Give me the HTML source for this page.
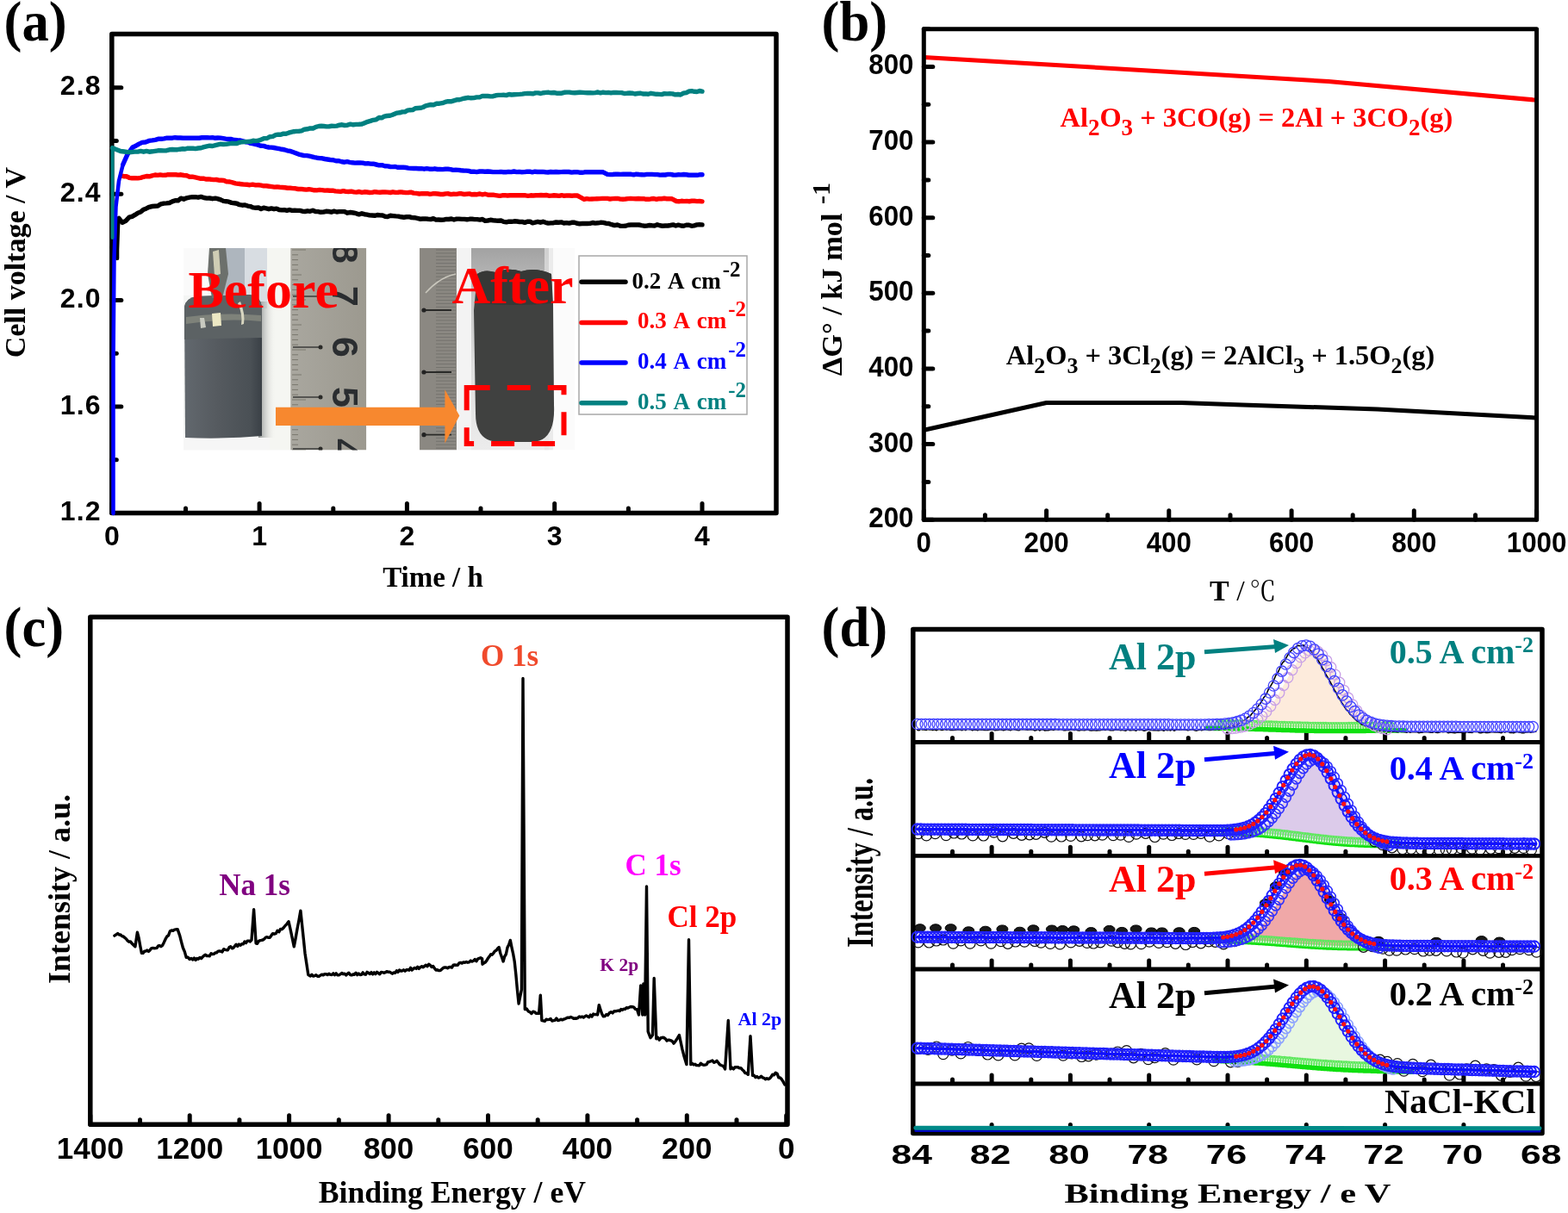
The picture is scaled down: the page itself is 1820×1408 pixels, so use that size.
<!DOCTYPE html><html><head><meta charset="utf-8"><style>html,body{margin:0;padding:0;background:#fff;overflow:hidden;}svg{display:block;}</style></head><body>
<svg width="1820" height="1408" viewBox="0 0 1820 1408">
<rect width="1820" height="1408" fill="#fff"/>
<text x="0" y="0" font-family="'Liberation Serif','Times New Roman',serif" font-size="66" font-weight="bold" text-anchor="start" fill="#000" transform="translate(4.5,47) scale(0.95,1)">(a)</text>
<text x="0" y="0" font-family="'Liberation Serif','Times New Roman',serif" font-size="66" font-weight="bold" text-anchor="start" fill="#000" transform="translate(953.5,47) scale(0.95,1)">(b)</text>
<text x="0" y="0" font-family="'Liberation Serif','Times New Roman',serif" font-size="66" font-weight="bold" text-anchor="start" fill="#000" transform="translate(4.5,749.5) scale(0.95,1)">(c)</text>
<text x="0" y="0" font-family="'Liberation Serif','Times New Roman',serif" font-size="66" font-weight="bold" text-anchor="start" fill="#000" transform="translate(953.5,749.5) scale(0.95,1)">(d)</text>
<defs>
<linearGradient id="bgL" x1="0" y1="0" x2="1" y2="0">
 <stop offset="0" stop-color="#cfd3d8"/><stop offset="0.45" stop-color="#e4e6e8"/><stop offset="0.75" stop-color="#f6f6f4"/><stop offset="1" stop-color="#f2f2ee"/></linearGradient>
<linearGradient id="rulerL" x1="0" y1="0" x2="1" y2="0">
 <stop offset="0" stop-color="#a9a79f"/><stop offset="1" stop-color="#9c998f"/></linearGradient>
<linearGradient id="cylL" x1="0" y1="0" x2="1" y2="0">
 <stop offset="0" stop-color="#62686e"/><stop offset="0.4" stop-color="#565b60"/><stop offset="0.85" stop-color="#4a5055"/><stop offset="1" stop-color="#3a4046"/></linearGradient>
<linearGradient id="shadowL" x1="0" y1="0" x2="1" y2="0">
 <stop offset="0" stop-color="#8e9290"/><stop offset="1" stop-color="#f3f4f0" stop-opacity="0"/></linearGradient>
<linearGradient id="bgR" x1="0" y1="0" x2="0" y2="1">
 <stop offset="0" stop-color="#a2a2a2"/><stop offset="0.25" stop-color="#c4c4c4"/><stop offset="0.6" stop-color="#dedede"/><stop offset="1" stop-color="#ececec"/></linearGradient>
<linearGradient id="rulerR" x1="0" y1="0" x2="1" y2="0">
 <stop offset="0" stop-color="#8f8d88"/><stop offset="1" stop-color="#7f7e7a"/></linearGradient>
</defs>
<clipPath id="clipL"><rect x="213" y="288" width="212.3" height="234.5"/></clipPath>
<clipPath id="clipR"><rect x="487" y="288" width="180" height="234.5"/></clipPath>
<g clip-path="url(#clipL)">
<rect x="213" y="288" width="124.5" height="234.5" fill="#f4f5f4"/>
<rect x="213" y="288" width="28" height="55" fill="#fafafa"/>
<rect x="258" y="288" width="26" height="60" fill="#aeb6be"/>
<rect x="284" y="288" width="26" height="70" fill="#d8dde2"/>
<rect x="310" y="288" width="27.5" height="234.5" fill="#f5f6f2"/>
<rect x="213" y="508" width="100" height="14.5" fill="#f6f6f6"/>
<rect x="337.3" y="288" width="88" height="234.5" fill="url(#rulerL)"/>
<line x1="339" y1="290" x2="355" y2="290" stroke="#7a786e" stroke-width="1.0" stroke-linecap="butt"/>
<line x1="339" y1="295.8" x2="346" y2="295.8" stroke="#7a786e" stroke-width="1.0" stroke-linecap="butt"/>
<line x1="339" y1="301.6" x2="346" y2="301.6" stroke="#7a786e" stroke-width="1.0" stroke-linecap="butt"/>
<line x1="339" y1="307.4" x2="346" y2="307.4" stroke="#7a786e" stroke-width="1.0" stroke-linecap="butt"/>
<line x1="339" y1="313.2" x2="346" y2="313.2" stroke="#7a786e" stroke-width="1.0" stroke-linecap="butt"/>
<line x1="339" y1="319" x2="350" y2="319" stroke="#7a786e" stroke-width="1.0" stroke-linecap="butt"/>
<line x1="339" y1="324.8" x2="346" y2="324.8" stroke="#7a786e" stroke-width="1.0" stroke-linecap="butt"/>
<line x1="339" y1="330.6" x2="346" y2="330.6" stroke="#7a786e" stroke-width="1.0" stroke-linecap="butt"/>
<line x1="339" y1="336.4" x2="346" y2="336.4" stroke="#7a786e" stroke-width="1.0" stroke-linecap="butt"/>
<line x1="339" y1="342.2" x2="346" y2="342.2" stroke="#7a786e" stroke-width="1.0" stroke-linecap="butt"/>
<line x1="339" y1="348" x2="355" y2="348" stroke="#7a786e" stroke-width="1.0" stroke-linecap="butt"/>
<line x1="339" y1="353.8" x2="346" y2="353.8" stroke="#7a786e" stroke-width="1.0" stroke-linecap="butt"/>
<line x1="339" y1="359.6" x2="346" y2="359.6" stroke="#7a786e" stroke-width="1.0" stroke-linecap="butt"/>
<line x1="339" y1="365.4" x2="346" y2="365.4" stroke="#7a786e" stroke-width="1.0" stroke-linecap="butt"/>
<line x1="339" y1="371.2" x2="346" y2="371.2" stroke="#7a786e" stroke-width="1.0" stroke-linecap="butt"/>
<line x1="339" y1="377" x2="350" y2="377" stroke="#7a786e" stroke-width="1.0" stroke-linecap="butt"/>
<line x1="339" y1="382.8" x2="346" y2="382.8" stroke="#7a786e" stroke-width="1.0" stroke-linecap="butt"/>
<line x1="339" y1="388.6" x2="346" y2="388.6" stroke="#7a786e" stroke-width="1.0" stroke-linecap="butt"/>
<line x1="339" y1="394.4" x2="346" y2="394.4" stroke="#7a786e" stroke-width="1.0" stroke-linecap="butt"/>
<line x1="339" y1="400.2" x2="346" y2="400.2" stroke="#7a786e" stroke-width="1.0" stroke-linecap="butt"/>
<line x1="339" y1="406" x2="355" y2="406" stroke="#7a786e" stroke-width="1.0" stroke-linecap="butt"/>
<line x1="339" y1="411.8" x2="346" y2="411.8" stroke="#7a786e" stroke-width="1.0" stroke-linecap="butt"/>
<line x1="339" y1="417.6" x2="346" y2="417.6" stroke="#7a786e" stroke-width="1.0" stroke-linecap="butt"/>
<line x1="339" y1="423.4" x2="346" y2="423.4" stroke="#7a786e" stroke-width="1.0" stroke-linecap="butt"/>
<line x1="339" y1="429.2" x2="346" y2="429.2" stroke="#7a786e" stroke-width="1.0" stroke-linecap="butt"/>
<line x1="339" y1="435" x2="350" y2="435" stroke="#7a786e" stroke-width="1.0" stroke-linecap="butt"/>
<line x1="339" y1="440.8" x2="346" y2="440.8" stroke="#7a786e" stroke-width="1.0" stroke-linecap="butt"/>
<line x1="339" y1="446.6" x2="346" y2="446.6" stroke="#7a786e" stroke-width="1.0" stroke-linecap="butt"/>
<line x1="339" y1="452.4" x2="346" y2="452.4" stroke="#7a786e" stroke-width="1.0" stroke-linecap="butt"/>
<line x1="339" y1="458.2" x2="346" y2="458.2" stroke="#7a786e" stroke-width="1.0" stroke-linecap="butt"/>
<line x1="339" y1="464" x2="355" y2="464" stroke="#7a786e" stroke-width="1.0" stroke-linecap="butt"/>
<line x1="339" y1="469.8" x2="346" y2="469.8" stroke="#7a786e" stroke-width="1.0" stroke-linecap="butt"/>
<line x1="339" y1="475.6" x2="346" y2="475.6" stroke="#7a786e" stroke-width="1.0" stroke-linecap="butt"/>
<line x1="339" y1="481.4" x2="346" y2="481.4" stroke="#7a786e" stroke-width="1.0" stroke-linecap="butt"/>
<line x1="339" y1="487.2" x2="346" y2="487.2" stroke="#7a786e" stroke-width="1.0" stroke-linecap="butt"/>
<line x1="339" y1="493" x2="350" y2="493" stroke="#7a786e" stroke-width="1.0" stroke-linecap="butt"/>
<line x1="339" y1="498.8" x2="346" y2="498.8" stroke="#7a786e" stroke-width="1.0" stroke-linecap="butt"/>
<line x1="339" y1="504.6" x2="346" y2="504.6" stroke="#7a786e" stroke-width="1.0" stroke-linecap="butt"/>
<line x1="339" y1="510.4" x2="346" y2="510.4" stroke="#7a786e" stroke-width="1.0" stroke-linecap="butt"/>
<line x1="339" y1="516.2" x2="346" y2="516.2" stroke="#7a786e" stroke-width="1.0" stroke-linecap="butt"/>
<line x1="339" y1="522" x2="355" y2="522" stroke="#7a786e" stroke-width="1.0" stroke-linecap="butt"/>
<line x1="339" y1="527.8" x2="346" y2="527.8" stroke="#7a786e" stroke-width="1.0" stroke-linecap="butt"/>
<line x1="339" y1="533.6" x2="346" y2="533.6" stroke="#7a786e" stroke-width="1.0" stroke-linecap="butt"/>
<line x1="339" y1="539.4" x2="346" y2="539.4" stroke="#7a786e" stroke-width="1.0" stroke-linecap="butt"/>
<line x1="339" y1="545.2" x2="346" y2="545.2" stroke="#7a786e" stroke-width="1.0" stroke-linecap="butt"/>
<line x1="339" y1="551" x2="350" y2="551" stroke="#7a786e" stroke-width="1.0" stroke-linecap="butt"/>
<line x1="339" y1="556.8" x2="346" y2="556.8" stroke="#7a786e" stroke-width="1.0" stroke-linecap="butt"/>
<text x="0" y="0" transform="translate(386,294) rotate(90)" font-family="'Liberation Sans',Arial,sans-serif" font-size="43" font-weight="bold" fill="#2a2d30" text-anchor="middle">8</text>
<text x="0" y="0" transform="translate(386,344) rotate(90)" font-family="'Liberation Sans',Arial,sans-serif" font-size="43" font-weight="bold" fill="#2a2d30" text-anchor="middle">7</text>
<text x="0" y="0" transform="translate(386,403) rotate(90)" font-family="'Liberation Sans',Arial,sans-serif" font-size="43" font-weight="bold" fill="#2a2d30" text-anchor="middle">6</text>
<text x="0" y="0" transform="translate(386,461) rotate(90)" font-family="'Liberation Sans',Arial,sans-serif" font-size="43" font-weight="bold" fill="#2a2d30" text-anchor="middle">5</text>
<text x="0" y="0" transform="translate(386,521) rotate(90)" font-family="'Liberation Sans',Arial,sans-serif" font-size="43" font-weight="bold" fill="#2a2d30" text-anchor="middle">4</text>
<line x1="340" y1="344" x2="372" y2="344" stroke="#3a3a38" stroke-width="1.6" stroke-linecap="butt"/>
<circle cx="372" cy="344" r="2.5" fill="#2a2a28"/>
<line x1="340" y1="403" x2="372" y2="403" stroke="#3a3a38" stroke-width="1.6" stroke-linecap="butt"/>
<circle cx="372" cy="403" r="2.5" fill="#2a2a28"/>
<line x1="340" y1="461" x2="372" y2="461" stroke="#3a3a38" stroke-width="1.6" stroke-linecap="butt"/>
<circle cx="372" cy="461" r="2.5" fill="#2a2a28"/>
<line x1="340" y1="521" x2="372" y2="521" stroke="#3a3a38" stroke-width="1.6" stroke-linecap="butt"/>
<circle cx="372" cy="521" r="2.5" fill="#2a2a28"/>
<rect x="300" y="350" width="20" height="158" fill="url(#shadowL)"/>
<path d="M214,356 Q216,346 228,344 L290,342 Q302,344 304,356 L304,506 Q260,510 215,508 Z" fill="url(#cylL)"/>
<path d="M214,356 Q216,346 228,344 L290,342 Q302,344 304,356 L304,392 L214,394 Z" fill="#5c6264"/>
<path d="M216,368 Q260,362 303,366 L303,373 Q260,369 216,376 Z" fill="#7e827a"/>
<path d="M246,364 L256,363 L257,378 L247,379 Z" fill="#ece8c4"/>
<path d="M232,369 L237,369 L239,380 L233,381 Z" fill="#c8cac0"/>
<path d="M279,350 Q285,365 283,376 L280,377 Q282,366 276,352 Z" fill="#d8d6c0"/>
<path d="M243,288 L262,288 L265,318 L258,346 L246,346 L241,318 Z" fill="#6c706c"/>
<path d="M247,292 L254,290 L256,318 L249,320 Z" fill="#cfcdb4"/>
</g>
<g clip-path="url(#clipR)">
<rect x="487" y="288" width="43" height="234.5" fill="#8b8882"/>
<line x1="506" y1="290" x2="529" y2="290" stroke="#6f6d68" stroke-width="0.8" stroke-linecap="butt"/>
<line x1="506" y1="293.9" x2="529" y2="293.9" stroke="#6f6d68" stroke-width="0.8" stroke-linecap="butt"/>
<line x1="506" y1="297.8" x2="529" y2="297.8" stroke="#6f6d68" stroke-width="0.8" stroke-linecap="butt"/>
<line x1="506" y1="301.7" x2="529" y2="301.7" stroke="#6f6d68" stroke-width="0.8" stroke-linecap="butt"/>
<line x1="506" y1="305.6" x2="529" y2="305.6" stroke="#6f6d68" stroke-width="0.8" stroke-linecap="butt"/>
<line x1="506" y1="309.5" x2="529" y2="309.5" stroke="#6f6d68" stroke-width="0.8" stroke-linecap="butt"/>
<line x1="506" y1="313.4" x2="529" y2="313.4" stroke="#6f6d68" stroke-width="0.8" stroke-linecap="butt"/>
<line x1="506" y1="317.3" x2="529" y2="317.3" stroke="#6f6d68" stroke-width="0.8" stroke-linecap="butt"/>
<line x1="506" y1="321.2" x2="529" y2="321.2" stroke="#6f6d68" stroke-width="0.8" stroke-linecap="butt"/>
<line x1="506" y1="325.1" x2="529" y2="325.1" stroke="#6f6d68" stroke-width="0.8" stroke-linecap="butt"/>
<line x1="506" y1="329" x2="529" y2="329" stroke="#6f6d68" stroke-width="0.8" stroke-linecap="butt"/>
<line x1="506" y1="332.9" x2="529" y2="332.9" stroke="#6f6d68" stroke-width="0.8" stroke-linecap="butt"/>
<line x1="506" y1="336.8" x2="529" y2="336.8" stroke="#6f6d68" stroke-width="0.8" stroke-linecap="butt"/>
<line x1="506" y1="340.7" x2="529" y2="340.7" stroke="#6f6d68" stroke-width="0.8" stroke-linecap="butt"/>
<line x1="506" y1="344.6" x2="529" y2="344.6" stroke="#6f6d68" stroke-width="0.8" stroke-linecap="butt"/>
<line x1="506" y1="348.5" x2="529" y2="348.5" stroke="#6f6d68" stroke-width="0.8" stroke-linecap="butt"/>
<line x1="506" y1="352.4" x2="529" y2="352.4" stroke="#6f6d68" stroke-width="0.8" stroke-linecap="butt"/>
<line x1="506" y1="356.3" x2="529" y2="356.3" stroke="#6f6d68" stroke-width="0.8" stroke-linecap="butt"/>
<line x1="506" y1="360.2" x2="529" y2="360.2" stroke="#6f6d68" stroke-width="0.8" stroke-linecap="butt"/>
<line x1="506" y1="364.1" x2="529" y2="364.1" stroke="#6f6d68" stroke-width="0.8" stroke-linecap="butt"/>
<line x1="506" y1="368" x2="529" y2="368" stroke="#6f6d68" stroke-width="0.8" stroke-linecap="butt"/>
<line x1="506" y1="371.9" x2="529" y2="371.9" stroke="#6f6d68" stroke-width="0.8" stroke-linecap="butt"/>
<line x1="506" y1="375.8" x2="529" y2="375.8" stroke="#6f6d68" stroke-width="0.8" stroke-linecap="butt"/>
<line x1="506" y1="379.7" x2="529" y2="379.7" stroke="#6f6d68" stroke-width="0.8" stroke-linecap="butt"/>
<line x1="506" y1="383.6" x2="529" y2="383.6" stroke="#6f6d68" stroke-width="0.8" stroke-linecap="butt"/>
<line x1="506" y1="387.5" x2="529" y2="387.5" stroke="#6f6d68" stroke-width="0.8" stroke-linecap="butt"/>
<line x1="506" y1="391.4" x2="529" y2="391.4" stroke="#6f6d68" stroke-width="0.8" stroke-linecap="butt"/>
<line x1="506" y1="395.3" x2="529" y2="395.3" stroke="#6f6d68" stroke-width="0.8" stroke-linecap="butt"/>
<line x1="506" y1="399.2" x2="529" y2="399.2" stroke="#6f6d68" stroke-width="0.8" stroke-linecap="butt"/>
<line x1="506" y1="403.1" x2="529" y2="403.1" stroke="#6f6d68" stroke-width="0.8" stroke-linecap="butt"/>
<line x1="506" y1="407" x2="529" y2="407" stroke="#6f6d68" stroke-width="0.8" stroke-linecap="butt"/>
<line x1="506" y1="410.9" x2="529" y2="410.9" stroke="#6f6d68" stroke-width="0.8" stroke-linecap="butt"/>
<line x1="506" y1="414.8" x2="529" y2="414.8" stroke="#6f6d68" stroke-width="0.8" stroke-linecap="butt"/>
<line x1="506" y1="418.7" x2="529" y2="418.7" stroke="#6f6d68" stroke-width="0.8" stroke-linecap="butt"/>
<line x1="506" y1="422.6" x2="529" y2="422.6" stroke="#6f6d68" stroke-width="0.8" stroke-linecap="butt"/>
<line x1="506" y1="426.5" x2="529" y2="426.5" stroke="#6f6d68" stroke-width="0.8" stroke-linecap="butt"/>
<line x1="506" y1="430.4" x2="529" y2="430.4" stroke="#6f6d68" stroke-width="0.8" stroke-linecap="butt"/>
<line x1="506" y1="434.3" x2="529" y2="434.3" stroke="#6f6d68" stroke-width="0.8" stroke-linecap="butt"/>
<line x1="506" y1="438.2" x2="529" y2="438.2" stroke="#6f6d68" stroke-width="0.8" stroke-linecap="butt"/>
<line x1="506" y1="442.1" x2="529" y2="442.1" stroke="#6f6d68" stroke-width="0.8" stroke-linecap="butt"/>
<line x1="506" y1="446" x2="529" y2="446" stroke="#6f6d68" stroke-width="0.8" stroke-linecap="butt"/>
<line x1="506" y1="449.9" x2="529" y2="449.9" stroke="#6f6d68" stroke-width="0.8" stroke-linecap="butt"/>
<line x1="506" y1="453.8" x2="529" y2="453.8" stroke="#6f6d68" stroke-width="0.8" stroke-linecap="butt"/>
<line x1="506" y1="457.7" x2="529" y2="457.7" stroke="#6f6d68" stroke-width="0.8" stroke-linecap="butt"/>
<line x1="506" y1="461.6" x2="529" y2="461.6" stroke="#6f6d68" stroke-width="0.8" stroke-linecap="butt"/>
<line x1="506" y1="465.5" x2="529" y2="465.5" stroke="#6f6d68" stroke-width="0.8" stroke-linecap="butt"/>
<line x1="506" y1="469.4" x2="529" y2="469.4" stroke="#6f6d68" stroke-width="0.8" stroke-linecap="butt"/>
<line x1="506" y1="473.3" x2="529" y2="473.3" stroke="#6f6d68" stroke-width="0.8" stroke-linecap="butt"/>
<line x1="506" y1="477.2" x2="529" y2="477.2" stroke="#6f6d68" stroke-width="0.8" stroke-linecap="butt"/>
<line x1="506" y1="481.1" x2="529" y2="481.1" stroke="#6f6d68" stroke-width="0.8" stroke-linecap="butt"/>
<line x1="506" y1="485" x2="529" y2="485" stroke="#6f6d68" stroke-width="0.8" stroke-linecap="butt"/>
<line x1="506" y1="488.9" x2="529" y2="488.9" stroke="#6f6d68" stroke-width="0.8" stroke-linecap="butt"/>
<line x1="506" y1="492.8" x2="529" y2="492.8" stroke="#6f6d68" stroke-width="0.8" stroke-linecap="butt"/>
<line x1="506" y1="496.7" x2="529" y2="496.7" stroke="#6f6d68" stroke-width="0.8" stroke-linecap="butt"/>
<line x1="506" y1="500.6" x2="529" y2="500.6" stroke="#6f6d68" stroke-width="0.8" stroke-linecap="butt"/>
<line x1="506" y1="504.5" x2="529" y2="504.5" stroke="#6f6d68" stroke-width="0.8" stroke-linecap="butt"/>
<line x1="506" y1="508.4" x2="529" y2="508.4" stroke="#6f6d68" stroke-width="0.8" stroke-linecap="butt"/>
<line x1="506" y1="512.3" x2="529" y2="512.3" stroke="#6f6d68" stroke-width="0.8" stroke-linecap="butt"/>
<line x1="506" y1="516.2" x2="529" y2="516.2" stroke="#6f6d68" stroke-width="0.8" stroke-linecap="butt"/>
<line x1="506" y1="520.1" x2="529" y2="520.1" stroke="#6f6d68" stroke-width="0.8" stroke-linecap="butt"/>
<line x1="491" y1="360" x2="524" y2="360" stroke="#2a2a28" stroke-width="1.8" stroke-linecap="butt"/>
<circle cx="492" cy="360" r="2.6" fill="#222"/>
<line x1="491" y1="432" x2="524" y2="432" stroke="#2a2a28" stroke-width="1.8" stroke-linecap="butt"/>
<circle cx="492" cy="432" r="2.6" fill="#222"/>
<line x1="491" y1="504.7" x2="524" y2="504.7" stroke="#2a2a28" stroke-width="1.8" stroke-linecap="butt"/>
<circle cx="492" cy="504.7" r="2.6" fill="#222"/>
<path d="M494,340 Q510,322 529,318" stroke="#c8c6bc" stroke-width="1.5" fill="none"/>
<rect x="530" y="288" width="17" height="234.5" fill="#f3f3f3"/>
<rect x="547" y="288" width="90" height="234.5" fill="url(#bgR)"/>
<rect x="637" y="288" width="30" height="234.5" fill="#fbfbfb"/>
<rect x="632" y="288" width="10" height="234.5" fill="#e4e4e4" opacity="0.7"/>
<path d="M554,318 Q562,312 575,316 Q590,310 605,315 Q622,310 640,318 L642,352 L643,470 Q645,512 618,513 L578,513 Q552,512 552,480 L550,360 Z" fill="#404140"/>
<path d="M554,318 Q562,312 575,316 Q590,310 605,315 Q622,310 640,318 L641,352 Q600,356 553,352 Z" fill="#363836"/>
</g>
<path d="M320,472.7 L516.4,472.7 L516.4,452.3 L533.3,482.5 L516.4,514.5 L516.4,494 L320,494 Z" fill="#f7882f"/>
<rect x="541.7" y="450.1" width="112.8" height="64.8" fill="none" stroke="#ff0000" stroke-width="6" stroke-dasharray="27 20"/>
<text x="218.5" y="356.5" font-family="'Liberation Serif','Times New Roman',serif" font-size="62" font-weight="bold" text-anchor="start" fill="#ff0000" >Before</text>
<text x="524.5" y="351.8" font-family="'Liberation Serif','Times New Roman',serif" font-size="62" font-weight="bold" text-anchor="start" fill="#ff0000" >After</text>
<rect x="672" y="297" width="195" height="184" fill="#fff" stroke="#a8a8a8" stroke-width="1.5"/>
<line x1="675" y1="327.2" x2="726" y2="327.2" stroke="#000000" stroke-width="5.5" stroke-linecap="round"/>
<text x="733.5" y="335.2" font-family="'Liberation Serif','Times New Roman',serif" font-size="27" font-weight="bold" fill="#000000" word-spacing="2.5">0.2 A cm<tspan dx="2" dy="-14" font-size="25">-2</tspan></text>
<line x1="675" y1="374.5" x2="726" y2="374.5" stroke="#ff0000" stroke-width="5.5" stroke-linecap="round"/>
<text x="740" y="381.4" font-family="'Liberation Serif','Times New Roman',serif" font-size="27" font-weight="bold" fill="#ff0000" word-spacing="2.5">0.3 A cm<tspan dx="2" dy="-14" font-size="25">-2</tspan></text>
<line x1="675" y1="421.1" x2="726" y2="421.1" stroke="#0000ff" stroke-width="5.5" stroke-linecap="round"/>
<text x="740" y="428.4" font-family="'Liberation Serif','Times New Roman',serif" font-size="27" font-weight="bold" fill="#0000ff" word-spacing="2.5">0.4 A cm<tspan dx="2" dy="-14" font-size="25">-2</tspan></text>
<line x1="675" y1="467.7" x2="726" y2="467.7" stroke="#008080" stroke-width="5.5" stroke-linecap="round"/>
<text x="740" y="475" font-family="'Liberation Serif','Times New Roman',serif" font-size="27" font-weight="bold" fill="#008080" word-spacing="2.5">0.5 A cm<tspan dx="2" dy="-14" font-size="25">-2</tspan></text>
<rect x="129.8" y="39.4" width="771.2" height="556.1" fill="none" stroke="#000" stroke-width="5.5" stroke-linejoin="round"/>
<line x1="129.8" y1="595.5" x2="140.8" y2="595.5" stroke="#000" stroke-width="5" stroke-linecap="round"/>
<text x="117.8" y="604.2" font-family="'Liberation Sans',Arial,sans-serif" font-size="32" font-weight="bold" text-anchor="end" fill="#000" letter-spacing="1.2">1.2</text>
<line x1="129.8" y1="472.1" x2="140.8" y2="472.1" stroke="#000" stroke-width="5" stroke-linecap="round"/>
<text x="117.8" y="480.8" font-family="'Liberation Sans',Arial,sans-serif" font-size="32" font-weight="bold" text-anchor="end" fill="#000" letter-spacing="1.2">1.6</text>
<line x1="129.8" y1="348.6" x2="140.8" y2="348.6" stroke="#000" stroke-width="5" stroke-linecap="round"/>
<text x="117.8" y="357.3" font-family="'Liberation Sans',Arial,sans-serif" font-size="32" font-weight="bold" text-anchor="end" fill="#000" letter-spacing="1.2">2.0</text>
<line x1="129.8" y1="225.2" x2="140.8" y2="225.2" stroke="#000" stroke-width="5" stroke-linecap="round"/>
<text x="117.8" y="233.9" font-family="'Liberation Sans',Arial,sans-serif" font-size="32" font-weight="bold" text-anchor="end" fill="#000" letter-spacing="1.2">2.4</text>
<line x1="129.8" y1="101.7" x2="140.8" y2="101.7" stroke="#000" stroke-width="5" stroke-linecap="round"/>
<text x="117.8" y="110.4" font-family="'Liberation Sans',Arial,sans-serif" font-size="32" font-weight="bold" text-anchor="end" fill="#000" letter-spacing="1.2">2.8</text>
<line x1="129.8" y1="533.8" x2="135.3" y2="533.8" stroke="#000" stroke-width="5" stroke-linecap="round"/>
<line x1="129.8" y1="410.3" x2="135.3" y2="410.3" stroke="#000" stroke-width="5" stroke-linecap="round"/>
<line x1="129.8" y1="286.9" x2="135.3" y2="286.9" stroke="#000" stroke-width="5" stroke-linecap="round"/>
<line x1="129.8" y1="163.5" x2="135.3" y2="163.5" stroke="#000" stroke-width="5" stroke-linecap="round"/>
<line x1="129.8" y1="595.5" x2="129.8" y2="584.5" stroke="#000" stroke-width="5" stroke-linecap="round"/>
<text x="129.8" y="632.5" font-family="'Liberation Sans',Arial,sans-serif" font-size="32" font-weight="bold" text-anchor="middle" fill="#000" >0</text>
<line x1="301.1" y1="595.5" x2="301.1" y2="584.5" stroke="#000" stroke-width="5" stroke-linecap="round"/>
<text x="301.1" y="632.5" font-family="'Liberation Sans',Arial,sans-serif" font-size="32" font-weight="bold" text-anchor="middle" fill="#000" >1</text>
<line x1="472.4" y1="595.5" x2="472.4" y2="584.5" stroke="#000" stroke-width="5" stroke-linecap="round"/>
<text x="472.4" y="632.5" font-family="'Liberation Sans',Arial,sans-serif" font-size="32" font-weight="bold" text-anchor="middle" fill="#000" >2</text>
<line x1="643.7" y1="595.5" x2="643.7" y2="584.5" stroke="#000" stroke-width="5" stroke-linecap="round"/>
<text x="643.7" y="632.5" font-family="'Liberation Sans',Arial,sans-serif" font-size="32" font-weight="bold" text-anchor="middle" fill="#000" >3</text>
<line x1="815" y1="595.5" x2="815" y2="584.5" stroke="#000" stroke-width="5" stroke-linecap="round"/>
<text x="815" y="632.5" font-family="'Liberation Sans',Arial,sans-serif" font-size="32" font-weight="bold" text-anchor="middle" fill="#000" >4</text>
<line x1="215.5" y1="595.5" x2="215.5" y2="590" stroke="#000" stroke-width="5" stroke-linecap="round"/>
<line x1="386.8" y1="595.5" x2="386.8" y2="590" stroke="#000" stroke-width="5" stroke-linecap="round"/>
<line x1="558" y1="595.5" x2="558" y2="590" stroke="#000" stroke-width="5" stroke-linecap="round"/>
<line x1="729.4" y1="595.5" x2="729.4" y2="590" stroke="#000" stroke-width="5" stroke-linecap="round"/>
<text x="0" y="0" font-family="'Liberation Serif','Times New Roman',serif" font-size="34" font-weight="bold" text-anchor="middle" fill="#000" transform="translate(29.3,304.7) rotate(-90)">Cell voltage / V</text>
<polyline points="136,300 136,300 136,290 137,262 138,253.6" fill="none" stroke="#000" stroke-width="4.5" stroke-linejoin="round" stroke-linecap="round" />
<polyline points="138,253.3 142,258.4 146,256.3 150,252.2 153.3,251.4 156.7,249.4 160,247.2 163.3,246 166.7,243.2 170,241.9 173.3,240.3 176.7,239.5 180,239.2 183.3,239 186.7,236.8 190,236.1 193.3,235.9 196.7,235.5 200,233.9 203.3,232.7 206.7,232.8 210,230.2 213.3,231.2 216.7,229.8 220,229.2 223.3,228.7 226.7,228.7 230,229.2 233.3,228.4 236.7,229.5 240,230.1 243.3,230 246.7,230.7 250,230.2 253.1,230.9 256.2,231.9 259.4,233.4 262.5,233.7 265.6,234.2 268.8,235.4 271.9,235.8 275,236.2 278.1,237.7 281.2,238.2 284.4,237.9 287.5,239.1 290.6,239.6 293.8,240.9 296.9,241.2 300,241 303,242.5 306,241.2 309,241.9 312,242.7 315,241.9 318,242.7 321,242.1 324,243.5 327,243.9 330,243.7 333,244.4 336,243.5 339,244.4 342,244.3 345,244.4 348,244.4 351,245.2 354,245.5 357,244.8 360,245.3 363.1,244.3 366.2,245.6 369.2,245.6 372.3,246.3 375.4,246.1 378.5,245.3 381.5,245.5 384.6,246.2 387.7,245.1 390.8,246 393.8,245.6 396.9,245.6 400,245.6 403.3,247.2 406.7,246.5 410,247 413.3,247.7 416.7,248.9 420,247.8 423,248.7 426,249.1 429,249.9 432,250 435,250.3 438,249.5 441,249.9 444,250 447,251.2 450,251.5 453.1,250.3 456.2,250.6 459.4,250.9 462.5,251.1 465.6,251.8 468.8,252.2 471.9,251.8 475,251.6 478.1,252.6 481.2,252.7 484.4,253.3 487.5,254.2 490.6,254 493.8,253.9 496.9,254.3 500,254.6 503,253.6 506,255.1 509,255 512,255.2 515,255.1 518,254.4 521,254.5 524,254 527,255 530,254.1 533,254.1 536,254.4 539,254.4 542,254.8 545,254.3 548,254.3 551,254.6 554,254.6 557,255.1 560,254.5 563.1,256.3 566.2,256 569.2,255.3 572.3,255.7 575.4,256 578.5,256.2 581.5,256 584.6,257.4 587.7,257.9 590.8,257.1 593.8,257.3 596.9,256.8 600,257 603,257.5 606.1,257.4 609.1,258.4 612.1,257.3 615.2,257.1 618.2,258.8 621.2,258.1 624.2,257.4 627.3,258.2 630.3,257.3 633.3,258.3 636.4,259.1 639.4,258.9 642.4,258.7 645.5,258 648.5,258.2 651.5,257.9 654.5,259 657.6,258.6 660.6,259.1 663.6,258.3 666.7,258.2 669.7,259.3 672.7,259.7 675.8,259.5 678.8,259.4 681.8,259.5 684.8,259.4 687.9,258.5 690.9,259.1 693.9,258.8 697,258.3 700,258.4 703.3,259.2 706.7,259.5 710,260.7 713.3,261.6 716.7,261 720,262.3 723.1,262.4 726.1,262.3 729.2,261.3 732.3,261 735.3,261 738.4,261 741.5,261 744.5,261.7 747.6,262.2 750.6,262.1 753.7,261.5 756.8,261.8 759.8,262 762.9,260.8 766,261.8 769,262.2 772.1,262 775.2,262 778.2,261.5 781.3,260.9 784.4,262 787.4,261.2 790.5,262 793.5,262.3 796.6,261.3 799.7,261.3 802.7,262.3 805.8,261.9 808.9,260.9 811.9,260.8 815,260.9" fill="none" stroke="#000" stroke-width="5.4" stroke-linejoin="round" stroke-linecap="round" />
<polyline points="140.5,204 143.7,204.7 146.8,204.8 150,206.3 153.3,206.8 156.7,206.8 160,206.9 163.3,206.4 166.7,205.3 170,204.5 173.3,204.8 176.7,203.8 180,203 183,203.4 186,202.9 189,203.4 192,203.3 195,202.7 198,202.8 201,202.8 204,202.7 207,203.1 210,202.8 213.3,203.5 216.7,203.8 220,205.2 223.3,205.2 226.7,205.9 230,206.6 233,207.3 236,207.1 239,208 242,207.9 245,208.3 248,208.6 251,208.5 254,209.2 257,209.3 260,209.5 263.3,210.9 266.7,211 270,211.9 273.3,212.8 276.7,213.3 280,213.7 283.3,214.1 286.7,214.3 290,214.7 293.3,214.2 296.7,214.9 300,214.7 303.1,215.1 306.2,215.8 309.2,215.8 312.3,216.2 315.4,216.6 318.5,217.1 321.5,216.9 324.6,217.3 327.7,217.5 330.8,217.8 333.8,218.2 336.9,218.3 340,218.6 343.1,218.8 346.2,219.5 349.2,219.4 352.3,219.8 355.4,220.1 358.5,219.7 361.5,220.2 364.6,220.8 367.7,220.9 370.8,220.4 373.8,220.6 376.9,221.1 380,221 383.1,221.3 386.2,221.2 389.2,221.9 392.3,222.1 395.4,222.4 398.5,221.7 401.5,222.4 404.6,222.5 407.7,222.1 410.8,222.9 413.8,223.1 416.9,222.5 420,223.4 423,222.8 426,223 429,223.5 432,223.4 435,222.7 438,223 441,223.2 444,223 447,222.9 450,223.1 453,223.5 456,222.8 459,223.4 462,223.3 465,222.9 468,223.3 471,223.6 474,223.5 477,223.1 480,224.1 483.3,224.4 486.7,225 490,224.6 493,224.8 496.1,224.6 499.1,225.3 502.2,224.8 505.2,224.7 508.3,225 511.3,225.5 514.3,225.5 517.4,224.9 520.4,224.8 523.5,225.6 526.5,225.3 529.6,225.4 532.6,224.8 535.7,224.8 538.7,225.5 541.7,225.2 544.8,224.9 547.8,225.8 550.9,225.5 553.9,225.7 557,225 560,225.8 563.3,225.2 566.7,226.3 570,226.2 573.3,226.3 576.7,226.8 580,227.4 583,226.8 586,226.6 589,227 592,226.7 595,226.6 598,226.7 601,226.6 604,226.7 607,226.8 610,226.8 613,227.3 616,226.8 619,227 622,226.7 625,226.8 628,226.5 631,226.8 634,226.5 637,227.2 640,227.1 643,226.7 646,227 649,227.4 652,226.6 655,227.3 658,226.9 661,227 664,227.3 667,226.9 670,227 674,229.1 678,231.3 681,230.6 684,231.1 687,231 690,230.9 693,230.7 696,230.6 699,230.4 702,230.4 705,230.4 708,231 711,230.6 714,230.5 717,230.4 720,231.1 723,231.2 726,231 729,230.6 732,230.5 735,230.6 738,230.8 741,230.5 744,230.7 747,230.6 750,231.3 753,231.3 756,230.8 759,230.5 762,231.3 765,230.6 768,230.7 771,230.3 774,230.7 777,230.8 780,230.8 785,233.5 788,233.8 791,233.3 794,233.6 797,233.4 800,233.7 803,233.3 806,233.3 809,233.6 812,233.5 815,233.9" fill="none" stroke="#ff0000" stroke-width="5.4" stroke-linejoin="round" stroke-linecap="round" />
<polyline points="131.5,596 131.5,420 132.5,300 134.5,240 138,210 142.7,191" fill="none" stroke="#0000ff" stroke-width="4.5" stroke-linejoin="round" stroke-linecap="round" />
<polyline points="142.7,191 148,179.2 151,175 154,170.9 157.7,169.3 161.3,167.1 165,165.4 168.9,165 172.9,163.4 176.8,162.9 180.2,162.3 183.6,161.3 187.1,161.3 190.5,160.9 193.9,160.1 197,160.2 200.1,160.2 203.2,159.7 206.3,160 209.4,160 212.5,160.3 215.6,160.2 218.7,160.3 221.8,160.1 224.9,160.3 228.1,160.1 231.2,160.2 234.3,159.8 237.4,159.6 240.5,159.7 243.6,159.9 246.7,159.7 249.8,160.3 252.9,160 256,160.1 259,160.6 262,161.1 265,161.5 268.5,161.5 272,162.5 275.5,162.8 279,163 282,163.8 285,164.7 288,165.1 291,166.4 294,166.8 297,167.5 300,168.4 303,169.3 306,169.4 309,170.3 312,171 315,171.1 318,171.5 321,172.1 324,172.7 327,173.3 330,173.7 333.3,174.8 336.7,175.4 340,176.5 343.3,177.7 346.7,179.1 350,179.8 353,180.6 356,180.6 359,181.1 362,181.8 365,182.6 368,183.2 371,183.6 374,183.8 377,184.5 380,185 383.3,185.5 386.7,185.7 390,186.8 393.3,186.7 396.7,187.8 400,188.2 403,187.7 406,188.3 409,188.8 412,189.1 415,188.9 418,189 421,189.1 424,189.9 427,189.6 430,190.1 433.3,190.2 436.7,191 440,191.8 443.3,191.6 446.7,192.7 450,192.9 453,193.5 456,193.6 459,193.5 462,194.3 465,194.3 468,194.2 471,194.5 474,195.1 477,195.4 480,195.5 483.1,195.5 486.2,195.7 489.2,195.7 492.3,196.2 495.4,195.6 498.5,196.2 501.5,196.3 504.6,195.8 507.7,196.5 510.8,196.4 513.8,196.6 516.9,196.2 520,196.3 523,196.6 526,197.4 529,197.3 532,197.4 535,197.8 538,198 541,198.1 544,198.4 547,199.3 550,199.1 553.3,199.6 556.7,199 560,199 563,199.2 566.1,199 569.1,199.2 572.2,199.6 575.2,199.6 578.3,199.6 581.3,199.4 584.3,199.7 587.4,199.7 590.4,199.4 593.5,199.6 596.5,199 599.6,199.6 602.6,199.4 605.7,199.7 608.7,199.6 611.7,199.3 614.8,199.2 617.8,199.9 620.9,199.2 623.9,199.5 627,199.5 630,199.4 633,199.8 636.1,200 639.1,199.5 642.2,199.8 645.2,199.5 648.3,199.8 651.3,199.6 654.3,199.5 657.4,199.5 660.4,199.5 663.5,200.1 666.5,199.8 669.6,199.6 672.6,200.2 675.7,200.3 678.7,199.8 681.7,199.6 684.8,199.7 687.8,199.6 690.9,199.8 693.9,199.6 697,199.8 700,199.8 705,202.4 708.1,202.6 711.1,202.5 714.2,202.3 717.2,202.3 720.3,202.4 723.3,202.3 726.4,202.3 729.4,202.1 732.5,202.3 735.6,202.9 738.6,202.2 741.7,202.5 744.7,202.7 747.8,202.9 750.8,202.4 753.9,202.4 756.9,202.4 760,202.6 763.1,202.6 766.1,203.1 769.2,203 772.2,203 775.3,202.4 778.3,202.4 781.4,203 784.4,203.1 787.5,202.8 790.6,202.9 793.6,202.5 796.7,202.8 799.7,203.2 802.8,203.2 805.8,203.2 808.9,203.3 811.9,202.8 815,202.7" fill="none" stroke="#0000ff" stroke-width="5.4" stroke-linejoin="round" stroke-linecap="round" />
<polyline points="130.5,276 130.5,172" fill="none" stroke="#008080" stroke-width="4" stroke-linejoin="round" stroke-linecap="round" />
<polyline points="130.5,171.6 133.7,173 136.8,174.2 140,175.5 144.2,176 148.4,176.6 152.3,176.6 156.1,176.1 160,176.1 163.3,175.4 166.7,176.2 170,175.4 173.3,176.2 176.7,175.8 180,175.3 183.3,174.8 186.7,174.7 190,174.9 193.3,174.7 196.7,173.8 200,173.5 203,173.8 206,173.7 209,173.2 212,172.8 215,173 218,172.1 221,172.2 224,172.2 227,172.6 230,172 233.3,171.7 236.7,170.6 240,169.8 243.3,169.2 246.7,169.5 250,168.6 253.1,167.9 256.2,167.2 259.4,167.5 262.5,167.4 265.6,166.8 268.8,166.3 271.9,166.5 275,166.5 278.1,165.3 281.2,164.7 284.4,164.6 287.5,164.4 290.6,164.3 293.8,163.3 296.9,163.6 300,163.2 303.3,161.9 306.7,160.6 310,160.5 313.3,158.7 316.7,158.4 320,156.7 323,156.1 326,156.2 329,155.1 332,155.3 335,154.2 338,153.3 341,152.7 344,152.4 347,152.2 350,151.9 353.3,150.2 356.7,149.8 360,148.9 363.3,149 366.7,147.3 370,146.5 373,146.3 376,146.5 379,146.9 382,146.7 385,146.3 388,146.4 391,146.1 394,145.2 397,144.8 400,145.5 403.3,145.2 406.7,144.2 410,144.8 413.3,144.4 416.7,144.3 420,144.1 423.3,142.7 426.7,141.3 430,140.4 433.3,139.3 436.7,138.8 440,136.5 443,136.8 446,135.1 449,134.5 452,134.3 455,133.5 458,132.3 461,131.1 464,130.8 467,129.9 470,129.8 473,128.2 476,127.7 479,127.6 482,125.8 485,125.5 488,125.3 491,124.5 494,122.9 497,122.2 500,121.5 503.3,121.8 506.7,120.3 510,120.2 513.3,119.7 516.7,118.4 520,117.6 523.3,117.8 526.7,116.8 530,115.8 533.3,115.8 536.7,114.7 540,114 543.3,113.3 546.7,113.8 550,113.6 553.3,112.9 556.7,112.9 560,111.4 563.1,111.5 566.2,111.5 569.2,111.9 572.3,111.7 575.4,110.8 578.5,110.4 581.5,110.4 584.6,110.3 587.7,110.6 590.8,109.5 593.8,110 596.9,109.7 600,109.6 603.1,109.4 606.2,109.1 609.2,108.6 612.3,108.5 615.4,108.5 618.5,108.8 621.5,107.9 624.6,107.9 627.7,108.5 630.8,107.7 633.8,107.4 636.9,107.3 640,107.8 643,107.5 646,108.2 649,108.1 652,108.2 655,107.3 658,107.1 661,107.1 664,107.6 667,107.8 670,107.5 673,107.2 676,107.4 679,107.6 682,107.7 685,107.8 688,107.9 691,107.6 694,107 697,107.8 700,107.2 703.1,107.6 706.2,107.4 709.2,107.9 712.3,107.4 715.4,107.5 718.5,107.6 721.5,107.6 724.6,108.5 727.7,108.3 730.8,108 733.8,108.2 736.9,109 740,108.5 743.1,108.2 746.2,109 749.4,108.9 752.5,109.3 755.6,108.3 758.8,108.8 761.9,109.3 765,109.4 768.1,109.6 771.2,108.6 774.4,108.9 777.5,108.8 780.6,108.9 783.8,109.9 786.9,109.5 790,110 793.3,108.2 796.7,107.6 800,105.9 803,105.7 806,106.3 809,106.5 812,105.5 815,106.1" fill="none" stroke="#008080" stroke-width="5.4" stroke-linejoin="round" stroke-linecap="round" />
<text x="502.5" y="681.4" font-family="'Liberation Serif','Times New Roman',serif" font-size="33" font-weight="bold" text-anchor="middle" fill="#000" >Time / h</text>
<polyline points="1072.3,66.4 1541.8,94.5 1783.6,116.2" fill="none" stroke="#ff0000" stroke-width="5" stroke-linejoin="round"/>
<polyline points="1072.3,499.3 1214.6,467.5 1371.1,467.6 1442.2,470 1598.7,475 1783.6,485" fill="none" stroke="#000" stroke-width="5" stroke-linejoin="round"/>
<rect x="1072.3" y="33.7" width="711.3" height="569.5" fill="none" stroke="#000" stroke-width="5" stroke-linejoin="round"/>
<line x1="1072.3" y1="603.2" x2="1082.8" y2="603.2" stroke="#000" stroke-width="5" stroke-linecap="round"/>
<text x="0" y="0" font-family="'Liberation Sans',Arial,sans-serif" font-size="33" font-weight="bold" text-anchor="end" fill="#000" transform="translate(1060.5,612.2) scale(0.95,1)">200</text>
<line x1="1072.3" y1="515.6" x2="1082.8" y2="515.6" stroke="#000" stroke-width="5" stroke-linecap="round"/>
<text x="0" y="0" font-family="'Liberation Sans',Arial,sans-serif" font-size="33" font-weight="bold" text-anchor="end" fill="#000" transform="translate(1060.5,524.6) scale(0.95,1)">300</text>
<line x1="1072.3" y1="427.9" x2="1082.8" y2="427.9" stroke="#000" stroke-width="5" stroke-linecap="round"/>
<text x="0" y="0" font-family="'Liberation Sans',Arial,sans-serif" font-size="33" font-weight="bold" text-anchor="end" fill="#000" transform="translate(1060.5,436.9) scale(0.95,1)">400</text>
<line x1="1072.3" y1="340.3" x2="1082.8" y2="340.3" stroke="#000" stroke-width="5" stroke-linecap="round"/>
<text x="0" y="0" font-family="'Liberation Sans',Arial,sans-serif" font-size="33" font-weight="bold" text-anchor="end" fill="#000" transform="translate(1060.5,349.3) scale(0.95,1)">500</text>
<line x1="1072.3" y1="252.7" x2="1082.8" y2="252.7" stroke="#000" stroke-width="5" stroke-linecap="round"/>
<text x="0" y="0" font-family="'Liberation Sans',Arial,sans-serif" font-size="33" font-weight="bold" text-anchor="end" fill="#000" transform="translate(1060.5,261.7) scale(0.95,1)">600</text>
<line x1="1072.3" y1="165.1" x2="1082.8" y2="165.1" stroke="#000" stroke-width="5" stroke-linecap="round"/>
<text x="0" y="0" font-family="'Liberation Sans',Arial,sans-serif" font-size="33" font-weight="bold" text-anchor="end" fill="#000" transform="translate(1060.5,174.1) scale(0.95,1)">700</text>
<line x1="1072.3" y1="77.4" x2="1082.8" y2="77.4" stroke="#000" stroke-width="5" stroke-linecap="round"/>
<text x="0" y="0" font-family="'Liberation Sans',Arial,sans-serif" font-size="33" font-weight="bold" text-anchor="end" fill="#000" transform="translate(1060.5,86.4) scale(0.95,1)">800</text>
<line x1="1072.3" y1="559.4" x2="1077.8" y2="559.4" stroke="#000" stroke-width="5" stroke-linecap="round"/>
<line x1="1072.3" y1="471.8" x2="1077.8" y2="471.8" stroke="#000" stroke-width="5" stroke-linecap="round"/>
<line x1="1072.3" y1="384.1" x2="1077.8" y2="384.1" stroke="#000" stroke-width="5" stroke-linecap="round"/>
<line x1="1072.3" y1="296.5" x2="1077.8" y2="296.5" stroke="#000" stroke-width="5" stroke-linecap="round"/>
<line x1="1072.3" y1="208.9" x2="1077.8" y2="208.9" stroke="#000" stroke-width="5" stroke-linecap="round"/>
<line x1="1072.3" y1="121.2" x2="1077.8" y2="121.2" stroke="#000" stroke-width="5" stroke-linecap="round"/>
<line x1="1072.3" y1="33.6" x2="1077.8" y2="33.6" stroke="#000" stroke-width="5" stroke-linecap="round"/>
<line x1="1072.3" y1="603.2" x2="1072.3" y2="592.7" stroke="#000" stroke-width="5" stroke-linecap="round"/>
<text x="0" y="0" font-family="'Liberation Sans',Arial,sans-serif" font-size="33" font-weight="bold" text-anchor="middle" fill="#000" transform="translate(1072.3,641.3) scale(0.95,1)">0</text>
<line x1="1214.6" y1="603.2" x2="1214.6" y2="592.7" stroke="#000" stroke-width="5" stroke-linecap="round"/>
<text x="0" y="0" font-family="'Liberation Sans',Arial,sans-serif" font-size="33" font-weight="bold" text-anchor="middle" fill="#000" transform="translate(1214.6,641.3) scale(0.95,1)">200</text>
<line x1="1356.8" y1="603.2" x2="1356.8" y2="592.7" stroke="#000" stroke-width="5" stroke-linecap="round"/>
<text x="0" y="0" font-family="'Liberation Sans',Arial,sans-serif" font-size="33" font-weight="bold" text-anchor="middle" fill="#000" transform="translate(1356.8,641.3) scale(0.95,1)">400</text>
<line x1="1499.1" y1="603.2" x2="1499.1" y2="592.7" stroke="#000" stroke-width="5" stroke-linecap="round"/>
<text x="0" y="0" font-family="'Liberation Sans',Arial,sans-serif" font-size="33" font-weight="bold" text-anchor="middle" fill="#000" transform="translate(1499.1,641.3) scale(0.95,1)">600</text>
<line x1="1641.3" y1="603.2" x2="1641.3" y2="592.7" stroke="#000" stroke-width="5" stroke-linecap="round"/>
<text x="0" y="0" font-family="'Liberation Sans',Arial,sans-serif" font-size="33" font-weight="bold" text-anchor="middle" fill="#000" transform="translate(1641.3,641.3) scale(0.95,1)">800</text>
<line x1="1783.6" y1="603.2" x2="1783.6" y2="592.7" stroke="#000" stroke-width="5" stroke-linecap="round"/>
<text x="0" y="0" font-family="'Liberation Sans',Arial,sans-serif" font-size="33" font-weight="bold" text-anchor="middle" fill="#000" transform="translate(1783.6,641.3) scale(0.95,1)">1000</text>
<line x1="1143.4" y1="603.2" x2="1143.4" y2="597.7" stroke="#000" stroke-width="5" stroke-linecap="round"/>
<line x1="1285.7" y1="603.2" x2="1285.7" y2="597.7" stroke="#000" stroke-width="5" stroke-linecap="round"/>
<line x1="1428" y1="603.2" x2="1428" y2="597.7" stroke="#000" stroke-width="5" stroke-linecap="round"/>
<line x1="1570.2" y1="603.2" x2="1570.2" y2="597.7" stroke="#000" stroke-width="5" stroke-linecap="round"/>
<line x1="1712.5" y1="603.2" x2="1712.5" y2="597.7" stroke="#000" stroke-width="5" stroke-linecap="round"/>
<text x="1230.5" y="146.5" font-family="'Liberation Serif','Times New Roman',serif" font-size="32.4" font-weight="bold" fill="#ff0000">Al<tspan font-size="27" dy="10.5">2</tspan><tspan dy="-10.5">O</tspan><tspan font-size="27" dy="10.5">3</tspan><tspan dy="-10.5"> + 3CO(g) = 2Al + 3CO</tspan><tspan font-size="27" dy="10.5">2</tspan><tspan dy="-10.5">(g)</tspan></text>
<text x="1167.8" y="423" font-family="'Liberation Serif','Times New Roman',serif" font-size="32.4" font-weight="bold" fill="#000">Al<tspan font-size="26" dy="10">2</tspan><tspan dy="-10">O</tspan><tspan font-size="26" dy="10">3</tspan><tspan dy="-10"> + 3Cl</tspan><tspan font-size="26" dy="10">2</tspan><tspan dy="-10">(g) = 2AlCl</tspan><tspan font-size="26" dy="10">3</tspan><tspan dy="-10"> + 1.5O</tspan><tspan font-size="26" dy="10">2</tspan><tspan dy="-10">(g)</tspan></text>
<text transform="translate(977.3,436.2) rotate(-90)" font-family="'Liberation Serif','Times New Roman',serif" font-size="34.3" font-weight="bold" fill="#000">&#916;G&#176; / kJ mol <tspan dx="2" dy="-14" font-size="30">-1</tspan></text>
<text x="1404" y="696.5" font-family="'Liberation Serif','Noto Serif CJK SC',serif" font-size="34" fill="#000"><tspan font-weight="bold">T</tspan> /<tspan font-size="31" dx="5.5">&#8451;</tspan></text>
<polyline points="132.9,1086.1 136.6,1083.6 138.2,1085.1 139.9,1085 141.5,1086.6 143.2,1087 144.8,1088.4 146.4,1089.7 148.1,1091.9 149.7,1093.2 151.4,1092.9 153,1095 156.9,1098.8 159.4,1082.3 161.1,1088.8 162.7,1097.8 164.4,1106.4 166,1106.4 167.6,1104.2 169.2,1104 170.8,1103.1 172.4,1104.4 174,1103 175.6,1100.8 177.3,1100.4 178.9,1100.7 180.5,1100.6 182.1,1100.3 183.7,1098 185.3,1097.6 186.9,1098.7 188.5,1097.5 190.3,1093.9 192,1090.2 193.8,1087 195.5,1085.8 197.3,1081 199.1,1079.9 200.8,1080.3 202.6,1079.1 204.3,1078.8 206.1,1078.6 208.7,1086.1 210.6,1093.6 212.4,1100.3 214.3,1104.6 216.2,1111.4 218.1,1111.1 220,1113.4 221.9,1112.4 223.8,1114 225.4,1112 227.1,1114.4 228.7,1112.4 230.3,1113.2 231.9,1111.4 233.6,1112.5 235.2,1110.7 236.8,1109.3 238.5,1108.3 240.1,1109.6 241.7,1109.4 243.3,1109.8 245,1106.7 246.6,1107.6 248.2,1107.4 249.8,1106 251.5,1105.9 253.1,1104.1 254.7,1104 256.3,1104.2 257.9,1104.9 259.6,1101.7 261.2,1102.3 262.8,1102.7 264.4,1102.7 266.1,1099.6 267.7,1098.8 269.3,1100.8 270.9,1100.3 272.5,1098.2 274.2,1096.2 275.8,1098.4 277.4,1096.1 279,1097.2 280.6,1095.7 282.3,1095.8 283.9,1093 285.5,1094.5 287.1,1092.1 288.8,1092.1 290.4,1092.9 292,1091.2 294.6,1055.8 297.1,1095 298.7,1095.2 300.3,1092.4 301.9,1091.7 303.5,1091.4 305.1,1091 306.8,1089.8 308.4,1088.1 310,1087.7 311.6,1088.4 313.2,1088.2 314.8,1086.1 316.6,1083.6 318.4,1084.2 320.2,1083.7 322,1080.3 323.8,1081.8 325.6,1078.4 327.4,1078.6 329.3,1076.7 331.2,1074.3 333.1,1072.3 335,1069.7 337.1,1078.8 339.2,1088.8 341.3,1098.8 343.2,1088.6 345.1,1077.7 347,1068 348.9,1057.1 350.6,1073.4 352.3,1089.8 354,1106.4 357.8,1131.6 360.3,1132.9 362,1131.3 363.6,1133.1 365.3,1132.6 366.9,1131.7 368.6,1133.3 370.2,1133.2 371.9,1132.1 373.5,1131.1 375.2,1131.9 376.8,1130.7 378.5,1130.7 380.1,1131.5 381.8,1130.3 383.5,1131.4 385.1,1131.5 386.8,1129.9 388.4,1131.7 390.1,1129.8 391.7,1131.8 393.4,1131.9 395,1130.9 396.7,1129.4 398.3,1130.7 400,1130.2 401.6,1131.9 403.3,1130.4 404.9,1129.2 406.6,1131.5 408.2,1131.9 409.8,1131 411.4,1131.2 413.1,1129.2 414.7,1131.6 416.3,1130 418,1131.5 419.6,1131.3 421.2,1128.9 422.8,1130.8 424.5,1131.2 426.1,1128.4 427.7,1129.3 429.4,1130.5 431,1128.6 432.6,1130.9 434.3,1128.9 435.9,1130.6 437.5,1128.4 439.1,1129.5 440.8,1130.8 442.4,1128.5 444,1128.6 445.7,1129.3 447.3,1128.7 448.9,1127.7 450.5,1128.2 452.2,1128.1 453.8,1129.1 455.4,1130.2 457.1,1129 458.7,1129.4 460.3,1126.8 461.9,1128.4 463.6,1126 465.2,1127 466.8,1127 468.4,1125.8 470.1,1127.2 471.7,1125.8 473.3,1125.6 474.9,1126.2 476.6,1123.4 478.2,1126 479.8,1124.5 481.4,1123.4 483.1,1124.4 484.7,1122.4 486.3,1124.4 487.9,1122.7 489.6,1121.7 491.2,1122.7 492.8,1121.4 494.4,1120.2 496.1,1121.7 497.7,1119.2 499.3,1120.3 501,1122.4 502.7,1121.6 504.4,1123.9 506,1126 507.7,1125.8 509.4,1126.6 511.1,1126.6 512.8,1125 514.5,1123.4 516.1,1123 517.8,1122.9 519.5,1123.8 521.2,1122.7 522.9,1122.4 524.5,1123.1 526.2,1120.2 527.9,1120 529.6,1120.3 531.3,1120.4 532.9,1117.9 534.6,1117.4 536.3,1118.1 537.9,1116.9 539.6,1117.3 541.3,1116.5 542.9,1117.2 544.6,1116.8 546.3,1115.1 547.9,1116.1 549.6,1115.2 551.3,1113.6 552.9,1115.8 554.6,1113.1 556.3,1112.4 557.9,1111.8 559.6,1112.7 560,1119.2 561.6,1118 563.2,1117.1 564.8,1115.2 566.4,1112.4 568,1110.3 569.6,1107.8 571.2,1108.2 572.8,1106.3 574.4,1104 576,1103.3 577.6,1101.1 579.2,1099.6 580.8,1106.5 582.5,1111.3 584.1,1116 585.7,1110.3 587.4,1107.5 589,1099.8 590.7,1096.4 592.3,1091.4 593.9,1099.3 595.6,1107 597.2,1116 598.8,1130.9 600.5,1149.6 602.1,1165 605.4,1148.6 607,787.4 609.3,1171.5 611.3,1171 613.2,1173.9 615.2,1174.8 616.9,1176.5 618.7,1174.2 620.4,1174.6 622.1,1176.2 623.9,1176.2 625.6,1176.4 627.3,1155.2 628.9,1184.6 630.6,1184.9 632.3,1185.4 634,1183.2 635.7,1183.6 637.4,1183.4 639.1,1182.5 640.8,1185.1 642.5,1184.7 644.2,1184.3 645.9,1182 647.6,1184.5 649.3,1184.1 651,1183.1 652.7,1183.9 654.4,1183 656,1182.6 657.7,1181.7 659.3,1181.1 660.9,1181.3 662.6,1180.5 664.2,1181.2 665.8,1182.3 667.5,1182 669.1,1182.2 670.7,1181.6 672.4,1180 674,1180.7 675.6,1180.1 677.3,1181 678.9,1179.9 680.5,1178.9 682.2,1179.9 683.8,1180.7 685.4,1178.1 687.1,1180 688.7,1177.1 690.3,1177.6 692,1177.4 693.6,1178 695.3,1166.6 696.9,1171.7 698.6,1176.8 700.2,1179.7 702,1179.6 703.8,1177.5 705.6,1178.4 707.4,1175.8 709.2,1174.7 711,1175.9 712.8,1173.8 714.4,1173.8 716,1173.5 717.6,1173 719.2,1173.6 720.8,1171.5 722.4,1172.2 724,1171.3 725.6,1171.4 727.2,1169.6 728.8,1170.1 730.4,1169.2 732,1168.5 733.9,1168.7 735.7,1169.2 737.5,1171.3 739.4,1171.7 741.5,1178 743.7,1144 745.8,1178 746.9,1141.9 748.6,1178 750.5,1029 752.2,1197.3 755,1204.7 757.5,1201.5 759.2,1135.5 761.8,1205.8 763.6,1204.4 765.3,1207.1 767.1,1204.7 768.9,1204.3 770.6,1204.5 772.4,1205.8 774,1208.1 775.6,1207.1 777.2,1207.3 778.8,1207.8 780.4,1208.7 782,1211.1 784.1,1208.5 786.3,1205.1 788.4,1201.5 790.2,1209.9 791.9,1217.9 793.7,1224.9 796.9,1235.6 799.5,1090.8 801.8,1235.6 803.4,1234.2 805.1,1235.9 806.8,1235.2 808.4,1236.6 810,1236.6 811.7,1236.9 813.4,1234.2 815,1235.6 816.7,1236.3 818.4,1236.1 820.1,1235.7 821.8,1232.6 823.5,1232.5 825.2,1231.8 826.9,1231.1 828.6,1233.3 830.3,1232.7 832,1231.3 833.6,1233.3 835.2,1235.5 836.8,1236.5 838.4,1237 840,1238 841.6,1240.9 845.3,1184.5 848,1240.9 849.7,1239.2 851.4,1240.9 853.1,1238.7 854.8,1238.6 856.5,1238.8 858.2,1239.8 859.9,1239.7 861.6,1241.7 863.2,1243 864.9,1245.6 866.6,1245.7 868.3,1247.3 871,1202.6 873.6,1248.4 875.2,1248.2 876.9,1250.6 878.5,1249.6 880.2,1251.1 881.8,1250.7 883.5,1249.2 885.1,1250.8 886.8,1251.3 888.4,1252.7 890.1,1251.7 891.7,1252.6 893.4,1251.8 895.1,1249.8 896.8,1247.3 898.5,1247.8 900.2,1245.2 902,1246.2 903.8,1250.8 905.5,1251 907.3,1252.8 909.1,1255.7 910.9,1259" fill="none" stroke="#000" stroke-width="3.4" stroke-linejoin="round" stroke-linecap="round" />
<rect x="104.8" y="716.3" width="809.2" height="589" fill="none" stroke="#000" stroke-width="5.5" stroke-linejoin="round"/>
<line x1="912.7" y1="1305.3" x2="912.7" y2="1294.8" stroke="#000" stroke-width="5" stroke-linecap="round"/>
<text x="912.7" y="1344.6" font-family="'Liberation Sans',Arial,sans-serif" font-size="35" font-weight="bold" text-anchor="middle" fill="#000" >0</text>
<line x1="797.3" y1="1305.3" x2="797.3" y2="1294.8" stroke="#000" stroke-width="5" stroke-linecap="round"/>
<text x="797.3" y="1344.6" font-family="'Liberation Sans',Arial,sans-serif" font-size="35" font-weight="bold" text-anchor="middle" fill="#000" >200</text>
<line x1="681.9" y1="1305.3" x2="681.9" y2="1294.8" stroke="#000" stroke-width="5" stroke-linecap="round"/>
<text x="681.9" y="1344.6" font-family="'Liberation Sans',Arial,sans-serif" font-size="35" font-weight="bold" text-anchor="middle" fill="#000" >400</text>
<line x1="566.5" y1="1305.3" x2="566.5" y2="1294.8" stroke="#000" stroke-width="5" stroke-linecap="round"/>
<text x="566.5" y="1344.6" font-family="'Liberation Sans',Arial,sans-serif" font-size="35" font-weight="bold" text-anchor="middle" fill="#000" >600</text>
<line x1="451.1" y1="1305.3" x2="451.1" y2="1294.8" stroke="#000" stroke-width="5" stroke-linecap="round"/>
<text x="451.1" y="1344.6" font-family="'Liberation Sans',Arial,sans-serif" font-size="35" font-weight="bold" text-anchor="middle" fill="#000" >800</text>
<line x1="335.6" y1="1305.3" x2="335.6" y2="1294.8" stroke="#000" stroke-width="5" stroke-linecap="round"/>
<text x="335.6" y="1344.6" font-family="'Liberation Sans',Arial,sans-serif" font-size="35" font-weight="bold" text-anchor="middle" fill="#000" >1000</text>
<line x1="220.2" y1="1305.3" x2="220.2" y2="1294.8" stroke="#000" stroke-width="5" stroke-linecap="round"/>
<text x="220.2" y="1344.6" font-family="'Liberation Sans',Arial,sans-serif" font-size="35" font-weight="bold" text-anchor="middle" fill="#000" >1200</text>
<line x1="104.8" y1="1305.3" x2="104.8" y2="1294.8" stroke="#000" stroke-width="5" stroke-linecap="round"/>
<text x="104.8" y="1344.6" font-family="'Liberation Sans',Arial,sans-serif" font-size="35" font-weight="bold" text-anchor="middle" fill="#000" >1400</text>
<line x1="855" y1="1305.3" x2="855" y2="1299.8" stroke="#000" stroke-width="5" stroke-linecap="round"/>
<line x1="739.6" y1="1305.3" x2="739.6" y2="1299.8" stroke="#000" stroke-width="5" stroke-linecap="round"/>
<line x1="624.2" y1="1305.3" x2="624.2" y2="1299.8" stroke="#000" stroke-width="5" stroke-linecap="round"/>
<line x1="508.8" y1="1305.3" x2="508.8" y2="1299.8" stroke="#000" stroke-width="5" stroke-linecap="round"/>
<line x1="393.3" y1="1305.3" x2="393.3" y2="1299.8" stroke="#000" stroke-width="5" stroke-linecap="round"/>
<line x1="277.9" y1="1305.3" x2="277.9" y2="1299.8" stroke="#000" stroke-width="5" stroke-linecap="round"/>
<line x1="162.5" y1="1305.3" x2="162.5" y2="1299.8" stroke="#000" stroke-width="5" stroke-linecap="round"/>
<text x="254.2" y="1038.6" font-family="'Liberation Serif','Times New Roman',serif" font-size="35" font-weight="bold" text-anchor="start" fill="#800080" >Na 1s</text>
<text x="558" y="772.7" font-family="'Liberation Serif','Times New Roman',serif" font-size="35" font-weight="bold" text-anchor="start" fill="#f04a2c" >O 1s</text>
<text x="725.6" y="1016.2" font-family="'Liberation Serif','Times New Roman',serif" font-size="35" font-weight="bold" text-anchor="start" fill="#ff00ff" >C 1s</text>
<text x="774.5" y="1075.8" font-family="'Liberation Serif','Times New Roman',serif" font-size="35" font-weight="bold" text-anchor="start" fill="#ff0000" >Cl 2p</text>
<text x="696.3" y="1127.4" font-family="'Liberation Serif','Times New Roman',serif" font-size="21.5" font-weight="bold" text-anchor="start" fill="#800080" >K 2p</text>
<text x="856.5" y="1189.8" font-family="'Liberation Serif','Times New Roman',serif" font-size="22" font-weight="bold" text-anchor="start" fill="#0000ff" >Al 2p</text>
<text x="0" y="0" font-family="'Liberation Serif','Times New Roman',serif" font-size="36" font-weight="bold" text-anchor="middle" fill="#000" transform="translate(80.6,1032) rotate(-90)">Intensity / a.u.</text>
<text x="524.9" y="1395.8" font-family="'Liberation Serif','Times New Roman',serif" font-size="35.7" font-weight="bold" text-anchor="middle" fill="#000" >Binding Energy / eV</text>
<rect x="1059.8" y="730.5" width="730.2" height="585" fill="none" stroke="#000" stroke-width="5.5" stroke-linejoin="round"/>
<line x1="1059.8" y1="861.5" x2="1790" y2="861.5" stroke="#000" stroke-width="4.8" stroke-linecap="butt"/>
<line x1="1059.8" y1="993.3" x2="1790" y2="993.3" stroke="#000" stroke-width="4.8" stroke-linecap="butt"/>
<line x1="1059.8" y1="1125" x2="1790" y2="1125" stroke="#000" stroke-width="4.8" stroke-linecap="butt"/>
<line x1="1059.8" y1="1258" x2="1790" y2="1258" stroke="#000" stroke-width="4.8" stroke-linecap="butt"/>
<line x1="1105.5" y1="859.5" x2="1105.5" y2="856.5" stroke="#000" stroke-width="5" stroke-linecap="round"/>
<line x1="1151.1" y1="859.5" x2="1151.1" y2="851.5" stroke="#000" stroke-width="5" stroke-linecap="round"/>
<line x1="1196.8" y1="859.5" x2="1196.8" y2="856.5" stroke="#000" stroke-width="5" stroke-linecap="round"/>
<line x1="1242.4" y1="859.5" x2="1242.4" y2="851.5" stroke="#000" stroke-width="5" stroke-linecap="round"/>
<line x1="1288" y1="859.5" x2="1288" y2="856.5" stroke="#000" stroke-width="5" stroke-linecap="round"/>
<line x1="1333.7" y1="859.5" x2="1333.7" y2="851.5" stroke="#000" stroke-width="5" stroke-linecap="round"/>
<line x1="1379.3" y1="859.5" x2="1379.3" y2="856.5" stroke="#000" stroke-width="5" stroke-linecap="round"/>
<line x1="1425" y1="859.5" x2="1425" y2="851.5" stroke="#000" stroke-width="5" stroke-linecap="round"/>
<line x1="1470.6" y1="859.5" x2="1470.6" y2="856.5" stroke="#000" stroke-width="5" stroke-linecap="round"/>
<line x1="1516.3" y1="859.5" x2="1516.3" y2="851.5" stroke="#000" stroke-width="5" stroke-linecap="round"/>
<line x1="1561.9" y1="859.5" x2="1561.9" y2="856.5" stroke="#000" stroke-width="5" stroke-linecap="round"/>
<line x1="1607.6" y1="859.5" x2="1607.6" y2="851.5" stroke="#000" stroke-width="5" stroke-linecap="round"/>
<line x1="1653.2" y1="859.5" x2="1653.2" y2="856.5" stroke="#000" stroke-width="5" stroke-linecap="round"/>
<line x1="1698.9" y1="859.5" x2="1698.9" y2="851.5" stroke="#000" stroke-width="5" stroke-linecap="round"/>
<line x1="1744.5" y1="859.5" x2="1744.5" y2="856.5" stroke="#000" stroke-width="5" stroke-linecap="round"/>
<line x1="1105.5" y1="991.3" x2="1105.5" y2="988.3" stroke="#000" stroke-width="5" stroke-linecap="round"/>
<line x1="1151.1" y1="991.3" x2="1151.1" y2="983.3" stroke="#000" stroke-width="5" stroke-linecap="round"/>
<line x1="1196.8" y1="991.3" x2="1196.8" y2="988.3" stroke="#000" stroke-width="5" stroke-linecap="round"/>
<line x1="1242.4" y1="991.3" x2="1242.4" y2="983.3" stroke="#000" stroke-width="5" stroke-linecap="round"/>
<line x1="1288" y1="991.3" x2="1288" y2="988.3" stroke="#000" stroke-width="5" stroke-linecap="round"/>
<line x1="1333.7" y1="991.3" x2="1333.7" y2="983.3" stroke="#000" stroke-width="5" stroke-linecap="round"/>
<line x1="1379.3" y1="991.3" x2="1379.3" y2="988.3" stroke="#000" stroke-width="5" stroke-linecap="round"/>
<line x1="1425" y1="991.3" x2="1425" y2="983.3" stroke="#000" stroke-width="5" stroke-linecap="round"/>
<line x1="1470.6" y1="991.3" x2="1470.6" y2="988.3" stroke="#000" stroke-width="5" stroke-linecap="round"/>
<line x1="1516.3" y1="991.3" x2="1516.3" y2="983.3" stroke="#000" stroke-width="5" stroke-linecap="round"/>
<line x1="1561.9" y1="991.3" x2="1561.9" y2="988.3" stroke="#000" stroke-width="5" stroke-linecap="round"/>
<line x1="1607.6" y1="991.3" x2="1607.6" y2="983.3" stroke="#000" stroke-width="5" stroke-linecap="round"/>
<line x1="1653.2" y1="991.3" x2="1653.2" y2="988.3" stroke="#000" stroke-width="5" stroke-linecap="round"/>
<line x1="1698.9" y1="991.3" x2="1698.9" y2="983.3" stroke="#000" stroke-width="5" stroke-linecap="round"/>
<line x1="1744.5" y1="991.3" x2="1744.5" y2="988.3" stroke="#000" stroke-width="5" stroke-linecap="round"/>
<line x1="1105.5" y1="1123" x2="1105.5" y2="1120" stroke="#000" stroke-width="5" stroke-linecap="round"/>
<line x1="1151.1" y1="1123" x2="1151.1" y2="1115" stroke="#000" stroke-width="5" stroke-linecap="round"/>
<line x1="1196.8" y1="1123" x2="1196.8" y2="1120" stroke="#000" stroke-width="5" stroke-linecap="round"/>
<line x1="1242.4" y1="1123" x2="1242.4" y2="1115" stroke="#000" stroke-width="5" stroke-linecap="round"/>
<line x1="1288" y1="1123" x2="1288" y2="1120" stroke="#000" stroke-width="5" stroke-linecap="round"/>
<line x1="1333.7" y1="1123" x2="1333.7" y2="1115" stroke="#000" stroke-width="5" stroke-linecap="round"/>
<line x1="1379.3" y1="1123" x2="1379.3" y2="1120" stroke="#000" stroke-width="5" stroke-linecap="round"/>
<line x1="1425" y1="1123" x2="1425" y2="1115" stroke="#000" stroke-width="5" stroke-linecap="round"/>
<line x1="1470.6" y1="1123" x2="1470.6" y2="1120" stroke="#000" stroke-width="5" stroke-linecap="round"/>
<line x1="1516.3" y1="1123" x2="1516.3" y2="1115" stroke="#000" stroke-width="5" stroke-linecap="round"/>
<line x1="1561.9" y1="1123" x2="1561.9" y2="1120" stroke="#000" stroke-width="5" stroke-linecap="round"/>
<line x1="1607.6" y1="1123" x2="1607.6" y2="1115" stroke="#000" stroke-width="5" stroke-linecap="round"/>
<line x1="1653.2" y1="1123" x2="1653.2" y2="1120" stroke="#000" stroke-width="5" stroke-linecap="round"/>
<line x1="1698.9" y1="1123" x2="1698.9" y2="1115" stroke="#000" stroke-width="5" stroke-linecap="round"/>
<line x1="1744.5" y1="1123" x2="1744.5" y2="1120" stroke="#000" stroke-width="5" stroke-linecap="round"/>
<line x1="1105.5" y1="1256" x2="1105.5" y2="1253" stroke="#000" stroke-width="5" stroke-linecap="round"/>
<line x1="1151.1" y1="1256" x2="1151.1" y2="1248" stroke="#000" stroke-width="5" stroke-linecap="round"/>
<line x1="1196.8" y1="1256" x2="1196.8" y2="1253" stroke="#000" stroke-width="5" stroke-linecap="round"/>
<line x1="1242.4" y1="1256" x2="1242.4" y2="1248" stroke="#000" stroke-width="5" stroke-linecap="round"/>
<line x1="1288" y1="1256" x2="1288" y2="1253" stroke="#000" stroke-width="5" stroke-linecap="round"/>
<line x1="1333.7" y1="1256" x2="1333.7" y2="1248" stroke="#000" stroke-width="5" stroke-linecap="round"/>
<line x1="1379.3" y1="1256" x2="1379.3" y2="1253" stroke="#000" stroke-width="5" stroke-linecap="round"/>
<line x1="1425" y1="1256" x2="1425" y2="1248" stroke="#000" stroke-width="5" stroke-linecap="round"/>
<line x1="1470.6" y1="1256" x2="1470.6" y2="1253" stroke="#000" stroke-width="5" stroke-linecap="round"/>
<line x1="1516.3" y1="1256" x2="1516.3" y2="1248" stroke="#000" stroke-width="5" stroke-linecap="round"/>
<line x1="1561.9" y1="1256" x2="1561.9" y2="1253" stroke="#000" stroke-width="5" stroke-linecap="round"/>
<line x1="1607.6" y1="1256" x2="1607.6" y2="1248" stroke="#000" stroke-width="5" stroke-linecap="round"/>
<line x1="1653.2" y1="1256" x2="1653.2" y2="1253" stroke="#000" stroke-width="5" stroke-linecap="round"/>
<line x1="1698.9" y1="1256" x2="1698.9" y2="1248" stroke="#000" stroke-width="5" stroke-linecap="round"/>
<line x1="1744.5" y1="1256" x2="1744.5" y2="1253" stroke="#000" stroke-width="5" stroke-linecap="round"/>
<line x1="1105.5" y1="1313.5" x2="1105.5" y2="1310.5" stroke="#000" stroke-width="5" stroke-linecap="round"/>
<line x1="1151.1" y1="1313.5" x2="1151.1" y2="1305.5" stroke="#000" stroke-width="5" stroke-linecap="round"/>
<line x1="1196.8" y1="1313.5" x2="1196.8" y2="1310.5" stroke="#000" stroke-width="5" stroke-linecap="round"/>
<line x1="1242.4" y1="1313.5" x2="1242.4" y2="1305.5" stroke="#000" stroke-width="5" stroke-linecap="round"/>
<line x1="1288" y1="1313.5" x2="1288" y2="1310.5" stroke="#000" stroke-width="5" stroke-linecap="round"/>
<line x1="1333.7" y1="1313.5" x2="1333.7" y2="1305.5" stroke="#000" stroke-width="5" stroke-linecap="round"/>
<line x1="1379.3" y1="1313.5" x2="1379.3" y2="1310.5" stroke="#000" stroke-width="5" stroke-linecap="round"/>
<line x1="1425" y1="1313.5" x2="1425" y2="1305.5" stroke="#000" stroke-width="5" stroke-linecap="round"/>
<line x1="1470.6" y1="1313.5" x2="1470.6" y2="1310.5" stroke="#000" stroke-width="5" stroke-linecap="round"/>
<line x1="1516.3" y1="1313.5" x2="1516.3" y2="1305.5" stroke="#000" stroke-width="5" stroke-linecap="round"/>
<line x1="1561.9" y1="1313.5" x2="1561.9" y2="1310.5" stroke="#000" stroke-width="5" stroke-linecap="round"/>
<line x1="1607.6" y1="1313.5" x2="1607.6" y2="1305.5" stroke="#000" stroke-width="5" stroke-linecap="round"/>
<line x1="1653.2" y1="1313.5" x2="1653.2" y2="1310.5" stroke="#000" stroke-width="5" stroke-linecap="round"/>
<line x1="1698.9" y1="1313.5" x2="1698.9" y2="1305.5" stroke="#000" stroke-width="5" stroke-linecap="round"/>
<line x1="1744.5" y1="1313.5" x2="1744.5" y2="1310.5" stroke="#000" stroke-width="5" stroke-linecap="round"/>
<path d="M1415.8,841.5 L1416.8,841.5 L1417.8,841.5 L1418.8,841.5 L1419.8,841.5 L1420.8,841.5 L1421.8,841.6 L1422.8,841.6 L1423.8,841.6 L1424.8,841.6 L1425.8,841.6 L1426.8,841.6 L1427.8,841.7 L1428.8,841.7 L1429.8,841.7 L1430.8,841.7 L1431.8,841.7 L1432.8,841.8 L1433.8,841.8 L1434.8,841.8 L1435.8,841.8 L1436.8,841.8 L1437.8,841.9 L1438.8,841.9 L1439.8,841.9 L1440.8,841.9 L1441.8,842 L1442.8,842 L1443.8,842 L1444.8,842 L1445.8,842.1 L1446.8,842.1 L1447.8,842 L1448.8,841.6 L1449.8,841.2 L1450.8,840.8 L1451.8,840.3 L1452.8,839.8 L1453.8,839.3 L1454.8,838.8 L1455.8,838.2 L1456.8,837.6 L1457.8,836.9 L1458.8,836.2 L1459.8,835.5 L1460.8,834.7 L1461.8,833.9 L1462.8,833.1 L1463.8,832.2 L1464.8,831.3 L1465.8,830.4 L1466.8,829.4 L1467.8,828.3 L1468.8,827.2 L1469.8,826.1 L1470.8,824.9 L1471.8,823.7 L1472.8,822.5 L1473.8,821.2 L1474.8,819.8 L1475.8,818.4 L1476.8,817 L1477.8,815.5 L1478.8,814 L1479.8,812.5 L1480.8,810.9 L1481.8,809.3 L1482.8,807.7 L1483.8,806 L1484.8,804.3 L1485.8,802.6 L1486.8,800.9 L1487.8,799.1 L1488.8,797.3 L1489.8,795.5 L1490.8,793.7 L1491.8,791.9 L1492.8,790.1 L1493.8,788.3 L1494.8,786.5 L1495.8,784.7 L1496.8,782.9 L1497.8,781.2 L1498.8,779.4 L1499.8,777.7 L1500.8,776 L1501.8,774.4 L1502.8,772.8 L1503.8,771.2 L1504.8,769.7 L1505.8,768.2 L1506.8,766.8 L1507.8,765.4 L1508.8,764.2 L1509.8,762.9 L1510.8,761.8 L1511.8,760.7 L1512.8,759.7 L1513.8,758.8 L1514.8,757.9 L1515.8,757.2 L1516.8,756.5 L1517.8,756 L1518.8,755.5 L1519.8,755.1 L1520.8,754.8 L1521.8,754.6 L1522.8,754.5 L1523.8,754.5 L1524.8,754.6 L1525.8,754.8 L1526.8,755.1 L1527.8,755.5 L1528.8,755.9 L1529.8,756.5 L1530.8,757.2 L1531.8,757.9 L1532.8,758.8 L1533.8,759.7 L1534.8,760.7 L1535.8,761.8 L1536.8,762.9 L1537.8,764.2 L1538.8,765.5 L1539.8,766.8 L1540.8,768.2 L1541.8,769.7 L1542.8,771.2 L1543.8,772.8 L1544.8,774.5 L1545.8,776.1 L1546.8,777.8 L1547.8,779.6 L1548.8,781.3 L1549.8,783.1 L1550.8,784.9 L1551.8,786.7 L1552.8,788.6 L1553.8,790.4 L1554.8,792.2 L1555.8,794.1 L1556.8,795.9 L1557.8,797.7 L1558.8,799.5 L1559.8,801.3 L1560.8,803.1 L1561.8,804.9 L1562.8,806.6 L1563.8,808.3 L1564.8,810 L1565.8,811.6 L1566.8,813.2 L1567.8,814.8 L1568.8,816.4 L1569.8,817.9 L1570.8,819.3 L1571.8,820.7 L1572.8,822.1 L1573.8,823.5 L1574.8,824.8 L1575.8,826 L1576.8,827.2 L1577.8,828.4 L1578.8,829.5 L1579.8,830.6 L1580.8,831.6 L1581.8,832.6 L1582.8,833.6 L1583.8,834.5 L1584.8,835.4 L1585.8,836.2 L1586.8,837 L1587.8,837.7 L1588.8,838.5 L1589.8,839.1 L1590.8,839.8 L1591.8,840.4 L1592.8,841 L1593.8,841.5 L1594.8,842 L1595.8,842.5 L1596.8,843 L1597.8,843.4 L1598.8,843.8 L1599.8,844.1 L1600.8,844.1 L1601.8,844.1 L1602.8,844.1 L1603.8,844.1 L1604.8,844.1 L1605.8,844.1 L1606.8,844.1 L1607.8,844 L1608.8,844 L1609.8,844 L1610.8,844 L1611.8,844 L1612.8,844 L1613.8,844 L1614.8,843.9 L1614.8,843.9 L1613.8,844 L1612.8,844 L1611.8,844 L1610.8,844 L1609.8,844 L1608.8,844 L1607.8,844 L1606.8,844.1 L1605.8,844.1 L1604.8,844.1 L1603.8,844.1 L1602.8,844.1 L1601.8,844.1 L1600.8,844.1 L1599.8,844.1 L1598.8,844.2 L1597.8,844.2 L1596.8,844.2 L1595.8,844.2 L1594.8,844.2 L1593.8,844.2 L1592.8,844.2 L1591.8,844.3 L1590.8,844.3 L1589.8,844.3 L1588.8,844.3 L1587.8,844.3 L1586.8,844.3 L1585.8,844.3 L1584.8,844.4 L1583.8,844.4 L1582.8,844.4 L1581.8,844.4 L1580.8,844.4 L1579.8,844.4 L1578.8,844.4 L1577.8,844.4 L1576.8,844.4 L1575.8,844.5 L1574.8,844.5 L1573.8,844.5 L1572.8,844.5 L1571.8,844.5 L1570.8,844.5 L1569.8,844.5 L1568.8,844.5 L1567.8,844.5 L1566.8,844.5 L1565.8,844.5 L1564.8,844.6 L1563.8,844.6 L1562.8,844.6 L1561.8,844.6 L1560.8,844.6 L1559.8,844.6 L1558.8,844.6 L1557.8,844.6 L1556.8,844.6 L1555.8,844.6 L1554.8,844.6 L1553.8,844.6 L1552.8,844.6 L1551.8,844.6 L1550.8,844.6 L1549.8,844.6 L1548.8,844.6 L1547.8,844.6 L1546.8,844.6 L1545.8,844.6 L1544.8,844.6 L1543.8,844.6 L1542.8,844.6 L1541.8,844.6 L1540.8,844.5 L1539.8,844.5 L1538.8,844.5 L1537.8,844.5 L1536.8,844.5 L1535.8,844.5 L1534.8,844.5 L1533.8,844.5 L1532.8,844.5 L1531.8,844.5 L1530.8,844.4 L1529.8,844.4 L1528.8,844.4 L1527.8,844.4 L1526.8,844.4 L1525.8,844.4 L1524.8,844.3 L1523.8,844.3 L1522.8,844.3 L1521.8,844.3 L1520.8,844.3 L1519.8,844.3 L1518.8,844.2 L1517.8,844.2 L1516.8,844.2 L1515.8,844.2 L1514.8,844.1 L1513.8,844.1 L1512.8,844.1 L1511.8,844.1 L1510.8,844 L1509.8,844 L1508.8,844 L1507.8,844 L1506.8,843.9 L1505.8,843.9 L1504.8,843.9 L1503.8,843.9 L1502.8,843.8 L1501.8,843.8 L1500.8,843.8 L1499.8,843.7 L1498.8,843.7 L1497.8,843.7 L1496.8,843.6 L1495.8,843.6 L1494.8,843.6 L1493.8,843.6 L1492.8,843.5 L1491.8,843.5 L1490.8,843.5 L1489.8,843.4 L1488.8,843.4 L1487.8,843.4 L1486.8,843.3 L1485.8,843.3 L1484.8,843.3 L1483.8,843.2 L1482.8,843.2 L1481.8,843.2 L1480.8,843.1 L1479.8,843.1 L1478.8,843.1 L1477.8,843 L1476.8,843 L1475.8,843 L1474.8,842.9 L1473.8,842.9 L1472.8,842.9 L1471.8,842.8 L1470.8,842.8 L1469.8,842.8 L1468.8,842.7 L1467.8,842.7 L1466.8,842.7 L1465.8,842.6 L1464.8,842.6 L1463.8,842.6 L1462.8,842.6 L1461.8,842.5 L1460.8,842.5 L1459.8,842.5 L1458.8,842.4 L1457.8,842.4 L1456.8,842.4 L1455.8,842.3 L1454.8,842.3 L1453.8,842.3 L1452.8,842.3 L1451.8,842.2 L1450.8,842.2 L1449.8,842.2 L1448.8,842.1 L1447.8,842.1 L1446.8,842.1 L1445.8,842.1 L1444.8,842 L1443.8,842 L1442.8,842 L1441.8,842 L1440.8,841.9 L1439.8,841.9 L1438.8,841.9 L1437.8,841.9 L1436.8,841.8 L1435.8,841.8 L1434.8,841.8 L1433.8,841.8 L1432.8,841.8 L1431.8,841.7 L1430.8,841.7 L1429.8,841.7 L1428.8,841.7 L1427.8,841.7 L1426.8,841.6 L1425.8,841.6 L1424.8,841.6 L1423.8,841.6 L1422.8,841.6 L1421.8,841.6 L1420.8,841.5 L1419.8,841.5 L1418.8,841.5 L1417.8,841.5 L1416.8,841.5 L1415.8,841.5Z" fill="#fdebdc"/>
<path d="M1410.8,840.5a5,5 0 1,0 10,0a5,5 0 1,0 -10,0M1413.8,840.5a5,5 0 1,0 10,0a5,5 0 1,0 -10,0M1416.8,840.6a5,5 0 1,0 10,0a5,5 0 1,0 -10,0M1419.8,840.6a5,5 0 1,0 10,0a5,5 0 1,0 -10,0M1422.8,840.7a5,5 0 1,0 10,0a5,5 0 1,0 -10,0M1425.8,840.7a5,5 0 1,0 10,0a5,5 0 1,0 -10,0M1428.8,840.8a5,5 0 1,0 10,0a5,5 0 1,0 -10,0M1431.8,840.8a5,5 0 1,0 10,0a5,5 0 1,0 -10,0M1434.8,840.9a5,5 0 1,0 10,0a5,5 0 1,0 -10,0M1437.8,841a5,5 0 1,0 10,0a5,5 0 1,0 -10,0M1440.8,841.1a5,5 0 1,0 10,0a5,5 0 1,0 -10,0M1443.8,841.1a5,5 0 1,0 10,0a5,5 0 1,0 -10,0M1446.8,841.2a5,5 0 1,0 10,0a5,5 0 1,0 -10,0M1449.8,841.3a5,5 0 1,0 10,0a5,5 0 1,0 -10,0M1452.8,841.4a5,5 0 1,0 10,0a5,5 0 1,0 -10,0M1455.8,841.5a5,5 0 1,0 10,0a5,5 0 1,0 -10,0M1458.8,841.6a5,5 0 1,0 10,0a5,5 0 1,0 -10,0M1461.8,841.7a5,5 0 1,0 10,0a5,5 0 1,0 -10,0M1464.8,841.8a5,5 0 1,0 10,0a5,5 0 1,0 -10,0M1467.8,841.9a5,5 0 1,0 10,0a5,5 0 1,0 -10,0M1470.8,842a5,5 0 1,0 10,0a5,5 0 1,0 -10,0M1473.8,842.1a5,5 0 1,0 10,0a5,5 0 1,0 -10,0M1476.8,842.2a5,5 0 1,0 10,0a5,5 0 1,0 -10,0M1479.8,842.3a5,5 0 1,0 10,0a5,5 0 1,0 -10,0M1482.8,842.4a5,5 0 1,0 10,0a5,5 0 1,0 -10,0M1485.8,842.5a5,5 0 1,0 10,0a5,5 0 1,0 -10,0M1488.8,842.6a5,5 0 1,0 10,0a5,5 0 1,0 -10,0M1491.8,842.6a5,5 0 1,0 10,0a5,5 0 1,0 -10,0M1494.8,842.7a5,5 0 1,0 10,0a5,5 0 1,0 -10,0M1497.8,842.8a5,5 0 1,0 10,0a5,5 0 1,0 -10,0M1500.8,842.9a5,5 0 1,0 10,0a5,5 0 1,0 -10,0M1503.8,843a5,5 0 1,0 10,0a5,5 0 1,0 -10,0M1506.8,843.1a5,5 0 1,0 10,0a5,5 0 1,0 -10,0M1509.8,843.1a5,5 0 1,0 10,0a5,5 0 1,0 -10,0M1512.8,843.2a5,5 0 1,0 10,0a5,5 0 1,0 -10,0M1515.8,843.3a5,5 0 1,0 10,0a5,5 0 1,0 -10,0M1518.8,843.3a5,5 0 1,0 10,0a5,5 0 1,0 -10,0M1521.8,843.4a5,5 0 1,0 10,0a5,5 0 1,0 -10,0M1524.8,843.4a5,5 0 1,0 10,0a5,5 0 1,0 -10,0M1527.8,843.5a5,5 0 1,0 10,0a5,5 0 1,0 -10,0M1530.8,843.5a5,5 0 1,0 10,0a5,5 0 1,0 -10,0M1533.8,843.5a5,5 0 1,0 10,0a5,5 0 1,0 -10,0M1536.8,843.6a5,5 0 1,0 10,0a5,5 0 1,0 -10,0M1539.8,843.6a5,5 0 1,0 10,0a5,5 0 1,0 -10,0M1542.8,843.6a5,5 0 1,0 10,0a5,5 0 1,0 -10,0M1545.8,843.6a5,5 0 1,0 10,0a5,5 0 1,0 -10,0M1548.8,843.6a5,5 0 1,0 10,0a5,5 0 1,0 -10,0M1551.8,843.6a5,5 0 1,0 10,0a5,5 0 1,0 -10,0M1554.8,843.6a5,5 0 1,0 10,0a5,5 0 1,0 -10,0M1557.8,843.6a5,5 0 1,0 10,0a5,5 0 1,0 -10,0M1560.8,843.5a5,5 0 1,0 10,0a5,5 0 1,0 -10,0M1563.8,843.5a5,5 0 1,0 10,0a5,5 0 1,0 -10,0M1566.8,843.5a5,5 0 1,0 10,0a5,5 0 1,0 -10,0M1569.8,843.5a5,5 0 1,0 10,0a5,5 0 1,0 -10,0M1572.8,843.4a5,5 0 1,0 10,0a5,5 0 1,0 -10,0M1575.8,843.4a5,5 0 1,0 10,0a5,5 0 1,0 -10,0M1578.8,843.4a5,5 0 1,0 10,0a5,5 0 1,0 -10,0M1581.8,843.3a5,5 0 1,0 10,0a5,5 0 1,0 -10,0M1584.8,843.3a5,5 0 1,0 10,0a5,5 0 1,0 -10,0M1587.8,843.2a5,5 0 1,0 10,0a5,5 0 1,0 -10,0M1590.8,843.2a5,5 0 1,0 10,0a5,5 0 1,0 -10,0M1593.8,843.2a5,5 0 1,0 10,0a5,5 0 1,0 -10,0M1596.8,843.1a5,5 0 1,0 10,0a5,5 0 1,0 -10,0M1599.8,843.1a5,5 0 1,0 10,0a5,5 0 1,0 -10,0M1602.8,843a5,5 0 1,0 10,0a5,5 0 1,0 -10,0M1605.8,843a5,5 0 1,0 10,0a5,5 0 1,0 -10,0M1608.8,843a5,5 0 1,0 10,0a5,5 0 1,0 -10,0" fill="none" stroke="#5ee85e" stroke-width="1.3"/>
<polyline points="1400.8,845.3 1401.8,845.3 1402.8,845.3 1403.8,845.3 1404.8,845.3 1405.8,845.3 1406.8,845.3 1407.8,845.3 1408.8,845.4 1409.8,845.4 1410.8,845.4 1411.8,845.4 1412.8,845.4 1413.8,845.4 1414.8,845.4 1415.8,845.5 1416.8,845.5 1417.8,845.5 1418.8,845.5 1419.8,845.5 1420.8,845.5 1421.8,845.6 1422.8,845.6 1423.8,845.6 1424.8,845.6 1425.8,845.6 1426.8,845.6 1427.8,845.7 1428.8,845.7 1429.8,845.7 1430.8,845.7 1431.8,845.7 1432.8,845.8 1433.8,845.8 1434.8,845.8 1435.8,845.8 1436.8,845.8 1437.8,845.9 1438.8,845.9 1439.8,845.9 1440.8,845.9 1441.8,846 1442.8,846 1443.8,846 1444.8,846 1445.8,846.1 1446.8,846.1 1447.8,846.1 1448.8,846.1 1449.8,846.2 1450.8,846.2 1451.8,846.2 1452.8,846.3 1453.8,846.3 1454.8,846.3 1455.8,846.3 1456.8,846.4 1457.8,846.4 1458.8,846.4 1459.8,846.5 1460.8,846.5 1461.8,846.5 1462.8,846.6 1463.8,846.6 1464.8,846.6 1465.8,846.6 1466.8,846.7 1467.8,846.7 1468.8,846.7 1469.8,846.8 1470.8,846.8 1471.8,846.8 1472.8,846.9 1473.8,846.9 1474.8,846.9 1475.8,847 1476.8,847 1477.8,847 1478.8,847.1 1479.8,847.1 1480.8,847.1 1481.8,847.2 1482.8,847.2 1483.8,847.2 1484.8,847.3 1485.8,847.3 1486.8,847.3 1487.8,847.4 1488.8,847.4 1489.8,847.4 1490.8,847.5 1491.8,847.5 1492.8,847.5 1493.8,847.6 1494.8,847.6 1495.8,847.6 1496.8,847.6 1497.8,847.7 1498.8,847.7 1499.8,847.7 1500.8,847.8 1501.8,847.8 1502.8,847.8 1503.8,847.9 1504.8,847.9 1505.8,847.9 1506.8,847.9 1507.8,848 1508.8,848 1509.8,848 1510.8,848 1511.8,848.1 1512.8,848.1 1513.8,848.1 1514.8,848.1 1515.8,848.2 1516.8,848.2 1517.8,848.2 1518.8,848.2 1519.8,848.3 1520.8,848.3 1521.8,848.3 1522.8,848.3 1523.8,848.3 1524.8,848.3 1525.8,848.4 1526.8,848.4 1527.8,848.4 1528.8,848.4 1529.8,848.4 1530.8,848.4 1531.8,848.5 1532.8,848.5 1533.8,848.5 1534.8,848.5 1535.8,848.5 1536.8,848.5 1537.8,848.5 1538.8,848.5 1539.8,848.5 1540.8,848.5 1541.8,848.6 1542.8,848.6 1543.8,848.6 1544.8,848.6 1545.8,848.6 1546.8,848.6 1547.8,848.6 1548.8,848.6 1549.8,848.6 1550.8,848.6 1551.8,848.6 1552.8,848.6 1553.8,848.6 1554.8,848.6 1555.8,848.6 1556.8,848.6 1557.8,848.6 1558.8,848.6 1559.8,848.6 1560.8,848.6 1561.8,848.6 1562.8,848.6 1563.8,848.6 1564.8,848.6 1565.8,848.5 1566.8,848.5 1567.8,848.5 1568.8,848.5 1569.8,848.5 1570.8,848.5 1571.8,848.5 1572.8,848.5 1573.8,848.5 1574.8,848.5 1575.8,848.5 1576.8,848.4 1577.8,848.4 1578.8,848.4 1579.8,848.4 1580.8,848.4 1581.8,848.4 1582.8,848.4 1583.8,848.4 1584.8,848.4 1585.8,848.3 1586.8,848.3 1587.8,848.3 1588.8,848.3 1589.8,848.3 1590.8,848.3 1591.8,848.3 1592.8,848.2 1593.8,848.2 1594.8,848.2 1595.8,848.2 1596.8,848.2 1597.8,848.2 1598.8,848.2 1599.8,848.1 1600.8,848.1 1601.8,848.1 1602.8,848.1 1603.8,848.1 1604.8,848.1 1605.8,848.1 1606.8,848.1 1607.8,848 1608.8,848 1609.8,848 1610.8,848 1611.8,848 1612.8,848 1613.8,848 1614.8,847.9 1615.8,847.9 1616.8,847.9 1617.8,847.9 1618.8,847.9 1619.8,847.9 1620.8,847.9 1621.8,847.9 1622.8,847.9 1623.8,847.8 1624.8,847.8 1625.8,847.8 1626.8,847.8 1627.8,847.8 1628.8,847.8 1629.8,847.8" fill="none" stroke="#10e010" stroke-width="5.5" stroke-linejoin="round" stroke-linecap="round" />
<polyline points="1064.8,847.4 1066.8,847.8 1068.8,846.2 1070.8,847 1072.8,847 1074.8,847.5 1076.8,846.5 1078.8,847 1080.8,846.8 1082.8,847.6 1084.8,846.7 1086.8,847.8 1088.8,846.7 1090.8,846.6 1092.8,847.4 1094.8,847.1 1096.8,846.4 1098.8,847.3 1100.8,846.4 1102.8,847.5 1104.8,847.4 1106.8,847.5 1108.8,847.3 1110.8,846.9 1112.8,846.9 1114.8,846.9 1116.8,847.7 1118.8,846.4 1120.8,847.7 1122.8,846.3 1124.8,846.6 1126.8,846.7 1128.8,847.8 1130.8,847.1 1132.8,846.9 1134.8,847.7 1136.8,846.7 1138.8,847.1 1140.8,847.2 1142.8,847.5 1144.8,847.5 1146.8,847.4 1148.8,846.9 1150.8,846.9 1152.8,846.6 1154.8,847.7 1156.8,847.4 1158.8,847.5 1160.8,846.6 1162.8,847.1 1164.8,847.6 1166.8,847.3 1168.8,846.6 1170.8,847.1 1172.8,847.8 1174.8,846.8 1176.8,846.7 1178.8,846.9 1180.8,847.5 1182.8,847.7 1184.8,846.6 1186.8,846.6 1188.8,846.8 1190.8,846.9 1192.8,847.2 1194.8,846.7 1196.8,846.9 1198.8,846.7 1200.8,848 1202.8,847.6 1204.8,846.6 1206.8,848 1208.8,846.6 1210.8,847 1212.8,848 1214.8,847.7 1216.8,847.6 1218.8,847.1 1220.8,846.8 1222.8,847.5 1224.8,846.6 1226.8,846.8 1228.8,847.1 1230.8,846.5 1232.8,847.1 1234.8,847.7 1236.8,847.6 1238.8,847.3 1240.8,847.5 1242.8,847.2 1244.8,846.7 1246.8,847.5 1248.8,847.1 1250.8,847.7 1252.8,847.9 1254.8,847.2 1256.8,847.4 1258.8,847.7 1260.8,847.2 1262.8,846.9 1264.8,847.7 1266.8,847.9 1268.8,847.8 1270.8,847.6 1272.8,847.9 1274.8,847.6 1276.8,847.6 1278.8,847.3 1280.8,847 1282.8,847.5 1284.8,846.7 1286.8,847.2 1288.8,847.8 1290.8,847.7 1292.8,847.6 1294.8,847 1296.8,847.2 1298.8,847.3 1300.8,847.6 1302.8,847.2 1304.8,847.7 1306.8,848.1 1308.8,846.9 1310.8,847.6 1312.8,847.8 1314.8,847.2 1316.8,847.4 1318.8,848.2 1320.8,846.7 1322.8,847.5 1324.8,846.9 1326.8,847.9 1328.8,848.1 1330.8,847.4 1332.8,846.8 1334.8,847.5 1336.8,847.5 1338.8,847.8 1340.8,847.4 1342.8,847.7 1344.8,848 1346.8,847.5 1348.8,847.3 1350.8,848.2 1352.8,847 1354.8,847.7 1356.8,847.3 1358.8,847.9 1360.8,846.8 1362.8,848.2 1364.8,847.2 1366.8,846.7 1368.8,847.1 1370.8,847.3 1372.8,846.7 1374.8,847.3 1376.8,847.3 1378.8,847.8 1380.8,847.2 1382.8,847 1384.8,847 1386.8,847.8 1388.8,848.1 1390.8,847.4 1392.8,846.9 1394.8,847.8 1396.8,847.1 1398.8,846.8 1400.8,846.6 1402.8,847.5 1404.8,847.5 1406.8,847.2 1408.8,846.8 1410.8,846.8 1412.8,846.1 1414.8,847.1 1416.8,845.9 1418.8,846.1 1420.8,846.1 1422.8,845.8 1424.8,844.8 1426.8,844.1 1428.8,844 1430.8,842.7 1432.8,843.1 1434.8,841.6 1436.8,841.5 1438.8,839.6 1440.8,838.6 1442.8,837.2 1444.8,836.1 1446.8,834.1 1448.8,832.2 1450.8,831.4 1452.8,828.7 1454.8,826.5 1456.8,824.2 1458.8,821.9 1460.8,819.1 1462.8,816.5 1464.8,813.5 1466.8,809.8 1468.8,807.4 1470.8,803.8 1472.8,798.9 1474.8,796.4 1476.8,792.8 1478.8,788.8 1480.8,784 1482.8,781.3 1484.8,777.3 1486.8,772.7 1488.8,769.2 1490.8,767.4 1492.8,763.8 1494.8,760.2 1496.8,757.4 1498.8,755.1 1500.8,753.2 1502.8,752.4 1504.8,750.4 1506.8,749.2 1508.8,749.8 1510.8,749.5 1512.8,748.8 1514.8,750.6 1516.8,751.2 1518.8,752.9 1520.8,754.5 1522.8,757 1524.8,759.3 1526.8,762.1 1528.8,764 1530.8,768 1532.8,771.2 1534.8,775.1 1536.8,778.2 1538.8,782.7 1540.8,786 1542.8,789.4 1544.8,793.1 1546.8,796.7 1548.8,801 1550.8,803.9 1552.8,808.1 1554.8,810.9 1556.8,814.7 1558.8,817.8 1560.8,820.8 1562.8,824 1564.8,825.2 1566.8,828.9 1568.8,830.5 1570.8,832.7 1572.8,834.7 1574.8,836.7 1576.8,837.5 1578.8,839 1580.8,841.2 1582.8,840.9 1584.8,842.8 1586.8,843.7 1588.8,843.5 1590.8,845.2 1592.8,845.9 1594.8,846.9 1596.8,846.4 1598.8,847.9 1600.8,847.5 1602.8,847.8 1604.8,848.7 1606.8,847.6 1608.8,848.9 1610.8,848.9 1612.8,848.6 1614.8,849.6 1616.8,848.9 1618.8,849.2 1620.8,849.4 1622.8,849.8 1624.8,849 1626.8,849.4 1628.8,849.4 1630.8,849.7 1632.8,850.2 1634.8,849.3 1636.8,850.2 1638.8,849.6 1640.8,849.8 1642.8,849.4 1644.8,849.8 1646.8,850.6 1648.8,850.1 1650.8,850.3 1652.8,849.6 1654.8,849.6 1656.8,849.5 1658.8,850 1660.8,850.1 1662.8,850.3 1664.8,849.2 1666.8,850.3 1668.8,850.5 1670.8,850 1672.8,849.2 1674.8,849.6 1676.8,849.1 1678.8,849.4 1680.8,850.6 1682.8,850.1 1684.8,850.2 1686.8,850.4 1688.8,850.6 1690.8,850.1 1692.8,850.1 1694.8,850.2 1696.8,850.3 1698.8,850.1 1700.8,850.3 1702.8,849.5 1704.8,850.2 1706.8,849.9 1708.8,850.4 1710.8,849.3 1712.8,849.5 1714.8,849.2 1716.8,850.4 1718.8,850.7 1720.8,850.2 1722.8,849.8 1724.8,850.5 1726.8,850.5 1728.8,850.1 1730.8,849.6 1732.8,849.7 1734.8,849.9 1736.8,849.7 1738.8,849.9 1740.8,850.3 1742.8,850.7 1744.8,849.3 1746.8,850.1 1748.8,849.3 1750.8,849.4 1752.8,850.5 1754.8,850.2 1756.8,850.7 1758.8,850 1760.8,849.3 1762.8,849.9 1764.8,850.2 1766.8,850.8 1768.8,850.8 1770.8,850 1772.8,849.9 1774.8,849.4 1776.8,850.3 1778.8,849.6 1780.8,849.5 1782.8,849.3" fill="none" stroke="#000" stroke-width="1.6" stroke-linejoin="round" stroke-linecap="round" />
<path d="M1418.8,846a6,6 0 1,0 12,0a6,6 0 1,0 -12,0M1423.8,845.6a6,6 0 1,0 12,0a6,6 0 1,0 -12,0M1428.8,845.1a6,6 0 1,0 12,0a6,6 0 1,0 -12,0M1433.8,844.2a6,6 0 1,0 12,0a6,6 0 1,0 -12,0M1438.8,843a6,6 0 1,0 12,0a6,6 0 1,0 -12,0M1443.8,841.2a6,6 0 1,0 12,0a6,6 0 1,0 -12,0M1448.8,838.8a6,6 0 1,0 12,0a6,6 0 1,0 -12,0M1453.8,835.5a6,6 0 1,0 12,0a6,6 0 1,0 -12,0M1458.8,831.3a6,6 0 1,0 12,0a6,6 0 1,0 -12,0M1463.8,826.1a6,6 0 1,0 12,0a6,6 0 1,0 -12,0M1468.8,819.8a6,6 0 1,0 12,0a6,6 0 1,0 -12,0M1473.8,812.5a6,6 0 1,0 12,0a6,6 0 1,0 -12,0M1478.8,804.3a6,6 0 1,0 12,0a6,6 0 1,0 -12,0M1483.8,795.5a6,6 0 1,0 12,0a6,6 0 1,0 -12,0M1488.8,786.5a6,6 0 1,0 12,0a6,6 0 1,0 -12,0M1493.8,777.7a6,6 0 1,0 12,0a6,6 0 1,0 -12,0M1498.8,769.7a6,6 0 1,0 12,0a6,6 0 1,0 -12,0M1503.8,762.9a6,6 0 1,0 12,0a6,6 0 1,0 -12,0M1508.8,757.9a6,6 0 1,0 12,0a6,6 0 1,0 -12,0M1513.8,755.1a6,6 0 1,0 12,0a6,6 0 1,0 -12,0M1518.8,754.6a6,6 0 1,0 12,0a6,6 0 1,0 -12,0M1523.8,756.5a6,6 0 1,0 12,0a6,6 0 1,0 -12,0M1528.8,760.7a6,6 0 1,0 12,0a6,6 0 1,0 -12,0M1533.8,766.8a6,6 0 1,0 12,0a6,6 0 1,0 -12,0M1538.8,774.5a6,6 0 1,0 12,0a6,6 0 1,0 -12,0M1543.8,783.1a6,6 0 1,0 12,0a6,6 0 1,0 -12,0M1548.8,792.2a6,6 0 1,0 12,0a6,6 0 1,0 -12,0M1553.8,801.3a6,6 0 1,0 12,0a6,6 0 1,0 -12,0M1558.8,810a6,6 0 1,0 12,0a6,6 0 1,0 -12,0M1563.8,817.9a6,6 0 1,0 12,0a6,6 0 1,0 -12,0M1568.8,824.8a6,6 0 1,0 12,0a6,6 0 1,0 -12,0M1573.8,830.6a6,6 0 1,0 12,0a6,6 0 1,0 -12,0M1578.8,835.4a6,6 0 1,0 12,0a6,6 0 1,0 -12,0M1583.8,839.1a6,6 0 1,0 12,0a6,6 0 1,0 -12,0M1588.8,842a6,6 0 1,0 12,0a6,6 0 1,0 -12,0M1593.8,844.2a6,6 0 1,0 12,0a6,6 0 1,0 -12,0M1598.8,845.7a6,6 0 1,0 12,0a6,6 0 1,0 -12,0M1603.8,846.8a6,6 0 1,0 12,0a6,6 0 1,0 -12,0" fill="none" stroke="#c8a0e6" stroke-width="1.3"/>
<path d="M1058.6,840.5a6.2,6.2 0 1,0 12.4,0a6.2,6.2 0 1,0 -12.4,0M1063.3,840.5a6.2,6.2 0 1,0 12.4,0a6.2,6.2 0 1,0 -12.4,0M1068,840.5a6.2,6.2 0 1,0 12.4,0a6.2,6.2 0 1,0 -12.4,0M1072.7,840.5a6.2,6.2 0 1,0 12.4,0a6.2,6.2 0 1,0 -12.4,0M1077.4,840.5a6.2,6.2 0 1,0 12.4,0a6.2,6.2 0 1,0 -12.4,0M1082.1,840.5a6.2,6.2 0 1,0 12.4,0a6.2,6.2 0 1,0 -12.4,0M1086.8,840.5a6.2,6.2 0 1,0 12.4,0a6.2,6.2 0 1,0 -12.4,0M1091.5,840.6a6.2,6.2 0 1,0 12.4,0a6.2,6.2 0 1,0 -12.4,0M1096.2,840.6a6.2,6.2 0 1,0 12.4,0a6.2,6.2 0 1,0 -12.4,0M1100.9,840.6a6.2,6.2 0 1,0 12.4,0a6.2,6.2 0 1,0 -12.4,0M1105.6,840.6a6.2,6.2 0 1,0 12.4,0a6.2,6.2 0 1,0 -12.4,0M1110.3,840.6a6.2,6.2 0 1,0 12.4,0a6.2,6.2 0 1,0 -12.4,0M1115,840.6a6.2,6.2 0 1,0 12.4,0a6.2,6.2 0 1,0 -12.4,0M1119.7,840.6a6.2,6.2 0 1,0 12.4,0a6.2,6.2 0 1,0 -12.4,0M1124.4,840.6a6.2,6.2 0 1,0 12.4,0a6.2,6.2 0 1,0 -12.4,0M1129.1,840.6a6.2,6.2 0 1,0 12.4,0a6.2,6.2 0 1,0 -12.4,0M1133.8,840.6a6.2,6.2 0 1,0 12.4,0a6.2,6.2 0 1,0 -12.4,0M1138.5,840.6a6.2,6.2 0 1,0 12.4,0a6.2,6.2 0 1,0 -12.4,0M1143.2,840.6a6.2,6.2 0 1,0 12.4,0a6.2,6.2 0 1,0 -12.4,0M1147.9,840.6a6.2,6.2 0 1,0 12.4,0a6.2,6.2 0 1,0 -12.4,0M1152.6,840.6a6.2,6.2 0 1,0 12.4,0a6.2,6.2 0 1,0 -12.4,0M1157.3,840.7a6.2,6.2 0 1,0 12.4,0a6.2,6.2 0 1,0 -12.4,0M1162,840.7a6.2,6.2 0 1,0 12.4,0a6.2,6.2 0 1,0 -12.4,0M1166.7,840.7a6.2,6.2 0 1,0 12.4,0a6.2,6.2 0 1,0 -12.4,0M1171.4,840.7a6.2,6.2 0 1,0 12.4,0a6.2,6.2 0 1,0 -12.4,0M1176.1,840.7a6.2,6.2 0 1,0 12.4,0a6.2,6.2 0 1,0 -12.4,0M1180.8,840.7a6.2,6.2 0 1,0 12.4,0a6.2,6.2 0 1,0 -12.4,0M1185.5,840.7a6.2,6.2 0 1,0 12.4,0a6.2,6.2 0 1,0 -12.4,0M1190.2,840.7a6.2,6.2 0 1,0 12.4,0a6.2,6.2 0 1,0 -12.4,0M1194.9,840.7a6.2,6.2 0 1,0 12.4,0a6.2,6.2 0 1,0 -12.4,0M1199.6,840.7a6.2,6.2 0 1,0 12.4,0a6.2,6.2 0 1,0 -12.4,0M1204.3,840.7a6.2,6.2 0 1,0 12.4,0a6.2,6.2 0 1,0 -12.4,0M1209,840.7a6.2,6.2 0 1,0 12.4,0a6.2,6.2 0 1,0 -12.4,0M1213.7,840.7a6.2,6.2 0 1,0 12.4,0a6.2,6.2 0 1,0 -12.4,0M1218.4,840.7a6.2,6.2 0 1,0 12.4,0a6.2,6.2 0 1,0 -12.4,0M1223.1,840.8a6.2,6.2 0 1,0 12.4,0a6.2,6.2 0 1,0 -12.4,0M1227.8,840.8a6.2,6.2 0 1,0 12.4,0a6.2,6.2 0 1,0 -12.4,0M1232.5,840.8a6.2,6.2 0 1,0 12.4,0a6.2,6.2 0 1,0 -12.4,0M1237.2,840.8a6.2,6.2 0 1,0 12.4,0a6.2,6.2 0 1,0 -12.4,0M1241.9,840.8a6.2,6.2 0 1,0 12.4,0a6.2,6.2 0 1,0 -12.4,0M1246.6,840.8a6.2,6.2 0 1,0 12.4,0a6.2,6.2 0 1,0 -12.4,0M1251.3,840.8a6.2,6.2 0 1,0 12.4,0a6.2,6.2 0 1,0 -12.4,0M1256,840.8a6.2,6.2 0 1,0 12.4,0a6.2,6.2 0 1,0 -12.4,0M1260.7,840.8a6.2,6.2 0 1,0 12.4,0a6.2,6.2 0 1,0 -12.4,0M1265.4,840.8a6.2,6.2 0 1,0 12.4,0a6.2,6.2 0 1,0 -12.4,0M1270.1,840.8a6.2,6.2 0 1,0 12.4,0a6.2,6.2 0 1,0 -12.4,0M1274.8,840.8a6.2,6.2 0 1,0 12.4,0a6.2,6.2 0 1,0 -12.4,0M1279.5,840.8a6.2,6.2 0 1,0 12.4,0a6.2,6.2 0 1,0 -12.4,0M1284.2,840.8a6.2,6.2 0 1,0 12.4,0a6.2,6.2 0 1,0 -12.4,0M1288.9,840.9a6.2,6.2 0 1,0 12.4,0a6.2,6.2 0 1,0 -12.4,0M1293.6,840.9a6.2,6.2 0 1,0 12.4,0a6.2,6.2 0 1,0 -12.4,0M1298.3,840.9a6.2,6.2 0 1,0 12.4,0a6.2,6.2 0 1,0 -12.4,0M1303,840.9a6.2,6.2 0 1,0 12.4,0a6.2,6.2 0 1,0 -12.4,0M1307.7,840.9a6.2,6.2 0 1,0 12.4,0a6.2,6.2 0 1,0 -12.4,0M1312.4,840.9a6.2,6.2 0 1,0 12.4,0a6.2,6.2 0 1,0 -12.4,0M1317.1,840.9a6.2,6.2 0 1,0 12.4,0a6.2,6.2 0 1,0 -12.4,0M1321.8,840.9a6.2,6.2 0 1,0 12.4,0a6.2,6.2 0 1,0 -12.4,0M1326.5,840.9a6.2,6.2 0 1,0 12.4,0a6.2,6.2 0 1,0 -12.4,0M1331.2,840.9a6.2,6.2 0 1,0 12.4,0a6.2,6.2 0 1,0 -12.4,0M1335.9,840.9a6.2,6.2 0 1,0 12.4,0a6.2,6.2 0 1,0 -12.4,0M1340.6,840.9a6.2,6.2 0 1,0 12.4,0a6.2,6.2 0 1,0 -12.4,0M1345.3,840.9a6.2,6.2 0 1,0 12.4,0a6.2,6.2 0 1,0 -12.4,0M1350,840.9a6.2,6.2 0 1,0 12.4,0a6.2,6.2 0 1,0 -12.4,0M1354.7,841a6.2,6.2 0 1,0 12.4,0a6.2,6.2 0 1,0 -12.4,0M1359.4,841a6.2,6.2 0 1,0 12.4,0a6.2,6.2 0 1,0 -12.4,0M1364.1,841a6.2,6.2 0 1,0 12.4,0a6.2,6.2 0 1,0 -12.4,0M1368.8,841a6.2,6.2 0 1,0 12.4,0a6.2,6.2 0 1,0 -12.4,0M1373.5,841a6.2,6.2 0 1,0 12.4,0a6.2,6.2 0 1,0 -12.4,0M1378.2,841a6.2,6.2 0 1,0 12.4,0a6.2,6.2 0 1,0 -12.4,0M1382.9,841a6.2,6.2 0 1,0 12.4,0a6.2,6.2 0 1,0 -12.4,0M1387.6,841a6.2,6.2 0 1,0 12.4,0a6.2,6.2 0 1,0 -12.4,0M1392.3,841a6.2,6.2 0 1,0 12.4,0a6.2,6.2 0 1,0 -12.4,0M1397,840.9a6.2,6.2 0 1,0 12.4,0a6.2,6.2 0 1,0 -12.4,0M1401.7,840.8a6.2,6.2 0 1,0 12.4,0a6.2,6.2 0 1,0 -12.4,0M1406.4,840.7a6.2,6.2 0 1,0 12.4,0a6.2,6.2 0 1,0 -12.4,0M1411.1,840.5a6.2,6.2 0 1,0 12.4,0a6.2,6.2 0 1,0 -12.4,0M1415.8,840.1a6.2,6.2 0 1,0 12.4,0a6.2,6.2 0 1,0 -12.4,0M1420.5,839.6a6.2,6.2 0 1,0 12.4,0a6.2,6.2 0 1,0 -12.4,0M1425.2,838.8a6.2,6.2 0 1,0 12.4,0a6.2,6.2 0 1,0 -12.4,0M1429.9,837.7a6.2,6.2 0 1,0 12.4,0a6.2,6.2 0 1,0 -12.4,0M1434.6,836.1a6.2,6.2 0 1,0 12.4,0a6.2,6.2 0 1,0 -12.4,0M1439.3,834a6.2,6.2 0 1,0 12.4,0a6.2,6.2 0 1,0 -12.4,0M1444,831.1a6.2,6.2 0 1,0 12.4,0a6.2,6.2 0 1,0 -12.4,0M1448.7,827.5a6.2,6.2 0 1,0 12.4,0a6.2,6.2 0 1,0 -12.4,0M1453.4,823a6.2,6.2 0 1,0 12.4,0a6.2,6.2 0 1,0 -12.4,0M1458.1,817.6a6.2,6.2 0 1,0 12.4,0a6.2,6.2 0 1,0 -12.4,0M1462.8,811.2a6.2,6.2 0 1,0 12.4,0a6.2,6.2 0 1,0 -12.4,0M1467.5,804a6.2,6.2 0 1,0 12.4,0a6.2,6.2 0 1,0 -12.4,0M1472.2,796a6.2,6.2 0 1,0 12.4,0a6.2,6.2 0 1,0 -12.4,0M1476.9,787.7a6.2,6.2 0 1,0 12.4,0a6.2,6.2 0 1,0 -12.4,0M1481.6,779.2a6.2,6.2 0 1,0 12.4,0a6.2,6.2 0 1,0 -12.4,0M1486.3,771a6.2,6.2 0 1,0 12.4,0a6.2,6.2 0 1,0 -12.4,0M1491,763.6a6.2,6.2 0 1,0 12.4,0a6.2,6.2 0 1,0 -12.4,0M1495.7,757.3a6.2,6.2 0 1,0 12.4,0a6.2,6.2 0 1,0 -12.4,0M1500.4,752.6a6.2,6.2 0 1,0 12.4,0a6.2,6.2 0 1,0 -12.4,0M1505.1,749.8a6.2,6.2 0 1,0 12.4,0a6.2,6.2 0 1,0 -12.4,0M1509.8,749a6.2,6.2 0 1,0 12.4,0a6.2,6.2 0 1,0 -12.4,0M1514.5,750.4a6.2,6.2 0 1,0 12.4,0a6.2,6.2 0 1,0 -12.4,0M1519.2,753.8a6.2,6.2 0 1,0 12.4,0a6.2,6.2 0 1,0 -12.4,0M1523.9,759a6.2,6.2 0 1,0 12.4,0a6.2,6.2 0 1,0 -12.4,0M1528.6,765.7a6.2,6.2 0 1,0 12.4,0a6.2,6.2 0 1,0 -12.4,0M1533.3,773.5a6.2,6.2 0 1,0 12.4,0a6.2,6.2 0 1,0 -12.4,0M1538,782a6.2,6.2 0 1,0 12.4,0a6.2,6.2 0 1,0 -12.4,0M1542.7,790.6a6.2,6.2 0 1,0 12.4,0a6.2,6.2 0 1,0 -12.4,0M1547.4,799a6.2,6.2 0 1,0 12.4,0a6.2,6.2 0 1,0 -12.4,0M1552.1,806.9a6.2,6.2 0 1,0 12.4,0a6.2,6.2 0 1,0 -12.4,0M1556.8,814.1a6.2,6.2 0 1,0 12.4,0a6.2,6.2 0 1,0 -12.4,0M1561.5,820.4a6.2,6.2 0 1,0 12.4,0a6.2,6.2 0 1,0 -12.4,0M1566.2,825.7a6.2,6.2 0 1,0 12.4,0a6.2,6.2 0 1,0 -12.4,0M1570.9,830.1a6.2,6.2 0 1,0 12.4,0a6.2,6.2 0 1,0 -12.4,0M1575.6,833.6a6.2,6.2 0 1,0 12.4,0a6.2,6.2 0 1,0 -12.4,0M1580.3,836.4a6.2,6.2 0 1,0 12.4,0a6.2,6.2 0 1,0 -12.4,0M1585,838.4a6.2,6.2 0 1,0 12.4,0a6.2,6.2 0 1,0 -12.4,0M1589.7,840a6.2,6.2 0 1,0 12.4,0a6.2,6.2 0 1,0 -12.4,0M1594.4,841.1a6.2,6.2 0 1,0 12.4,0a6.2,6.2 0 1,0 -12.4,0M1599.1,841.8a6.2,6.2 0 1,0 12.4,0a6.2,6.2 0 1,0 -12.4,0M1603.8,842.4a6.2,6.2 0 1,0 12.4,0a6.2,6.2 0 1,0 -12.4,0M1608.5,842.7a6.2,6.2 0 1,0 12.4,0a6.2,6.2 0 1,0 -12.4,0M1613.2,843a6.2,6.2 0 1,0 12.4,0a6.2,6.2 0 1,0 -12.4,0M1617.9,843.1a6.2,6.2 0 1,0 12.4,0a6.2,6.2 0 1,0 -12.4,0M1622.6,843.2a6.2,6.2 0 1,0 12.4,0a6.2,6.2 0 1,0 -12.4,0M1627.3,843.3a6.2,6.2 0 1,0 12.4,0a6.2,6.2 0 1,0 -12.4,0M1632,843.3a6.2,6.2 0 1,0 12.4,0a6.2,6.2 0 1,0 -12.4,0M1636.7,843.3a6.2,6.2 0 1,0 12.4,0a6.2,6.2 0 1,0 -12.4,0M1641.4,843.4a6.2,6.2 0 1,0 12.4,0a6.2,6.2 0 1,0 -12.4,0M1646.1,843.4a6.2,6.2 0 1,0 12.4,0a6.2,6.2 0 1,0 -12.4,0M1650.8,843.4a6.2,6.2 0 1,0 12.4,0a6.2,6.2 0 1,0 -12.4,0M1655.5,843.4a6.2,6.2 0 1,0 12.4,0a6.2,6.2 0 1,0 -12.4,0M1660.2,843.4a6.2,6.2 0 1,0 12.4,0a6.2,6.2 0 1,0 -12.4,0M1664.9,843.4a6.2,6.2 0 1,0 12.4,0a6.2,6.2 0 1,0 -12.4,0M1669.6,843.4a6.2,6.2 0 1,0 12.4,0a6.2,6.2 0 1,0 -12.4,0M1674.3,843.4a6.2,6.2 0 1,0 12.4,0a6.2,6.2 0 1,0 -12.4,0M1679,843.4a6.2,6.2 0 1,0 12.4,0a6.2,6.2 0 1,0 -12.4,0M1683.7,843.4a6.2,6.2 0 1,0 12.4,0a6.2,6.2 0 1,0 -12.4,0M1688.4,843.5a6.2,6.2 0 1,0 12.4,0a6.2,6.2 0 1,0 -12.4,0M1693.1,843.5a6.2,6.2 0 1,0 12.4,0a6.2,6.2 0 1,0 -12.4,0M1697.8,843.5a6.2,6.2 0 1,0 12.4,0a6.2,6.2 0 1,0 -12.4,0M1702.5,843.5a6.2,6.2 0 1,0 12.4,0a6.2,6.2 0 1,0 -12.4,0M1707.2,843.5a6.2,6.2 0 1,0 12.4,0a6.2,6.2 0 1,0 -12.4,0M1711.9,843.5a6.2,6.2 0 1,0 12.4,0a6.2,6.2 0 1,0 -12.4,0M1716.6,843.5a6.2,6.2 0 1,0 12.4,0a6.2,6.2 0 1,0 -12.4,0M1721.3,843.5a6.2,6.2 0 1,0 12.4,0a6.2,6.2 0 1,0 -12.4,0M1726,843.5a6.2,6.2 0 1,0 12.4,0a6.2,6.2 0 1,0 -12.4,0M1730.7,843.5a6.2,6.2 0 1,0 12.4,0a6.2,6.2 0 1,0 -12.4,0M1735.4,843.5a6.2,6.2 0 1,0 12.4,0a6.2,6.2 0 1,0 -12.4,0M1740.1,843.5a6.2,6.2 0 1,0 12.4,0a6.2,6.2 0 1,0 -12.4,0M1744.8,843.5a6.2,6.2 0 1,0 12.4,0a6.2,6.2 0 1,0 -12.4,0M1749.5,843.5a6.2,6.2 0 1,0 12.4,0a6.2,6.2 0 1,0 -12.4,0M1754.2,843.6a6.2,6.2 0 1,0 12.4,0a6.2,6.2 0 1,0 -12.4,0M1758.9,843.6a6.2,6.2 0 1,0 12.4,0a6.2,6.2 0 1,0 -12.4,0M1763.6,843.6a6.2,6.2 0 1,0 12.4,0a6.2,6.2 0 1,0 -12.4,0M1768.3,843.6a6.2,6.2 0 1,0 12.4,0a6.2,6.2 0 1,0 -12.4,0M1773,843.6a6.2,6.2 0 1,0 12.4,0a6.2,6.2 0 1,0 -12.4,0" fill="none" stroke="#4444ff" stroke-width="1.3"/>
<text x="1287" y="777.4" font-family="'Liberation Serif','Times New Roman',serif" font-size="44" font-weight="bold" text-anchor="start" fill="#008080" >Al 2p</text>
<line x1="1398" y1="756.8" x2="1482" y2="750.4" stroke="#008080" stroke-width="5" stroke-linecap="butt"/>
<path d="M1478,741.9 L1496,748.9 L1480,757.9 Z" fill="#008080"/>
<text x="1780" y="769.6" font-family="'Liberation Serif','Times New Roman',serif" font-size="40" font-weight="bold" fill="#008080" text-anchor="end">0.5 A cm<tspan dy="-13" font-size="26">-2</tspan></text>
<path d="M1421.8,964.7 L1422.8,964.8 L1423.8,964.8 L1424.8,964.8 L1425.8,964.9 L1426.8,964.9 L1427.8,964.9 L1428.8,965 L1429.8,965 L1430.8,965 L1431.8,965.1 L1432.8,965.1 L1433.8,965.2 L1434.8,965.2 L1435.8,965.2 L1436.8,965.3 L1437.8,965.3 L1438.8,965.4 L1439.8,965.4 L1440.8,965.5 L1441.8,965.5 L1442.8,965.6 L1443.8,965.6 L1444.8,965.7 L1445.8,965.7 L1446.8,965.8 L1447.8,965.9 L1448.8,965.9 L1449.8,966 L1450.8,966 L1451.8,966.1 L1452.8,966.2 L1453.8,965.9 L1454.8,965.6 L1455.8,965.2 L1456.8,964.8 L1457.8,964.4 L1458.8,964 L1459.8,963.5 L1460.8,963 L1461.8,962.4 L1462.8,961.9 L1463.8,961.2 L1464.8,960.6 L1465.8,959.9 L1466.8,959.2 L1467.8,958.4 L1468.8,957.6 L1469.8,956.8 L1470.8,955.9 L1471.8,955 L1472.8,954 L1473.8,953 L1474.8,951.9 L1475.8,950.8 L1476.8,949.7 L1477.8,948.5 L1478.8,947.2 L1479.8,946 L1480.8,944.6 L1481.8,943.3 L1482.8,941.9 L1483.8,940.4 L1484.8,938.9 L1485.8,937.4 L1486.8,935.8 L1487.8,934.2 L1488.8,932.6 L1489.8,931 L1490.8,929.3 L1491.8,927.6 L1492.8,925.8 L1493.8,924.1 L1494.8,922.3 L1495.8,920.5 L1496.8,918.7 L1497.8,916.9 L1498.8,915.1 L1499.8,913.3 L1500.8,911.5 L1501.8,909.7 L1502.8,908 L1503.8,906.2 L1504.8,904.5 L1505.8,902.8 L1506.8,901.2 L1507.8,899.5 L1508.8,898 L1509.8,896.4 L1510.8,895 L1511.8,893.5 L1512.8,892.2 L1513.8,890.9 L1514.8,889.6 L1515.8,888.5 L1516.8,887.4 L1517.8,886.4 L1518.8,885.5 L1519.8,884.7 L1520.8,883.9 L1521.8,883.3 L1522.8,882.7 L1523.8,882.3 L1524.8,881.9 L1525.8,881.6 L1526.8,881.5 L1527.8,881.4 L1528.8,881.5 L1529.8,881.6 L1530.8,881.9 L1531.8,882.2 L1532.8,882.7 L1533.8,883.2 L1534.8,883.9 L1535.8,884.6 L1536.8,885.5 L1537.8,886.4 L1538.8,887.5 L1539.8,888.6 L1540.8,889.8 L1541.8,891 L1542.8,892.4 L1543.8,893.8 L1544.8,895.3 L1545.8,896.9 L1546.8,898.5 L1547.8,900.2 L1548.8,901.9 L1549.8,903.7 L1550.8,905.5 L1551.8,907.4 L1552.8,909.3 L1553.8,911.2 L1554.8,913.1 L1555.8,915.1 L1556.8,917.1 L1557.8,919.1 L1558.8,921.1 L1559.8,923.1 L1560.8,925 L1561.8,927 L1562.8,929 L1563.8,931 L1564.8,932.9 L1565.8,934.8 L1566.8,936.7 L1567.8,938.6 L1568.8,940.5 L1569.8,942.3 L1570.8,944.1 L1571.8,945.8 L1572.8,947.5 L1573.8,949.2 L1574.8,950.8 L1575.8,952.4 L1576.8,953.9 L1577.8,955.4 L1578.8,956.8 L1579.8,958.2 L1580.8,959.6 L1581.8,960.9 L1582.8,962.1 L1583.8,963.3 L1584.8,964.5 L1585.8,965.6 L1586.8,966.7 L1587.8,967.7 L1588.8,968.7 L1589.8,969.6 L1590.8,970.5 L1591.8,971.4 L1592.8,972.2 L1593.8,972.9 L1594.8,973.7 L1595.8,974.3 L1596.8,975 L1597.8,975.6 L1598.8,976.2 L1599.8,976.7 L1600.8,977.3 L1601.8,977.8 L1602.8,978.2 L1603.8,978.6 L1604.8,979.1 L1605.8,979.1 L1606.8,979.1 L1607.8,979.1 L1608.8,979.2 L1609.8,979.2 L1610.8,979.2 L1611.8,979.2 L1612.8,979.2 L1613.8,979.2 L1614.8,979.2 L1615.8,979.2 L1616.8,979.2 L1617.8,979.2 L1618.8,979.2 L1619.8,979.2 L1620.8,979.2 L1620.8,979.2 L1619.8,979.2 L1618.8,979.2 L1617.8,979.2 L1616.8,979.2 L1615.8,979.2 L1614.8,979.2 L1613.8,979.2 L1612.8,979.2 L1611.8,979.2 L1610.8,979.2 L1609.8,979.2 L1608.8,979.2 L1607.8,979.1 L1606.8,979.1 L1605.8,979.1 L1604.8,979.1 L1603.8,979.1 L1602.8,979.1 L1601.8,979.1 L1600.8,979.1 L1599.8,979.1 L1598.8,979 L1597.8,979 L1596.8,979 L1595.8,979 L1594.8,979 L1593.8,978.9 L1592.8,978.9 L1591.8,978.9 L1590.8,978.9 L1589.8,978.8 L1588.8,978.8 L1587.8,978.8 L1586.8,978.8 L1585.8,978.7 L1584.8,978.7 L1583.8,978.7 L1582.8,978.6 L1581.8,978.6 L1580.8,978.6 L1579.8,978.5 L1578.8,978.5 L1577.8,978.4 L1576.8,978.4 L1575.8,978.3 L1574.8,978.3 L1573.8,978.3 L1572.8,978.2 L1571.8,978.1 L1570.8,978.1 L1569.8,978 L1568.8,978 L1567.8,977.9 L1566.8,977.9 L1565.8,977.8 L1564.8,977.7 L1563.8,977.7 L1562.8,977.6 L1561.8,977.5 L1560.8,977.5 L1559.8,977.4 L1558.8,977.3 L1557.8,977.2 L1556.8,977.2 L1555.8,977.1 L1554.8,977 L1553.8,976.9 L1552.8,976.8 L1551.8,976.8 L1550.8,976.7 L1549.8,976.6 L1548.8,976.5 L1547.8,976.4 L1546.8,976.3 L1545.8,976.2 L1544.8,976.1 L1543.8,976 L1542.8,975.9 L1541.8,975.8 L1540.8,975.7 L1539.8,975.6 L1538.8,975.5 L1537.8,975.4 L1536.8,975.3 L1535.8,975.2 L1534.8,975.1 L1533.8,974.9 L1532.8,974.8 L1531.8,974.7 L1530.8,974.6 L1529.8,974.5 L1528.8,974.4 L1527.8,974.2 L1526.8,974.1 L1525.8,974 L1524.8,973.9 L1523.8,973.8 L1522.8,973.6 L1521.8,973.5 L1520.8,973.4 L1519.8,973.3 L1518.8,973.1 L1517.8,973 L1516.8,972.9 L1515.8,972.8 L1514.8,972.6 L1513.8,972.5 L1512.8,972.4 L1511.8,972.3 L1510.8,972.1 L1509.8,972 L1508.8,971.9 L1507.8,971.8 L1506.8,971.6 L1505.8,971.5 L1504.8,971.4 L1503.8,971.3 L1502.8,971.1 L1501.8,971 L1500.8,970.9 L1499.8,970.8 L1498.8,970.6 L1497.8,970.5 L1496.8,970.4 L1495.8,970.3 L1494.8,970.1 L1493.8,970 L1492.8,969.9 L1491.8,969.8 L1490.8,969.7 L1489.8,969.6 L1488.8,969.4 L1487.8,969.3 L1486.8,969.2 L1485.8,969.1 L1484.8,969 L1483.8,968.9 L1482.8,968.8 L1481.8,968.7 L1480.8,968.6 L1479.8,968.5 L1478.8,968.4 L1477.8,968.3 L1476.8,968.2 L1475.8,968.1 L1474.8,968 L1473.8,967.9 L1472.8,967.8 L1471.8,967.7 L1470.8,967.6 L1469.8,967.5 L1468.8,967.4 L1467.8,967.3 L1466.8,967.2 L1465.8,967.1 L1464.8,967.1 L1463.8,967 L1462.8,966.9 L1461.8,966.8 L1460.8,966.7 L1459.8,966.7 L1458.8,966.6 L1457.8,966.5 L1456.8,966.4 L1455.8,966.4 L1454.8,966.3 L1453.8,966.2 L1452.8,966.2 L1451.8,966.1 L1450.8,966 L1449.8,966 L1448.8,965.9 L1447.8,965.9 L1446.8,965.8 L1445.8,965.7 L1444.8,965.7 L1443.8,965.6 L1442.8,965.6 L1441.8,965.5 L1440.8,965.5 L1439.8,965.4 L1438.8,965.4 L1437.8,965.3 L1436.8,965.3 L1435.8,965.2 L1434.8,965.2 L1433.8,965.2 L1432.8,965.1 L1431.8,965.1 L1430.8,965 L1429.8,965 L1428.8,965 L1427.8,964.9 L1426.8,964.9 L1425.8,964.9 L1424.8,964.8 L1423.8,964.8 L1422.8,964.8 L1421.8,964.7Z" fill="#dccbea"/>
<path d="M1416.8,963.7a5,5 0 1,0 10,0a5,5 0 1,0 -10,0M1419.8,963.8a5,5 0 1,0 10,0a5,5 0 1,0 -10,0M1422.8,963.9a5,5 0 1,0 10,0a5,5 0 1,0 -10,0M1425.8,964a5,5 0 1,0 10,0a5,5 0 1,0 -10,0M1428.8,964.2a5,5 0 1,0 10,0a5,5 0 1,0 -10,0M1431.8,964.3a5,5 0 1,0 10,0a5,5 0 1,0 -10,0M1434.8,964.4a5,5 0 1,0 10,0a5,5 0 1,0 -10,0M1437.8,964.6a5,5 0 1,0 10,0a5,5 0 1,0 -10,0M1440.8,964.7a5,5 0 1,0 10,0a5,5 0 1,0 -10,0M1443.8,964.9a5,5 0 1,0 10,0a5,5 0 1,0 -10,0M1446.8,965.1a5,5 0 1,0 10,0a5,5 0 1,0 -10,0M1449.8,965.3a5,5 0 1,0 10,0a5,5 0 1,0 -10,0M1452.8,965.5a5,5 0 1,0 10,0a5,5 0 1,0 -10,0M1455.8,965.7a5,5 0 1,0 10,0a5,5 0 1,0 -10,0M1458.8,966a5,5 0 1,0 10,0a5,5 0 1,0 -10,0M1461.8,966.2a5,5 0 1,0 10,0a5,5 0 1,0 -10,0M1464.8,966.5a5,5 0 1,0 10,0a5,5 0 1,0 -10,0M1467.8,966.8a5,5 0 1,0 10,0a5,5 0 1,0 -10,0M1470.8,967.1a5,5 0 1,0 10,0a5,5 0 1,0 -10,0M1473.8,967.4a5,5 0 1,0 10,0a5,5 0 1,0 -10,0M1476.8,967.7a5,5 0 1,0 10,0a5,5 0 1,0 -10,0M1479.8,968a5,5 0 1,0 10,0a5,5 0 1,0 -10,0M1482.8,968.3a5,5 0 1,0 10,0a5,5 0 1,0 -10,0M1485.8,968.7a5,5 0 1,0 10,0a5,5 0 1,0 -10,0M1488.8,969a5,5 0 1,0 10,0a5,5 0 1,0 -10,0M1491.8,969.4a5,5 0 1,0 10,0a5,5 0 1,0 -10,0M1494.8,969.8a5,5 0 1,0 10,0a5,5 0 1,0 -10,0M1497.8,970.1a5,5 0 1,0 10,0a5,5 0 1,0 -10,0M1500.8,970.5a5,5 0 1,0 10,0a5,5 0 1,0 -10,0M1503.8,970.9a5,5 0 1,0 10,0a5,5 0 1,0 -10,0M1506.8,971.3a5,5 0 1,0 10,0a5,5 0 1,0 -10,0M1509.8,971.6a5,5 0 1,0 10,0a5,5 0 1,0 -10,0M1512.8,972a5,5 0 1,0 10,0a5,5 0 1,0 -10,0M1515.8,972.4a5,5 0 1,0 10,0a5,5 0 1,0 -10,0M1518.8,972.8a5,5 0 1,0 10,0a5,5 0 1,0 -10,0M1521.8,973.1a5,5 0 1,0 10,0a5,5 0 1,0 -10,0M1524.8,973.5a5,5 0 1,0 10,0a5,5 0 1,0 -10,0M1527.8,973.8a5,5 0 1,0 10,0a5,5 0 1,0 -10,0M1530.8,974.2a5,5 0 1,0 10,0a5,5 0 1,0 -10,0M1533.8,974.5a5,5 0 1,0 10,0a5,5 0 1,0 -10,0M1536.8,974.8a5,5 0 1,0 10,0a5,5 0 1,0 -10,0M1539.8,975.1a5,5 0 1,0 10,0a5,5 0 1,0 -10,0M1542.8,975.4a5,5 0 1,0 10,0a5,5 0 1,0 -10,0M1545.8,975.7a5,5 0 1,0 10,0a5,5 0 1,0 -10,0M1548.8,975.9a5,5 0 1,0 10,0a5,5 0 1,0 -10,0M1551.8,976.2a5,5 0 1,0 10,0a5,5 0 1,0 -10,0M1554.8,976.4a5,5 0 1,0 10,0a5,5 0 1,0 -10,0M1557.8,976.6a5,5 0 1,0 10,0a5,5 0 1,0 -10,0M1560.8,976.8a5,5 0 1,0 10,0a5,5 0 1,0 -10,0M1563.8,977a5,5 0 1,0 10,0a5,5 0 1,0 -10,0M1566.8,977.1a5,5 0 1,0 10,0a5,5 0 1,0 -10,0M1569.8,977.3a5,5 0 1,0 10,0a5,5 0 1,0 -10,0M1572.8,977.4a5,5 0 1,0 10,0a5,5 0 1,0 -10,0M1575.8,977.6a5,5 0 1,0 10,0a5,5 0 1,0 -10,0M1578.8,977.7a5,5 0 1,0 10,0a5,5 0 1,0 -10,0M1581.8,977.8a5,5 0 1,0 10,0a5,5 0 1,0 -10,0M1584.8,977.8a5,5 0 1,0 10,0a5,5 0 1,0 -10,0M1587.8,977.9a5,5 0 1,0 10,0a5,5 0 1,0 -10,0M1590.8,978a5,5 0 1,0 10,0a5,5 0 1,0 -10,0M1593.8,978a5,5 0 1,0 10,0a5,5 0 1,0 -10,0M1596.8,978.1a5,5 0 1,0 10,0a5,5 0 1,0 -10,0M1599.8,978.1a5,5 0 1,0 10,0a5,5 0 1,0 -10,0M1602.8,978.1a5,5 0 1,0 10,0a5,5 0 1,0 -10,0M1605.8,978.2a5,5 0 1,0 10,0a5,5 0 1,0 -10,0M1608.8,978.2a5,5 0 1,0 10,0a5,5 0 1,0 -10,0M1611.8,978.2a5,5 0 1,0 10,0a5,5 0 1,0 -10,0M1614.8,978.2a5,5 0 1,0 10,0a5,5 0 1,0 -10,0" fill="none" stroke="#5ee85e" stroke-width="1.3"/>
<polyline points="1406.8,968.4 1407.8,968.4 1408.8,968.4 1409.8,968.4 1410.8,968.4 1411.8,968.5 1412.8,968.5 1413.8,968.5 1414.8,968.5 1415.8,968.6 1416.8,968.6 1417.8,968.6 1418.8,968.6 1419.8,968.7 1420.8,968.7 1421.8,968.7 1422.8,968.8 1423.8,968.8 1424.8,968.8 1425.8,968.9 1426.8,968.9 1427.8,968.9 1428.8,969 1429.8,969 1430.8,969 1431.8,969.1 1432.8,969.1 1433.8,969.2 1434.8,969.2 1435.8,969.2 1436.8,969.3 1437.8,969.3 1438.8,969.4 1439.8,969.4 1440.8,969.5 1441.8,969.5 1442.8,969.6 1443.8,969.6 1444.8,969.7 1445.8,969.7 1446.8,969.8 1447.8,969.9 1448.8,969.9 1449.8,970 1450.8,970 1451.8,970.1 1452.8,970.2 1453.8,970.2 1454.8,970.3 1455.8,970.4 1456.8,970.4 1457.8,970.5 1458.8,970.6 1459.8,970.7 1460.8,970.7 1461.8,970.8 1462.8,970.9 1463.8,971 1464.8,971.1 1465.8,971.1 1466.8,971.2 1467.8,971.3 1468.8,971.4 1469.8,971.5 1470.8,971.6 1471.8,971.7 1472.8,971.8 1473.8,971.9 1474.8,972 1475.8,972.1 1476.8,972.2 1477.8,972.3 1478.8,972.4 1479.8,972.5 1480.8,972.6 1481.8,972.7 1482.8,972.8 1483.8,972.9 1484.8,973 1485.8,973.1 1486.8,973.2 1487.8,973.3 1488.8,973.4 1489.8,973.6 1490.8,973.7 1491.8,973.8 1492.8,973.9 1493.8,974 1494.8,974.1 1495.8,974.3 1496.8,974.4 1497.8,974.5 1498.8,974.6 1499.8,974.8 1500.8,974.9 1501.8,975 1502.8,975.1 1503.8,975.3 1504.8,975.4 1505.8,975.5 1506.8,975.6 1507.8,975.8 1508.8,975.9 1509.8,976 1510.8,976.1 1511.8,976.3 1512.8,976.4 1513.8,976.5 1514.8,976.6 1515.8,976.8 1516.8,976.9 1517.8,977 1518.8,977.1 1519.8,977.3 1520.8,977.4 1521.8,977.5 1522.8,977.6 1523.8,977.8 1524.8,977.9 1525.8,978 1526.8,978.1 1527.8,978.2 1528.8,978.4 1529.8,978.5 1530.8,978.6 1531.8,978.7 1532.8,978.8 1533.8,978.9 1534.8,979.1 1535.8,979.2 1536.8,979.3 1537.8,979.4 1538.8,979.5 1539.8,979.6 1540.8,979.7 1541.8,979.8 1542.8,979.9 1543.8,980 1544.8,980.1 1545.8,980.2 1546.8,980.3 1547.8,980.4 1548.8,980.5 1549.8,980.6 1550.8,980.7 1551.8,980.8 1552.8,980.8 1553.8,980.9 1554.8,981 1555.8,981.1 1556.8,981.2 1557.8,981.2 1558.8,981.3 1559.8,981.4 1560.8,981.5 1561.8,981.5 1562.8,981.6 1563.8,981.7 1564.8,981.7 1565.8,981.8 1566.8,981.9 1567.8,981.9 1568.8,982 1569.8,982 1570.8,982.1 1571.8,982.1 1572.8,982.2 1573.8,982.3 1574.8,982.3 1575.8,982.3 1576.8,982.4 1577.8,982.4 1578.8,982.5 1579.8,982.5 1580.8,982.6 1581.8,982.6 1582.8,982.6 1583.8,982.7 1584.8,982.7 1585.8,982.7 1586.8,982.8 1587.8,982.8 1588.8,982.8 1589.8,982.8 1590.8,982.9 1591.8,982.9 1592.8,982.9 1593.8,982.9 1594.8,983 1595.8,983 1596.8,983 1597.8,983 1598.8,983 1599.8,983.1 1600.8,983.1 1601.8,983.1 1602.8,983.1 1603.8,983.1 1604.8,983.1 1605.8,983.1 1606.8,983.1 1607.8,983.1 1608.8,983.2 1609.8,983.2 1610.8,983.2 1611.8,983.2 1612.8,983.2 1613.8,983.2 1614.8,983.2 1615.8,983.2 1616.8,983.2 1617.8,983.2 1618.8,983.2 1619.8,983.2 1620.8,983.2 1621.8,983.2 1622.8,983.2 1623.8,983.2 1624.8,983.2 1625.8,983.2 1626.8,983.2 1627.8,983.2 1628.8,983.2 1629.8,983.2 1630.8,983.2 1631.8,983.2 1632.8,983.2 1633.8,983.2 1634.8,983.2 1635.8,983.2" fill="none" stroke="#10e010" stroke-width="2.5" stroke-linejoin="round" stroke-linecap="round" />
<polyline points="1064.8,961.1 1066.8,963.2 1068.8,961.5 1070.8,964 1072.8,961.4 1074.8,963.8 1076.8,961.6 1078.8,961.2 1080.8,963.3 1082.8,961.9 1084.8,963.4 1086.8,961.8 1088.8,961.4 1090.8,963.5 1092.8,963.4 1094.8,963.8 1096.8,963.4 1098.8,961.5 1100.8,963.1 1102.8,963.4 1104.8,962.7 1106.8,964.1 1108.8,962.1 1110.8,964.2 1112.8,963.5 1114.8,961.4 1116.8,961.4 1118.8,963.3 1120.8,963.8 1122.8,961.6 1124.8,962.3 1126.8,963.6 1128.8,961.9 1130.8,964 1132.8,962.9 1134.8,961.6 1136.8,962.5 1138.8,963.1 1140.8,962.7 1142.8,963.5 1144.8,961.9 1146.8,963.8 1148.8,962.5 1150.8,963.4 1152.8,963.4 1154.8,962.7 1156.8,962.6 1158.8,963.9 1160.8,964.3 1162.8,963.9 1164.8,963.2 1166.8,962.4 1168.8,961.7 1170.8,964.5 1172.8,963.7 1174.8,964 1176.8,962.6 1178.8,963.4 1180.8,964.5 1182.8,964.1 1184.8,963.4 1186.8,962.5 1188.8,962.9 1190.8,964.3 1192.8,962.8 1194.8,963.7 1196.8,963.5 1198.8,964.3 1200.8,964.1 1202.8,962.5 1204.8,961.7 1206.8,962.5 1208.8,963 1210.8,963.5 1212.8,964.2 1214.8,964.4 1216.8,961.9 1218.8,964.2 1220.8,964.2 1222.8,964.4 1224.8,963.5 1226.8,962.6 1228.8,964.3 1230.8,964.2 1232.8,963.8 1234.8,964.5 1236.8,962.8 1238.8,962.1 1240.8,963.5 1242.8,964.2 1244.8,962.4 1246.8,964.1 1248.8,964.7 1250.8,962.6 1252.8,963.7 1254.8,963.9 1256.8,963.3 1258.8,962.5 1260.8,962.7 1262.8,964.2 1264.8,964.3 1266.8,963.3 1268.8,962.2 1270.8,964.4 1272.8,964.3 1274.8,962.7 1276.8,963.7 1278.8,964.7 1280.8,964.6 1282.8,963.6 1284.8,963.4 1286.8,963.8 1288.8,962.6 1290.8,962.6 1292.8,962.6 1294.8,964.1 1296.8,963.1 1298.8,963.7 1300.8,963.3 1302.8,963.6 1304.8,962.5 1306.8,962.2 1308.8,965.1 1310.8,963.2 1312.8,962.4 1314.8,964 1316.8,964.5 1318.8,962.6 1320.8,963.9 1322.8,963.2 1324.8,963.7 1326.8,962.2 1328.8,962.3 1330.8,965.2 1332.8,964.8 1334.8,963.7 1336.8,963.9 1338.8,963 1340.8,964.6 1342.8,963.5 1344.8,965.1 1346.8,964.6 1348.8,964.7 1350.8,965.2 1352.8,963 1354.8,962.4 1356.8,962.9 1358.8,962.8 1360.8,962.6 1362.8,962.5 1364.8,964 1366.8,965 1368.8,963.7 1370.8,965.2 1372.8,965.1 1374.8,962.6 1376.8,964.2 1378.8,963.6 1380.8,962.8 1382.8,965.3 1384.8,963.2 1386.8,964.1 1388.8,964.4 1390.8,965.3 1392.8,964.5 1394.8,963.7 1396.8,963.8 1398.8,963 1400.8,965.4 1402.8,965.5 1404.8,963.2 1406.8,962.7 1408.8,963.3 1410.8,963.6 1412.8,965.2 1414.8,965.2 1416.8,965 1418.8,962.6 1420.8,964.8 1422.8,964.5 1424.8,964.2 1426.8,965.1 1428.8,962.2 1430.8,962.3 1432.8,963.9 1434.8,964.2 1436.8,963.1 1438.8,961.6 1440.8,962.1 1442.8,962.1 1444.8,959.6 1446.8,959.6 1448.8,958.6 1450.8,957.3 1452.8,957.4 1454.8,955.4 1456.8,954.3 1458.8,952.6 1460.8,952.7 1462.8,948.9 1464.8,949.1 1466.8,945.5 1468.8,942.8 1470.8,943 1472.8,938.3 1474.8,937.7 1476.8,934.5 1478.8,931.5 1480.8,926 1482.8,923.6 1484.8,919.1 1486.8,918.1 1488.8,914.2 1490.8,910 1492.8,905.9 1494.8,902 1496.8,900 1498.8,895.6 1500.8,892.9 1502.8,888.4 1504.8,885.8 1506.8,882.8 1508.8,882.5 1510.8,880.2 1512.8,877.4 1514.8,878.3 1516.8,875.7 1518.8,875.7 1520.8,874.9 1522.8,875.7 1524.8,878.2 1526.8,877.9 1528.8,879 1530.8,881.9 1532.8,883.7 1534.8,888.1 1536.8,888.7 1538.8,894.4 1540.8,895.1 1542.8,901.2 1544.8,904.3 1546.8,906.8 1548.8,911.5 1550.8,914.9 1552.8,918.8 1554.8,922.6 1556.8,927 1558.8,932.7 1560.8,936.5 1562.8,939.8 1564.8,940.8 1566.8,944.7 1568.8,949.6 1570.8,950 1572.8,954.7 1574.8,956 1576.8,960.4 1578.8,959.7 1580.8,964.1 1582.8,964.5 1584.8,965.6 1586.8,966.7 1588.8,970.5 1590.8,970.8 1592.8,970.8 1594.8,972.5 1596.8,974.8 1598.8,973.4 1600.8,975.2 1602.8,974.4 1604.8,975 1606.8,977.2 1608.8,977.4 1610.8,976.2 1612.8,976.1 1614.8,976.4 1616.8,978.1 1618.8,977.9 1620.8,977.4 1622.8,977.3 1624.8,978.7 1626.8,979 1628.8,979.4 1630.8,978.8 1632.8,977.7 1634.8,977.4 1636.8,979.4 1638.8,978.5 1640.8,979.4 1642.8,977.5 1644.8,979.8 1646.8,978.4 1648.8,979.9 1650.8,980 1652.8,978.9 1654.8,977.5 1656.8,980.2 1658.8,978.9 1660.8,980.1 1662.8,978.3 1664.8,978.1 1666.8,980 1668.8,978.6 1670.8,978 1672.8,978.7 1674.8,979.3 1676.8,977.6 1678.8,979.1 1680.8,978.9 1682.8,979.1 1684.8,978 1686.8,979.7 1688.8,980.1 1690.8,980.2 1692.8,978.6 1694.8,979.8 1696.8,978.8 1698.8,979.9 1700.8,977.8 1702.8,980.3 1704.8,980.5 1706.8,979.2 1708.8,979.2 1710.8,979.3 1712.8,979.3 1714.8,977.8 1716.8,980.6 1718.8,978.4 1720.8,978.3 1722.8,978.1 1724.8,978.5 1726.8,980.2 1728.8,977.9 1730.8,978.1 1732.8,979.9 1734.8,978.4 1736.8,977.9 1738.8,979.6 1740.8,979.6 1742.8,979.4 1744.8,979.9 1746.8,978.2 1748.8,980.5 1750.8,980 1752.8,978 1754.8,978.2 1756.8,979.4 1758.8,979.4 1760.8,978.7 1762.8,978.3 1764.8,979.1 1766.8,978.3 1768.8,979.7 1770.8,980.5 1772.8,978.4 1774.8,979.7 1776.8,980.2 1778.8,978.5 1780.8,980.5 1782.8,980.8" fill="none" stroke="#000" stroke-width="1.2" stroke-linejoin="round" stroke-linecap="round" />
<path d="M1059.8,967.6a6,6 0 1,0 12,0a6,6 0 1,0 -12,0M1069.3,969.9a6,6 0 1,0 12,0a6,6 0 1,0 -12,0M1079.5,967.7a6,6 0 1,0 12,0a6,6 0 1,0 -12,0M1092.1,969.6a6,6 0 1,0 12,0a6,6 0 1,0 -12,0M1101.2,967a6,6 0 1,0 12,0a6,6 0 1,0 -12,0M1110.2,968a6,6 0 1,0 12,0a6,6 0 1,0 -12,0M1123.1,969.9a6,6 0 1,0 12,0a6,6 0 1,0 -12,0M1135.5,970a6,6 0 1,0 12,0a6,6 0 1,0 -12,0M1147.6,966.2a6,6 0 1,0 12,0a6,6 0 1,0 -12,0M1157.7,970.8a6,6 0 1,0 12,0a6,6 0 1,0 -12,0M1170.3,967.3a6,6 0 1,0 12,0a6,6 0 1,0 -12,0M1179.9,969.3a6,6 0 1,0 12,0a6,6 0 1,0 -12,0M1189,968.8a6,6 0 1,0 12,0a6,6 0 1,0 -12,0M1196.5,968.3a6,6 0 1,0 12,0a6,6 0 1,0 -12,0M1206.5,966.3a6,6 0 1,0 12,0a6,6 0 1,0 -12,0M1214.3,971.1a6,6 0 1,0 12,0a6,6 0 1,0 -12,0M1226,971a6,6 0 1,0 12,0a6,6 0 1,0 -12,0M1236.8,970.4a6,6 0 1,0 12,0a6,6 0 1,0 -12,0M1249.1,970.8a6,6 0 1,0 12,0a6,6 0 1,0 -12,0M1256.3,969.6a6,6 0 1,0 12,0a6,6 0 1,0 -12,0M1264.9,969.8a6,6 0 1,0 12,0a6,6 0 1,0 -12,0M1273.5,969.2a6,6 0 1,0 12,0a6,6 0 1,0 -12,0M1286.1,969.6a6,6 0 1,0 12,0a6,6 0 1,0 -12,0M1294.6,969.2a6,6 0 1,0 12,0a6,6 0 1,0 -12,0M1304.2,971.4a6,6 0 1,0 12,0a6,6 0 1,0 -12,0M1312.9,968.2a6,6 0 1,0 12,0a6,6 0 1,0 -12,0M1323.8,967.3a6,6 0 1,0 12,0a6,6 0 1,0 -12,0M1334.4,971.5a6,6 0 1,0 12,0a6,6 0 1,0 -12,0M1344.4,968.1a6,6 0 1,0 12,0a6,6 0 1,0 -12,0M1354.2,969.5a6,6 0 1,0 12,0a6,6 0 1,0 -12,0M1362.1,967.5a6,6 0 1,0 12,0a6,6 0 1,0 -12,0M1369.9,968.4a6,6 0 1,0 12,0a6,6 0 1,0 -12,0M1379.4,968.4a6,6 0 1,0 12,0a6,6 0 1,0 -12,0M1387.8,967.4a6,6 0 1,0 12,0a6,6 0 1,0 -12,0M1398.1,971.2a6,6 0 1,0 12,0a6,6 0 1,0 -12,0M1408.8,969.9a6,6 0 1,0 12,0a6,6 0 1,0 -12,0M1419.7,967.7a6,6 0 1,0 12,0a6,6 0 1,0 -12,0M1430.9,967.9a6,6 0 1,0 12,0a6,6 0 1,0 -12,0M1441.2,966a6,6 0 1,0 12,0a6,6 0 1,0 -12,0M1589.7,976.9a6,6 0 1,0 12,0a6,6 0 1,0 -12,0M1598.7,980.7a6,6 0 1,0 12,0a6,6 0 1,0 -12,0M1609.8,983.8a6,6 0 1,0 12,0a6,6 0 1,0 -12,0M1621.9,985.6a6,6 0 1,0 12,0a6,6 0 1,0 -12,0M1632,985.4a6,6 0 1,0 12,0a6,6 0 1,0 -12,0M1643.4,985.7a6,6 0 1,0 12,0a6,6 0 1,0 -12,0M1653.3,985.9a6,6 0 1,0 12,0a6,6 0 1,0 -12,0M1664.5,986.6a6,6 0 1,0 12,0a6,6 0 1,0 -12,0M1672.3,986.4a6,6 0 1,0 12,0a6,6 0 1,0 -12,0M1679.3,985.9a6,6 0 1,0 12,0a6,6 0 1,0 -12,0M1689.8,984.6a6,6 0 1,0 12,0a6,6 0 1,0 -12,0M1702.6,985.1a6,6 0 1,0 12,0a6,6 0 1,0 -12,0M1712.1,986.2a6,6 0 1,0 12,0a6,6 0 1,0 -12,0M1724.4,985.3a6,6 0 1,0 12,0a6,6 0 1,0 -12,0M1733.6,984.6a6,6 0 1,0 12,0a6,6 0 1,0 -12,0M1743.4,986a6,6 0 1,0 12,0a6,6 0 1,0 -12,0M1752.1,984.3a6,6 0 1,0 12,0a6,6 0 1,0 -12,0M1762.5,984.4a6,6 0 1,0 12,0a6,6 0 1,0 -12,0M1771.4,986.4a6,6 0 1,0 12,0a6,6 0 1,0 -12,0" fill="none" stroke="#111" stroke-width="1.2"/>
<path d="M1423.3,969.4a5.5,5.5 0 1,0 11,0a5.5,5.5 0 1,0 -11,0M1427.3,969.2a5.5,5.5 0 1,0 11,0a5.5,5.5 0 1,0 -11,0M1431.3,969a5.5,5.5 0 1,0 11,0a5.5,5.5 0 1,0 -11,0M1435.3,968.6a5.5,5.5 0 1,0 11,0a5.5,5.5 0 1,0 -11,0M1439.3,968.1a5.5,5.5 0 1,0 11,0a5.5,5.5 0 1,0 -11,0M1443.3,967.3a5.5,5.5 0 1,0 11,0a5.5,5.5 0 1,0 -11,0M1447.3,966.3a5.5,5.5 0 1,0 11,0a5.5,5.5 0 1,0 -11,0M1451.3,964.8a5.5,5.5 0 1,0 11,0a5.5,5.5 0 1,0 -11,0M1455.3,963a5.5,5.5 0 1,0 11,0a5.5,5.5 0 1,0 -11,0M1459.3,960.6a5.5,5.5 0 1,0 11,0a5.5,5.5 0 1,0 -11,0M1463.3,957.6a5.5,5.5 0 1,0 11,0a5.5,5.5 0 1,0 -11,0M1467.3,954a5.5,5.5 0 1,0 11,0a5.5,5.5 0 1,0 -11,0M1471.3,949.7a5.5,5.5 0 1,0 11,0a5.5,5.5 0 1,0 -11,0M1475.3,944.6a5.5,5.5 0 1,0 11,0a5.5,5.5 0 1,0 -11,0M1479.3,938.9a5.5,5.5 0 1,0 11,0a5.5,5.5 0 1,0 -11,0M1483.3,932.6a5.5,5.5 0 1,0 11,0a5.5,5.5 0 1,0 -11,0M1487.3,925.8a5.5,5.5 0 1,0 11,0a5.5,5.5 0 1,0 -11,0M1491.3,918.7a5.5,5.5 0 1,0 11,0a5.5,5.5 0 1,0 -11,0M1495.3,911.5a5.5,5.5 0 1,0 11,0a5.5,5.5 0 1,0 -11,0M1499.3,904.5a5.5,5.5 0 1,0 11,0a5.5,5.5 0 1,0 -11,0M1503.3,898a5.5,5.5 0 1,0 11,0a5.5,5.5 0 1,0 -11,0M1507.3,892.2a5.5,5.5 0 1,0 11,0a5.5,5.5 0 1,0 -11,0M1511.3,887.4a5.5,5.5 0 1,0 11,0a5.5,5.5 0 1,0 -11,0M1515.3,883.9a5.5,5.5 0 1,0 11,0a5.5,5.5 0 1,0 -11,0M1519.3,881.9a5.5,5.5 0 1,0 11,0a5.5,5.5 0 1,0 -11,0M1523.3,881.5a5.5,5.5 0 1,0 11,0a5.5,5.5 0 1,0 -11,0M1527.3,882.7a5.5,5.5 0 1,0 11,0a5.5,5.5 0 1,0 -11,0M1531.3,885.5a5.5,5.5 0 1,0 11,0a5.5,5.5 0 1,0 -11,0M1535.3,889.8a5.5,5.5 0 1,0 11,0a5.5,5.5 0 1,0 -11,0M1539.3,895.3a5.5,5.5 0 1,0 11,0a5.5,5.5 0 1,0 -11,0M1543.3,901.9a5.5,5.5 0 1,0 11,0a5.5,5.5 0 1,0 -11,0M1547.3,909.3a5.5,5.5 0 1,0 11,0a5.5,5.5 0 1,0 -11,0M1551.3,917.1a5.5,5.5 0 1,0 11,0a5.5,5.5 0 1,0 -11,0M1555.3,925a5.5,5.5 0 1,0 11,0a5.5,5.5 0 1,0 -11,0M1559.3,932.9a5.5,5.5 0 1,0 11,0a5.5,5.5 0 1,0 -11,0M1563.3,940.5a5.5,5.5 0 1,0 11,0a5.5,5.5 0 1,0 -11,0M1567.3,947.5a5.5,5.5 0 1,0 11,0a5.5,5.5 0 1,0 -11,0M1571.3,953.9a5.5,5.5 0 1,0 11,0a5.5,5.5 0 1,0 -11,0M1575.3,959.6a5.5,5.5 0 1,0 11,0a5.5,5.5 0 1,0 -11,0M1579.3,964.5a5.5,5.5 0 1,0 11,0a5.5,5.5 0 1,0 -11,0M1583.3,968.7a5.5,5.5 0 1,0 11,0a5.5,5.5 0 1,0 -11,0M1587.3,972.2a5.5,5.5 0 1,0 11,0a5.5,5.5 0 1,0 -11,0M1591.3,975a5.5,5.5 0 1,0 11,0a5.5,5.5 0 1,0 -11,0M1595.3,977.3a5.5,5.5 0 1,0 11,0a5.5,5.5 0 1,0 -11,0M1599.3,979.1a5.5,5.5 0 1,0 11,0a5.5,5.5 0 1,0 -11,0M1603.3,980.4a5.5,5.5 0 1,0 11,0a5.5,5.5 0 1,0 -11,0M1607.3,981.5a5.5,5.5 0 1,0 11,0a5.5,5.5 0 1,0 -11,0" fill="none" stroke="#3030ff" stroke-width="1.6"/>
<path d="M1058.5,962.6a6.3,6.3 0 1,0 12.6,0a6.3,6.3 0 1,0 -12.6,0M1062.5,962.6a6.3,6.3 0 1,0 12.6,0a6.3,6.3 0 1,0 -12.6,0M1066.5,962.7a6.3,6.3 0 1,0 12.6,0a6.3,6.3 0 1,0 -12.6,0M1070.5,962.7a6.3,6.3 0 1,0 12.6,0a6.3,6.3 0 1,0 -12.6,0M1074.5,962.7a6.3,6.3 0 1,0 12.6,0a6.3,6.3 0 1,0 -12.6,0M1078.5,962.7a6.3,6.3 0 1,0 12.6,0a6.3,6.3 0 1,0 -12.6,0M1082.5,962.7a6.3,6.3 0 1,0 12.6,0a6.3,6.3 0 1,0 -12.6,0M1086.5,962.7a6.3,6.3 0 1,0 12.6,0a6.3,6.3 0 1,0 -12.6,0M1090.5,962.7a6.3,6.3 0 1,0 12.6,0a6.3,6.3 0 1,0 -12.6,0M1094.5,962.8a6.3,6.3 0 1,0 12.6,0a6.3,6.3 0 1,0 -12.6,0M1098.5,962.8a6.3,6.3 0 1,0 12.6,0a6.3,6.3 0 1,0 -12.6,0M1102.5,962.8a6.3,6.3 0 1,0 12.6,0a6.3,6.3 0 1,0 -12.6,0M1106.5,962.8a6.3,6.3 0 1,0 12.6,0a6.3,6.3 0 1,0 -12.6,0M1110.5,962.8a6.3,6.3 0 1,0 12.6,0a6.3,6.3 0 1,0 -12.6,0M1114.5,962.8a6.3,6.3 0 1,0 12.6,0a6.3,6.3 0 1,0 -12.6,0M1118.5,962.9a6.3,6.3 0 1,0 12.6,0a6.3,6.3 0 1,0 -12.6,0M1122.5,962.9a6.3,6.3 0 1,0 12.6,0a6.3,6.3 0 1,0 -12.6,0M1126.5,962.9a6.3,6.3 0 1,0 12.6,0a6.3,6.3 0 1,0 -12.6,0M1130.5,962.9a6.3,6.3 0 1,0 12.6,0a6.3,6.3 0 1,0 -12.6,0M1134.5,962.9a6.3,6.3 0 1,0 12.6,0a6.3,6.3 0 1,0 -12.6,0M1138.5,962.9a6.3,6.3 0 1,0 12.6,0a6.3,6.3 0 1,0 -12.6,0M1142.5,963a6.3,6.3 0 1,0 12.6,0a6.3,6.3 0 1,0 -12.6,0M1146.5,963a6.3,6.3 0 1,0 12.6,0a6.3,6.3 0 1,0 -12.6,0M1150.5,963a6.3,6.3 0 1,0 12.6,0a6.3,6.3 0 1,0 -12.6,0M1154.5,963a6.3,6.3 0 1,0 12.6,0a6.3,6.3 0 1,0 -12.6,0M1158.5,963a6.3,6.3 0 1,0 12.6,0a6.3,6.3 0 1,0 -12.6,0M1162.5,963a6.3,6.3 0 1,0 12.6,0a6.3,6.3 0 1,0 -12.6,0M1166.5,963.1a6.3,6.3 0 1,0 12.6,0a6.3,6.3 0 1,0 -12.6,0M1170.5,963.1a6.3,6.3 0 1,0 12.6,0a6.3,6.3 0 1,0 -12.6,0M1174.5,963.1a6.3,6.3 0 1,0 12.6,0a6.3,6.3 0 1,0 -12.6,0M1178.5,963.1a6.3,6.3 0 1,0 12.6,0a6.3,6.3 0 1,0 -12.6,0M1182.5,963.1a6.3,6.3 0 1,0 12.6,0a6.3,6.3 0 1,0 -12.6,0M1186.5,963.1a6.3,6.3 0 1,0 12.6,0a6.3,6.3 0 1,0 -12.6,0M1190.5,963.1a6.3,6.3 0 1,0 12.6,0a6.3,6.3 0 1,0 -12.6,0M1194.5,963.2a6.3,6.3 0 1,0 12.6,0a6.3,6.3 0 1,0 -12.6,0M1198.5,963.2a6.3,6.3 0 1,0 12.6,0a6.3,6.3 0 1,0 -12.6,0M1202.5,963.2a6.3,6.3 0 1,0 12.6,0a6.3,6.3 0 1,0 -12.6,0M1206.5,963.2a6.3,6.3 0 1,0 12.6,0a6.3,6.3 0 1,0 -12.6,0M1210.5,963.2a6.3,6.3 0 1,0 12.6,0a6.3,6.3 0 1,0 -12.6,0M1214.5,963.2a6.3,6.3 0 1,0 12.6,0a6.3,6.3 0 1,0 -12.6,0M1218.5,963.3a6.3,6.3 0 1,0 12.6,0a6.3,6.3 0 1,0 -12.6,0M1222.5,963.3a6.3,6.3 0 1,0 12.6,0a6.3,6.3 0 1,0 -12.6,0M1226.5,963.3a6.3,6.3 0 1,0 12.6,0a6.3,6.3 0 1,0 -12.6,0M1230.5,963.3a6.3,6.3 0 1,0 12.6,0a6.3,6.3 0 1,0 -12.6,0M1234.5,963.3a6.3,6.3 0 1,0 12.6,0a6.3,6.3 0 1,0 -12.6,0M1238.5,963.3a6.3,6.3 0 1,0 12.6,0a6.3,6.3 0 1,0 -12.6,0M1242.5,963.4a6.3,6.3 0 1,0 12.6,0a6.3,6.3 0 1,0 -12.6,0M1246.5,963.4a6.3,6.3 0 1,0 12.6,0a6.3,6.3 0 1,0 -12.6,0M1250.5,963.4a6.3,6.3 0 1,0 12.6,0a6.3,6.3 0 1,0 -12.6,0M1254.5,963.4a6.3,6.3 0 1,0 12.6,0a6.3,6.3 0 1,0 -12.6,0M1258.5,963.4a6.3,6.3 0 1,0 12.6,0a6.3,6.3 0 1,0 -12.6,0M1262.5,963.4a6.3,6.3 0 1,0 12.6,0a6.3,6.3 0 1,0 -12.6,0M1266.5,963.5a6.3,6.3 0 1,0 12.6,0a6.3,6.3 0 1,0 -12.6,0M1270.5,963.5a6.3,6.3 0 1,0 12.6,0a6.3,6.3 0 1,0 -12.6,0M1274.5,963.5a6.3,6.3 0 1,0 12.6,0a6.3,6.3 0 1,0 -12.6,0M1278.5,963.5a6.3,6.3 0 1,0 12.6,0a6.3,6.3 0 1,0 -12.6,0M1282.5,963.5a6.3,6.3 0 1,0 12.6,0a6.3,6.3 0 1,0 -12.6,0M1286.5,963.5a6.3,6.3 0 1,0 12.6,0a6.3,6.3 0 1,0 -12.6,0M1290.5,963.5a6.3,6.3 0 1,0 12.6,0a6.3,6.3 0 1,0 -12.6,0M1294.5,963.6a6.3,6.3 0 1,0 12.6,0a6.3,6.3 0 1,0 -12.6,0M1298.5,963.6a6.3,6.3 0 1,0 12.6,0a6.3,6.3 0 1,0 -12.6,0M1302.5,963.6a6.3,6.3 0 1,0 12.6,0a6.3,6.3 0 1,0 -12.6,0M1306.5,963.6a6.3,6.3 0 1,0 12.6,0a6.3,6.3 0 1,0 -12.6,0M1310.5,963.6a6.3,6.3 0 1,0 12.6,0a6.3,6.3 0 1,0 -12.6,0M1314.5,963.6a6.3,6.3 0 1,0 12.6,0a6.3,6.3 0 1,0 -12.6,0M1318.5,963.7a6.3,6.3 0 1,0 12.6,0a6.3,6.3 0 1,0 -12.6,0M1322.5,963.7a6.3,6.3 0 1,0 12.6,0a6.3,6.3 0 1,0 -12.6,0M1326.5,963.7a6.3,6.3 0 1,0 12.6,0a6.3,6.3 0 1,0 -12.6,0M1330.5,963.7a6.3,6.3 0 1,0 12.6,0a6.3,6.3 0 1,0 -12.6,0M1334.5,963.7a6.3,6.3 0 1,0 12.6,0a6.3,6.3 0 1,0 -12.6,0M1338.5,963.7a6.3,6.3 0 1,0 12.6,0a6.3,6.3 0 1,0 -12.6,0M1342.5,963.8a6.3,6.3 0 1,0 12.6,0a6.3,6.3 0 1,0 -12.6,0M1346.5,963.8a6.3,6.3 0 1,0 12.6,0a6.3,6.3 0 1,0 -12.6,0M1350.5,963.8a6.3,6.3 0 1,0 12.6,0a6.3,6.3 0 1,0 -12.6,0M1354.5,963.8a6.3,6.3 0 1,0 12.6,0a6.3,6.3 0 1,0 -12.6,0M1358.5,963.8a6.3,6.3 0 1,0 12.6,0a6.3,6.3 0 1,0 -12.6,0M1362.5,963.8a6.3,6.3 0 1,0 12.6,0a6.3,6.3 0 1,0 -12.6,0M1366.5,963.9a6.3,6.3 0 1,0 12.6,0a6.3,6.3 0 1,0 -12.6,0M1370.5,963.9a6.3,6.3 0 1,0 12.6,0a6.3,6.3 0 1,0 -12.6,0M1374.5,963.9a6.3,6.3 0 1,0 12.6,0a6.3,6.3 0 1,0 -12.6,0M1378.5,963.9a6.3,6.3 0 1,0 12.6,0a6.3,6.3 0 1,0 -12.6,0M1382.5,964a6.3,6.3 0 1,0 12.6,0a6.3,6.3 0 1,0 -12.6,0M1386.5,964a6.3,6.3 0 1,0 12.6,0a6.3,6.3 0 1,0 -12.6,0M1390.5,964a6.3,6.3 0 1,0 12.6,0a6.3,6.3 0 1,0 -12.6,0M1394.5,964a6.3,6.3 0 1,0 12.6,0a6.3,6.3 0 1,0 -12.6,0M1398.5,964a6.3,6.3 0 1,0 12.6,0a6.3,6.3 0 1,0 -12.6,0M1402.5,964a6.3,6.3 0 1,0 12.6,0a6.3,6.3 0 1,0 -12.6,0M1406.5,964a6.3,6.3 0 1,0 12.6,0a6.3,6.3 0 1,0 -12.6,0M1410.5,964a6.3,6.3 0 1,0 12.6,0a6.3,6.3 0 1,0 -12.6,0M1414.5,963.9a6.3,6.3 0 1,0 12.6,0a6.3,6.3 0 1,0 -12.6,0M1418.5,963.7a6.3,6.3 0 1,0 12.6,0a6.3,6.3 0 1,0 -12.6,0M1422.5,963.5a6.3,6.3 0 1,0 12.6,0a6.3,6.3 0 1,0 -12.6,0M1426.5,963.1a6.3,6.3 0 1,0 12.6,0a6.3,6.3 0 1,0 -12.6,0M1430.5,962.6a6.3,6.3 0 1,0 12.6,0a6.3,6.3 0 1,0 -12.6,0M1434.5,961.8a6.3,6.3 0 1,0 12.6,0a6.3,6.3 0 1,0 -12.6,0M1438.5,960.8a6.3,6.3 0 1,0 12.6,0a6.3,6.3 0 1,0 -12.6,0M1442.5,959.3a6.3,6.3 0 1,0 12.6,0a6.3,6.3 0 1,0 -12.6,0M1446.5,957.5a6.3,6.3 0 1,0 12.6,0a6.3,6.3 0 1,0 -12.6,0M1450.5,955.1a6.3,6.3 0 1,0 12.6,0a6.3,6.3 0 1,0 -12.6,0M1454.5,952.1a6.3,6.3 0 1,0 12.6,0a6.3,6.3 0 1,0 -12.6,0M1458.5,948.5a6.3,6.3 0 1,0 12.6,0a6.3,6.3 0 1,0 -12.6,0M1462.5,944.2a6.3,6.3 0 1,0 12.6,0a6.3,6.3 0 1,0 -12.6,0M1466.5,939.1a6.3,6.3 0 1,0 12.6,0a6.3,6.3 0 1,0 -12.6,0M1470.5,933.4a6.3,6.3 0 1,0 12.6,0a6.3,6.3 0 1,0 -12.6,0M1474.5,927.1a6.3,6.3 0 1,0 12.6,0a6.3,6.3 0 1,0 -12.6,0M1478.5,920.3a6.3,6.3 0 1,0 12.6,0a6.3,6.3 0 1,0 -12.6,0M1482.5,913.2a6.3,6.3 0 1,0 12.6,0a6.3,6.3 0 1,0 -12.6,0M1486.5,906a6.3,6.3 0 1,0 12.6,0a6.3,6.3 0 1,0 -12.6,0M1490.5,899a6.3,6.3 0 1,0 12.6,0a6.3,6.3 0 1,0 -12.6,0M1494.5,892.5a6.3,6.3 0 1,0 12.6,0a6.3,6.3 0 1,0 -12.6,0M1498.5,886.7a6.3,6.3 0 1,0 12.6,0a6.3,6.3 0 1,0 -12.6,0M1502.5,881.9a6.3,6.3 0 1,0 12.6,0a6.3,6.3 0 1,0 -12.6,0M1506.5,878.4a6.3,6.3 0 1,0 12.6,0a6.3,6.3 0 1,0 -12.6,0M1510.5,876.4a6.3,6.3 0 1,0 12.6,0a6.3,6.3 0 1,0 -12.6,0M1514.5,876a6.3,6.3 0 1,0 12.6,0a6.3,6.3 0 1,0 -12.6,0M1518.5,877.2a6.3,6.3 0 1,0 12.6,0a6.3,6.3 0 1,0 -12.6,0M1522.5,880a6.3,6.3 0 1,0 12.6,0a6.3,6.3 0 1,0 -12.6,0M1526.5,884.3a6.3,6.3 0 1,0 12.6,0a6.3,6.3 0 1,0 -12.6,0M1530.5,889.8a6.3,6.3 0 1,0 12.6,0a6.3,6.3 0 1,0 -12.6,0M1534.5,896.4a6.3,6.3 0 1,0 12.6,0a6.3,6.3 0 1,0 -12.6,0M1538.5,903.8a6.3,6.3 0 1,0 12.6,0a6.3,6.3 0 1,0 -12.6,0M1542.5,911.6a6.3,6.3 0 1,0 12.6,0a6.3,6.3 0 1,0 -12.6,0M1546.5,919.5a6.3,6.3 0 1,0 12.6,0a6.3,6.3 0 1,0 -12.6,0M1550.5,927.4a6.3,6.3 0 1,0 12.6,0a6.3,6.3 0 1,0 -12.6,0M1554.5,935a6.3,6.3 0 1,0 12.6,0a6.3,6.3 0 1,0 -12.6,0M1558.5,942a6.3,6.3 0 1,0 12.6,0a6.3,6.3 0 1,0 -12.6,0M1562.5,948.4a6.3,6.3 0 1,0 12.6,0a6.3,6.3 0 1,0 -12.6,0M1566.5,954.1a6.3,6.3 0 1,0 12.6,0a6.3,6.3 0 1,0 -12.6,0M1570.5,959a6.3,6.3 0 1,0 12.6,0a6.3,6.3 0 1,0 -12.6,0M1574.5,963.2a6.3,6.3 0 1,0 12.6,0a6.3,6.3 0 1,0 -12.6,0M1578.5,966.7a6.3,6.3 0 1,0 12.6,0a6.3,6.3 0 1,0 -12.6,0M1582.5,969.5a6.3,6.3 0 1,0 12.6,0a6.3,6.3 0 1,0 -12.6,0M1586.5,971.8a6.3,6.3 0 1,0 12.6,0a6.3,6.3 0 1,0 -12.6,0M1590.5,973.6a6.3,6.3 0 1,0 12.6,0a6.3,6.3 0 1,0 -12.6,0M1594.5,974.9a6.3,6.3 0 1,0 12.6,0a6.3,6.3 0 1,0 -12.6,0M1598.5,976a6.3,6.3 0 1,0 12.6,0a6.3,6.3 0 1,0 -12.6,0M1602.5,976.8a6.3,6.3 0 1,0 12.6,0a6.3,6.3 0 1,0 -12.6,0M1606.5,977.4a6.3,6.3 0 1,0 12.6,0a6.3,6.3 0 1,0 -12.6,0M1610.5,977.8a6.3,6.3 0 1,0 12.6,0a6.3,6.3 0 1,0 -12.6,0M1614.5,978.1a6.3,6.3 0 1,0 12.6,0a6.3,6.3 0 1,0 -12.6,0M1618.5,978.3a6.3,6.3 0 1,0 12.6,0a6.3,6.3 0 1,0 -12.6,0M1622.5,978.5a6.3,6.3 0 1,0 12.6,0a6.3,6.3 0 1,0 -12.6,0M1626.5,978.6a6.3,6.3 0 1,0 12.6,0a6.3,6.3 0 1,0 -12.6,0M1630.5,978.7a6.3,6.3 0 1,0 12.6,0a6.3,6.3 0 1,0 -12.6,0M1634.5,978.8a6.3,6.3 0 1,0 12.6,0a6.3,6.3 0 1,0 -12.6,0M1638.5,978.8a6.3,6.3 0 1,0 12.6,0a6.3,6.3 0 1,0 -12.6,0M1642.5,978.9a6.3,6.3 0 1,0 12.6,0a6.3,6.3 0 1,0 -12.6,0M1646.5,978.9a6.3,6.3 0 1,0 12.6,0a6.3,6.3 0 1,0 -12.6,0M1650.5,978.9a6.3,6.3 0 1,0 12.6,0a6.3,6.3 0 1,0 -12.6,0M1654.5,979a6.3,6.3 0 1,0 12.6,0a6.3,6.3 0 1,0 -12.6,0M1658.5,979a6.3,6.3 0 1,0 12.6,0a6.3,6.3 0 1,0 -12.6,0M1662.5,979a6.3,6.3 0 1,0 12.6,0a6.3,6.3 0 1,0 -12.6,0M1666.5,979a6.3,6.3 0 1,0 12.6,0a6.3,6.3 0 1,0 -12.6,0M1670.5,979.1a6.3,6.3 0 1,0 12.6,0a6.3,6.3 0 1,0 -12.6,0M1674.5,979.1a6.3,6.3 0 1,0 12.6,0a6.3,6.3 0 1,0 -12.6,0M1678.5,979.1a6.3,6.3 0 1,0 12.6,0a6.3,6.3 0 1,0 -12.6,0M1682.5,979.1a6.3,6.3 0 1,0 12.6,0a6.3,6.3 0 1,0 -12.6,0M1686.5,979.1a6.3,6.3 0 1,0 12.6,0a6.3,6.3 0 1,0 -12.6,0M1690.5,979.1a6.3,6.3 0 1,0 12.6,0a6.3,6.3 0 1,0 -12.6,0M1694.5,979.2a6.3,6.3 0 1,0 12.6,0a6.3,6.3 0 1,0 -12.6,0M1698.5,979.2a6.3,6.3 0 1,0 12.6,0a6.3,6.3 0 1,0 -12.6,0M1702.5,979.2a6.3,6.3 0 1,0 12.6,0a6.3,6.3 0 1,0 -12.6,0M1706.5,979.2a6.3,6.3 0 1,0 12.6,0a6.3,6.3 0 1,0 -12.6,0M1710.5,979.2a6.3,6.3 0 1,0 12.6,0a6.3,6.3 0 1,0 -12.6,0M1714.5,979.2a6.3,6.3 0 1,0 12.6,0a6.3,6.3 0 1,0 -12.6,0M1718.5,979.3a6.3,6.3 0 1,0 12.6,0a6.3,6.3 0 1,0 -12.6,0M1722.5,979.3a6.3,6.3 0 1,0 12.6,0a6.3,6.3 0 1,0 -12.6,0M1726.5,979.3a6.3,6.3 0 1,0 12.6,0a6.3,6.3 0 1,0 -12.6,0M1730.5,979.3a6.3,6.3 0 1,0 12.6,0a6.3,6.3 0 1,0 -12.6,0M1734.5,979.3a6.3,6.3 0 1,0 12.6,0a6.3,6.3 0 1,0 -12.6,0M1738.5,979.3a6.3,6.3 0 1,0 12.6,0a6.3,6.3 0 1,0 -12.6,0M1742.5,979.4a6.3,6.3 0 1,0 12.6,0a6.3,6.3 0 1,0 -12.6,0M1746.5,979.4a6.3,6.3 0 1,0 12.6,0a6.3,6.3 0 1,0 -12.6,0M1750.5,979.4a6.3,6.3 0 1,0 12.6,0a6.3,6.3 0 1,0 -12.6,0M1754.5,979.4a6.3,6.3 0 1,0 12.6,0a6.3,6.3 0 1,0 -12.6,0M1758.5,979.4a6.3,6.3 0 1,0 12.6,0a6.3,6.3 0 1,0 -12.6,0M1762.5,979.4a6.3,6.3 0 1,0 12.6,0a6.3,6.3 0 1,0 -12.6,0M1766.5,979.5a6.3,6.3 0 1,0 12.6,0a6.3,6.3 0 1,0 -12.6,0M1770.5,979.5a6.3,6.3 0 1,0 12.6,0a6.3,6.3 0 1,0 -12.6,0M1774.5,979.5a6.3,6.3 0 1,0 12.6,0a6.3,6.3 0 1,0 -12.6,0" fill="none" stroke="#2020ff" stroke-width="1.9"/>
<polyline points="1064.8,962.6 1066.8,962.6 1068.8,962.6 1070.8,962.6 1072.8,962.7 1074.8,962.7 1076.8,962.7 1078.8,962.7 1080.8,962.7 1082.8,962.7 1084.8,962.7 1086.8,962.7 1088.8,962.7 1090.8,962.7 1092.8,962.7 1094.8,962.7 1096.8,962.7 1098.8,962.8 1100.8,962.8 1102.8,962.8 1104.8,962.8 1106.8,962.8 1108.8,962.8 1110.8,962.8 1112.8,962.8 1114.8,962.8 1116.8,962.8 1118.8,962.8 1120.8,962.8 1122.8,962.9 1124.8,962.9 1126.8,962.9 1128.8,962.9 1130.8,962.9 1132.8,962.9 1134.8,962.9 1136.8,962.9 1138.8,962.9 1140.8,962.9 1142.8,962.9 1144.8,962.9 1146.8,962.9 1148.8,963 1150.8,963 1152.8,963 1154.8,963 1156.8,963 1158.8,963 1160.8,963 1162.8,963 1164.8,963 1166.8,963 1168.8,963 1170.8,963 1172.8,963.1 1174.8,963.1 1176.8,963.1 1178.8,963.1 1180.8,963.1 1182.8,963.1 1184.8,963.1 1186.8,963.1 1188.8,963.1 1190.8,963.1 1192.8,963.1 1194.8,963.1 1196.8,963.1 1198.8,963.2 1200.8,963.2 1202.8,963.2 1204.8,963.2 1206.8,963.2 1208.8,963.2 1210.8,963.2 1212.8,963.2 1214.8,963.2 1216.8,963.2 1218.8,963.2 1220.8,963.2 1222.8,963.3 1224.8,963.3 1226.8,963.3 1228.8,963.3 1230.8,963.3 1232.8,963.3 1234.8,963.3 1236.8,963.3 1238.8,963.3 1240.8,963.3 1242.8,963.3 1244.8,963.3 1246.8,963.3 1248.8,963.4 1250.8,963.4 1252.8,963.4 1254.8,963.4 1256.8,963.4 1258.8,963.4 1260.8,963.4 1262.8,963.4 1264.8,963.4 1266.8,963.4 1268.8,963.4 1270.8,963.4 1272.8,963.5 1274.8,963.5 1276.8,963.5 1278.8,963.5 1280.8,963.5 1282.8,963.5 1284.8,963.5 1286.8,963.5 1288.8,963.5 1290.8,963.5 1292.8,963.5 1294.8,963.5 1296.8,963.5 1298.8,963.6 1300.8,963.6 1302.8,963.6 1304.8,963.6 1306.8,963.6 1308.8,963.6 1310.8,963.6 1312.8,963.6 1314.8,963.6 1316.8,963.6 1318.8,963.6 1320.8,963.6 1322.8,963.7 1324.8,963.7 1326.8,963.7 1328.8,963.7 1330.8,963.7 1332.8,963.7 1334.8,963.7 1336.8,963.7 1338.8,963.7 1340.8,963.7 1342.8,963.7 1344.8,963.7 1346.8,963.8 1348.8,963.8 1350.8,963.8 1352.8,963.8 1354.8,963.8 1356.8,963.8 1358.8,963.8 1360.8,963.8 1362.8,963.8 1364.8,963.8 1366.8,963.8 1368.8,963.8 1370.8,963.9 1372.8,963.9 1374.8,963.9 1376.8,963.9 1378.8,963.9 1380.8,963.9 1382.8,963.9 1384.8,963.9 1386.8,963.9 1388.8,964 1390.8,964 1392.8,964 1394.8,964 1396.8,964 1398.8,964 1400.8,964 1402.8,964 1404.8,964 1406.8,964 1408.8,964 1410.8,964 1412.8,964 1414.8,964 1416.8,964 1418.8,963.9 1420.8,963.9 1422.8,963.8 1424.8,963.7 1426.8,963.6 1428.8,963.5 1430.8,963.3 1432.8,963.1 1434.8,962.9 1436.8,962.6 1438.8,962.2 1440.8,961.8 1442.8,961.3 1444.8,960.8 1446.8,960.1 1448.8,959.3 1450.8,958.5 1452.8,957.5 1454.8,956.4 1456.8,955.1 1458.8,953.7 1460.8,952.1 1462.8,950.4 1464.8,948.5 1466.8,946.4 1468.8,944.2 1470.8,941.7 1472.8,939.1 1474.8,936.4 1476.8,933.4 1478.8,930.3 1480.8,927.1 1482.8,923.8 1484.8,920.3 1486.8,916.8 1488.8,913.2 1490.8,909.6 1492.8,906 1494.8,902.5 1496.8,899 1498.8,895.7 1500.8,892.5 1502.8,889.5 1504.8,886.7 1506.8,884.1 1508.8,881.9 1510.8,880 1512.8,878.4 1514.8,877.2 1516.8,876.4 1518.8,876 1520.8,876 1522.8,876.4 1524.8,877.2 1526.8,878.4 1528.8,880 1530.8,882 1532.8,884.3 1534.8,886.9 1536.8,889.8 1538.8,893 1540.8,896.4 1542.8,900 1544.8,903.8 1546.8,907.6 1548.8,911.6 1550.8,915.6 1552.8,919.5 1554.8,923.5 1556.8,927.4 1558.8,931.2 1560.8,935 1562.8,938.6 1564.8,942 1566.8,945.3 1568.8,948.4 1570.8,951.3 1572.8,954.1 1574.8,956.6 1576.8,959 1578.8,961.2 1580.8,963.2 1582.8,965 1584.8,966.7 1586.8,968.2 1588.8,969.5 1590.8,970.7 1592.8,971.8 1594.8,972.7 1596.8,973.6 1598.8,974.3 1600.8,974.9 1602.8,975.5 1604.8,976 1606.8,976.4 1608.8,976.8 1610.8,977.1 1612.8,977.4 1614.8,977.6 1616.8,977.8 1618.8,978 1620.8,978.1 1622.8,978.2 1624.8,978.3 1626.8,978.4 1628.8,978.5 1630.8,978.6 1632.8,978.6 1634.8,978.7 1636.8,978.7 1638.8,978.8 1640.8,978.8 1642.8,978.8 1644.8,978.8 1646.8,978.9 1648.8,978.9 1650.8,978.9 1652.8,978.9 1654.8,978.9 1656.8,978.9 1658.8,979 1660.8,979 1662.8,979 1664.8,979 1666.8,979 1668.8,979 1670.8,979 1672.8,979 1674.8,979 1676.8,979.1 1678.8,979.1 1680.8,979.1 1682.8,979.1 1684.8,979.1 1686.8,979.1 1688.8,979.1 1690.8,979.1 1692.8,979.1 1694.8,979.1 1696.8,979.1 1698.8,979.2 1700.8,979.2 1702.8,979.2 1704.8,979.2 1706.8,979.2 1708.8,979.2 1710.8,979.2 1712.8,979.2 1714.8,979.2 1716.8,979.2 1718.8,979.2 1720.8,979.2 1722.8,979.3 1724.8,979.3 1726.8,979.3 1728.8,979.3 1730.8,979.3 1732.8,979.3 1734.8,979.3 1736.8,979.3 1738.8,979.3 1740.8,979.3 1742.8,979.3 1744.8,979.3 1746.8,979.3 1748.8,979.4 1750.8,979.4 1752.8,979.4 1754.8,979.4 1756.8,979.4 1758.8,979.4 1760.8,979.4 1762.8,979.4 1764.8,979.4 1766.8,979.4 1768.8,979.4 1770.8,979.4 1772.8,979.5 1774.8,979.5 1776.8,979.5 1778.8,979.5 1780.8,979.5 1782.8,979.5" fill="none" stroke="#1010ff" stroke-width="3.5" stroke-linejoin="round" stroke-linecap="round" />
<path d="M1432.2,962.9a2.6,2.6 0 1,0 5.2,0a2.6,2.6 0 1,0 -5.2,0M1437.2,962a2.6,2.6 0 1,0 5.2,0a2.6,2.6 0 1,0 -5.2,0M1442.2,960.8a2.6,2.6 0 1,0 5.2,0a2.6,2.6 0 1,0 -5.2,0M1447.2,958.9a2.6,2.6 0 1,0 5.2,0a2.6,2.6 0 1,0 -5.2,0M1452.2,956.4a2.6,2.6 0 1,0 5.2,0a2.6,2.6 0 1,0 -5.2,0M1457.2,952.9a2.6,2.6 0 1,0 5.2,0a2.6,2.6 0 1,0 -5.2,0M1462.2,948.5a2.6,2.6 0 1,0 5.2,0a2.6,2.6 0 1,0 -5.2,0M1467.2,943a2.6,2.6 0 1,0 5.2,0a2.6,2.6 0 1,0 -5.2,0M1472.2,936.4a2.6,2.6 0 1,0 5.2,0a2.6,2.6 0 1,0 -5.2,0M1477.2,928.7a2.6,2.6 0 1,0 5.2,0a2.6,2.6 0 1,0 -5.2,0M1482.2,920.3a2.6,2.6 0 1,0 5.2,0a2.6,2.6 0 1,0 -5.2,0M1487.2,911.4a2.6,2.6 0 1,0 5.2,0a2.6,2.6 0 1,0 -5.2,0M1492.2,902.5a2.6,2.6 0 1,0 5.2,0a2.6,2.6 0 1,0 -5.2,0M1497.2,894a2.6,2.6 0 1,0 5.2,0a2.6,2.6 0 1,0 -5.2,0M1502.2,886.7a2.6,2.6 0 1,0 5.2,0a2.6,2.6 0 1,0 -5.2,0M1507.2,880.9a2.6,2.6 0 1,0 5.2,0a2.6,2.6 0 1,0 -5.2,0M1512.2,877.2a2.6,2.6 0 1,0 5.2,0a2.6,2.6 0 1,0 -5.2,0M1517.2,875.9a2.6,2.6 0 1,0 5.2,0a2.6,2.6 0 1,0 -5.2,0M1522.2,877.2a2.6,2.6 0 1,0 5.2,0a2.6,2.6 0 1,0 -5.2,0M1527.2,880.9a2.6,2.6 0 1,0 5.2,0a2.6,2.6 0 1,0 -5.2,0M1532.2,886.9a2.6,2.6 0 1,0 5.2,0a2.6,2.6 0 1,0 -5.2,0M1537.2,894.7a2.6,2.6 0 1,0 5.2,0a2.6,2.6 0 1,0 -5.2,0M1542.2,903.8a2.6,2.6 0 1,0 5.2,0a2.6,2.6 0 1,0 -5.2,0M1547.2,913.6a2.6,2.6 0 1,0 5.2,0a2.6,2.6 0 1,0 -5.2,0M1552.2,923.5a2.6,2.6 0 1,0 5.2,0a2.6,2.6 0 1,0 -5.2,0M1557.2,933.1a2.6,2.6 0 1,0 5.2,0a2.6,2.6 0 1,0 -5.2,0M1562.2,942a2.6,2.6 0 1,0 5.2,0a2.6,2.6 0 1,0 -5.2,0M1567.2,949.9a2.6,2.6 0 1,0 5.2,0a2.6,2.6 0 1,0 -5.2,0M1572.2,956.6a2.6,2.6 0 1,0 5.2,0a2.6,2.6 0 1,0 -5.2,0M1577.2,962.2a2.6,2.6 0 1,0 5.2,0a2.6,2.6 0 1,0 -5.2,0M1582.2,966.7a2.6,2.6 0 1,0 5.2,0a2.6,2.6 0 1,0 -5.2,0M1587.2,970.1a2.6,2.6 0 1,0 5.2,0a2.6,2.6 0 1,0 -5.2,0M1592.2,972.7a2.6,2.6 0 1,0 5.2,0a2.6,2.6 0 1,0 -5.2,0M1597.2,974.6a2.6,2.6 0 1,0 5.2,0a2.6,2.6 0 1,0 -5.2,0M1602.2,976a2.6,2.6 0 1,0 5.2,0a2.6,2.6 0 1,0 -5.2,0M1607.2,976.9a2.6,2.6 0 1,0 5.2,0a2.6,2.6 0 1,0 -5.2,0" fill="#ff1010" stroke="none"/>
<text x="1287" y="903.1" font-family="'Liberation Serif','Times New Roman',serif" font-size="44" font-weight="bold" text-anchor="start" fill="#0000ff" >Al 2p</text>
<line x1="1398" y1="881.8" x2="1482" y2="874.3" stroke="#0000ff" stroke-width="5" stroke-linecap="butt"/>
<path d="M1478,865.8 L1496,872.8 L1480,881.8 Z" fill="#0000ff"/>
<text x="1780" y="905.1" font-family="'Liberation Serif','Times New Roman',serif" font-size="40" font-weight="bold" fill="#0000ff" text-anchor="end">0.4 A cm<tspan dy="-13" font-size="26">-2</tspan></text>
<path d="M1409.8,1089.7 L1410.8,1089.7 L1411.8,1089.7 L1412.8,1089.7 L1413.8,1089.8 L1414.8,1089.8 L1415.8,1089.8 L1416.8,1089.8 L1417.8,1089.9 L1418.8,1089.9 L1419.8,1089.9 L1420.8,1090 L1421.8,1090 L1422.8,1090 L1423.8,1090.1 L1424.8,1090.1 L1425.8,1090.1 L1426.8,1090.2 L1427.8,1090.2 L1428.8,1090.2 L1429.8,1090.3 L1430.8,1090.3 L1431.8,1090.4 L1432.8,1090.4 L1433.8,1090.4 L1434.8,1090.5 L1435.8,1090.5 L1436.8,1090.6 L1437.8,1090.6 L1438.8,1090.7 L1439.8,1090.7 L1440.8,1090.8 L1441.8,1090.5 L1442.8,1090.1 L1443.8,1089.8 L1444.8,1089.3 L1445.8,1088.9 L1446.8,1088.5 L1447.8,1088 L1448.8,1087.4 L1449.8,1086.9 L1450.8,1086.3 L1451.8,1085.7 L1452.8,1085 L1453.8,1084.4 L1454.8,1083.6 L1455.8,1082.9 L1456.8,1082.1 L1457.8,1081.2 L1458.8,1080.4 L1459.8,1079.5 L1460.8,1078.5 L1461.8,1077.5 L1462.8,1076.5 L1463.8,1075.4 L1464.8,1074.3 L1465.8,1073.1 L1466.8,1071.9 L1467.8,1070.7 L1468.8,1069.4 L1469.8,1068.1 L1470.8,1066.7 L1471.8,1065.4 L1472.8,1063.9 L1473.8,1062.5 L1474.8,1061 L1475.8,1059.5 L1476.8,1057.9 L1477.8,1056.3 L1478.8,1054.7 L1479.8,1053.1 L1480.8,1051.5 L1481.8,1049.8 L1482.8,1048.1 L1483.8,1046.4 L1484.8,1044.8 L1485.8,1043.1 L1486.8,1041.4 L1487.8,1039.7 L1488.8,1038 L1489.8,1036.3 L1490.8,1034.7 L1491.8,1033 L1492.8,1031.4 L1493.8,1029.8 L1494.8,1028.3 L1495.8,1026.8 L1496.8,1025.3 L1497.8,1023.8 L1498.8,1022.4 L1499.8,1021.1 L1500.8,1019.8 L1501.8,1018.6 L1502.8,1017.5 L1503.8,1016.4 L1504.8,1015.3 L1505.8,1014.4 L1506.8,1013.5 L1507.8,1012.7 L1508.8,1012 L1509.8,1011.4 L1510.8,1010.8 L1511.8,1010.4 L1512.8,1010 L1513.8,1009.8 L1514.8,1009.6 L1515.8,1009.5 L1516.8,1009.5 L1517.8,1009.6 L1518.8,1009.8 L1519.8,1010.1 L1520.8,1010.4 L1521.8,1010.9 L1522.8,1011.4 L1523.8,1012.1 L1524.8,1012.8 L1525.8,1013.6 L1526.8,1014.5 L1527.8,1015.5 L1528.8,1016.6 L1529.8,1017.7 L1530.8,1018.9 L1531.8,1020.1 L1532.8,1021.5 L1533.8,1022.9 L1534.8,1024.3 L1535.8,1025.8 L1536.8,1027.3 L1537.8,1028.9 L1538.8,1030.6 L1539.8,1032.2 L1540.8,1033.9 L1541.8,1035.6 L1542.8,1037.4 L1543.8,1039.2 L1544.8,1040.9 L1545.8,1042.7 L1546.8,1044.5 L1547.8,1046.3 L1548.8,1048.2 L1549.8,1050 L1550.8,1051.8 L1551.8,1053.5 L1552.8,1055.3 L1553.8,1057.1 L1554.8,1058.8 L1555.8,1060.5 L1556.8,1062.2 L1557.8,1063.9 L1558.8,1065.5 L1559.8,1067.1 L1560.8,1068.7 L1561.8,1070.2 L1562.8,1071.7 L1563.8,1073.2 L1564.8,1074.6 L1565.8,1076 L1566.8,1077.3 L1567.8,1078.6 L1568.8,1079.9 L1569.8,1081.1 L1570.8,1082.2 L1571.8,1083.4 L1572.8,1084.5 L1573.8,1085.5 L1574.8,1086.5 L1575.8,1087.5 L1576.8,1088.4 L1577.8,1089.3 L1578.8,1090.1 L1579.8,1090.9 L1580.8,1091.7 L1581.8,1092.4 L1582.8,1093.1 L1583.8,1093.8 L1584.8,1094.4 L1585.8,1095 L1586.8,1095.5 L1587.8,1096.1 L1588.8,1096.6 L1589.8,1097 L1590.8,1097.5 L1591.8,1097.9 L1592.8,1098.3 L1593.8,1098.4 L1594.8,1098.4 L1595.8,1098.4 L1596.8,1098.4 L1597.8,1098.4 L1598.8,1098.4 L1599.8,1098.4 L1600.8,1098.4 L1601.8,1098.4 L1602.8,1098.4 L1603.8,1098.4 L1604.8,1098.4 L1605.8,1098.4 L1606.8,1098.4 L1607.8,1098.4 L1608.8,1098.4 L1608.8,1098.4 L1607.8,1098.4 L1606.8,1098.4 L1605.8,1098.4 L1604.8,1098.4 L1603.8,1098.4 L1602.8,1098.4 L1601.8,1098.4 L1600.8,1098.4 L1599.8,1098.4 L1598.8,1098.4 L1597.8,1098.4 L1596.8,1098.4 L1595.8,1098.4 L1594.8,1098.4 L1593.8,1098.4 L1592.8,1098.4 L1591.8,1098.4 L1590.8,1098.4 L1589.8,1098.4 L1588.8,1098.4 L1587.8,1098.4 L1586.8,1098.4 L1585.8,1098.4 L1584.8,1098.4 L1583.8,1098.4 L1582.8,1098.4 L1581.8,1098.4 L1580.8,1098.4 L1579.8,1098.4 L1578.8,1098.4 L1577.8,1098.3 L1576.8,1098.3 L1575.8,1098.3 L1574.8,1098.3 L1573.8,1098.3 L1572.8,1098.3 L1571.8,1098.3 L1570.8,1098.3 L1569.8,1098.3 L1568.8,1098.2 L1567.8,1098.2 L1566.8,1098.2 L1565.8,1098.2 L1564.8,1098.2 L1563.8,1098.2 L1562.8,1098.1 L1561.8,1098.1 L1560.8,1098.1 L1559.8,1098.1 L1558.8,1098 L1557.8,1098 L1556.8,1098 L1555.8,1098 L1554.8,1097.9 L1553.8,1097.9 L1552.8,1097.9 L1551.8,1097.8 L1550.8,1097.8 L1549.8,1097.8 L1548.8,1097.7 L1547.8,1097.7 L1546.8,1097.7 L1545.8,1097.6 L1544.8,1097.6 L1543.8,1097.5 L1542.8,1097.5 L1541.8,1097.5 L1540.8,1097.4 L1539.8,1097.4 L1538.8,1097.3 L1537.8,1097.3 L1536.8,1097.2 L1535.8,1097.2 L1534.8,1097.1 L1533.8,1097.1 L1532.8,1097 L1531.8,1097 L1530.8,1096.9 L1529.8,1096.8 L1528.8,1096.8 L1527.8,1096.7 L1526.8,1096.7 L1525.8,1096.6 L1524.8,1096.6 L1523.8,1096.5 L1522.8,1096.4 L1521.8,1096.4 L1520.8,1096.3 L1519.8,1096.2 L1518.8,1096.2 L1517.8,1096.1 L1516.8,1096 L1515.8,1096 L1514.8,1095.9 L1513.8,1095.8 L1512.8,1095.7 L1511.8,1095.7 L1510.8,1095.6 L1509.8,1095.5 L1508.8,1095.5 L1507.8,1095.4 L1506.8,1095.3 L1505.8,1095.2 L1504.8,1095.2 L1503.8,1095.1 L1502.8,1095 L1501.8,1094.9 L1500.8,1094.8 L1499.8,1094.8 L1498.8,1094.7 L1497.8,1094.6 L1496.8,1094.5 L1495.8,1094.5 L1494.8,1094.4 L1493.8,1094.3 L1492.8,1094.2 L1491.8,1094.1 L1490.8,1094.1 L1489.8,1094 L1488.8,1093.9 L1487.8,1093.8 L1486.8,1093.8 L1485.8,1093.7 L1484.8,1093.6 L1483.8,1093.5 L1482.8,1093.4 L1481.8,1093.4 L1480.8,1093.3 L1479.8,1093.2 L1478.8,1093.1 L1477.8,1093.1 L1476.8,1093 L1475.8,1092.9 L1474.8,1092.8 L1473.8,1092.8 L1472.8,1092.7 L1471.8,1092.6 L1470.8,1092.6 L1469.8,1092.5 L1468.8,1092.4 L1467.8,1092.3 L1466.8,1092.3 L1465.8,1092.2 L1464.8,1092.1 L1463.8,1092.1 L1462.8,1092 L1461.8,1091.9 L1460.8,1091.9 L1459.8,1091.8 L1458.8,1091.8 L1457.8,1091.7 L1456.8,1091.6 L1455.8,1091.6 L1454.8,1091.5 L1453.8,1091.4 L1452.8,1091.4 L1451.8,1091.3 L1450.8,1091.3 L1449.8,1091.2 L1448.8,1091.2 L1447.8,1091.1 L1446.8,1091.1 L1445.8,1091 L1444.8,1091 L1443.8,1090.9 L1442.8,1090.9 L1441.8,1090.8 L1440.8,1090.8 L1439.8,1090.7 L1438.8,1090.7 L1437.8,1090.6 L1436.8,1090.6 L1435.8,1090.5 L1434.8,1090.5 L1433.8,1090.4 L1432.8,1090.4 L1431.8,1090.4 L1430.8,1090.3 L1429.8,1090.3 L1428.8,1090.2 L1427.8,1090.2 L1426.8,1090.2 L1425.8,1090.1 L1424.8,1090.1 L1423.8,1090.1 L1422.8,1090 L1421.8,1090 L1420.8,1090 L1419.8,1089.9 L1418.8,1089.9 L1417.8,1089.9 L1416.8,1089.8 L1415.8,1089.8 L1414.8,1089.8 L1413.8,1089.8 L1412.8,1089.7 L1411.8,1089.7 L1410.8,1089.7 L1409.8,1089.7Z" fill="#f0a8a8"/>
<path d="M1404.8,1088.7a5,5 0 1,0 10,0a5,5 0 1,0 -10,0M1407.8,1088.7a5,5 0 1,0 10,0a5,5 0 1,0 -10,0M1410.8,1088.8a5,5 0 1,0 10,0a5,5 0 1,0 -10,0M1413.8,1088.9a5,5 0 1,0 10,0a5,5 0 1,0 -10,0M1416.8,1089a5,5 0 1,0 10,0a5,5 0 1,0 -10,0M1419.8,1089.1a5,5 0 1,0 10,0a5,5 0 1,0 -10,0M1422.8,1089.2a5,5 0 1,0 10,0a5,5 0 1,0 -10,0M1425.8,1089.3a5,5 0 1,0 10,0a5,5 0 1,0 -10,0M1428.8,1089.4a5,5 0 1,0 10,0a5,5 0 1,0 -10,0M1431.8,1089.6a5,5 0 1,0 10,0a5,5 0 1,0 -10,0M1434.8,1089.7a5,5 0 1,0 10,0a5,5 0 1,0 -10,0M1437.8,1089.9a5,5 0 1,0 10,0a5,5 0 1,0 -10,0M1440.8,1090a5,5 0 1,0 10,0a5,5 0 1,0 -10,0M1443.8,1090.2a5,5 0 1,0 10,0a5,5 0 1,0 -10,0M1446.8,1090.3a5,5 0 1,0 10,0a5,5 0 1,0 -10,0M1449.8,1090.5a5,5 0 1,0 10,0a5,5 0 1,0 -10,0M1452.8,1090.7a5,5 0 1,0 10,0a5,5 0 1,0 -10,0M1455.8,1090.9a5,5 0 1,0 10,0a5,5 0 1,0 -10,0M1458.8,1091.1a5,5 0 1,0 10,0a5,5 0 1,0 -10,0M1461.8,1091.3a5,5 0 1,0 10,0a5,5 0 1,0 -10,0M1464.8,1091.5a5,5 0 1,0 10,0a5,5 0 1,0 -10,0M1467.8,1091.7a5,5 0 1,0 10,0a5,5 0 1,0 -10,0M1470.8,1091.9a5,5 0 1,0 10,0a5,5 0 1,0 -10,0M1473.8,1092.1a5,5 0 1,0 10,0a5,5 0 1,0 -10,0M1476.8,1092.4a5,5 0 1,0 10,0a5,5 0 1,0 -10,0M1479.8,1092.6a5,5 0 1,0 10,0a5,5 0 1,0 -10,0M1482.8,1092.8a5,5 0 1,0 10,0a5,5 0 1,0 -10,0M1485.8,1093.1a5,5 0 1,0 10,0a5,5 0 1,0 -10,0M1488.8,1093.3a5,5 0 1,0 10,0a5,5 0 1,0 -10,0M1491.8,1093.5a5,5 0 1,0 10,0a5,5 0 1,0 -10,0M1494.8,1093.8a5,5 0 1,0 10,0a5,5 0 1,0 -10,0M1497.8,1094a5,5 0 1,0 10,0a5,5 0 1,0 -10,0M1500.8,1094.2a5,5 0 1,0 10,0a5,5 0 1,0 -10,0M1503.8,1094.5a5,5 0 1,0 10,0a5,5 0 1,0 -10,0M1506.8,1094.7a5,5 0 1,0 10,0a5,5 0 1,0 -10,0M1509.8,1094.9a5,5 0 1,0 10,0a5,5 0 1,0 -10,0M1512.8,1095.1a5,5 0 1,0 10,0a5,5 0 1,0 -10,0M1515.8,1095.3a5,5 0 1,0 10,0a5,5 0 1,0 -10,0M1518.8,1095.5a5,5 0 1,0 10,0a5,5 0 1,0 -10,0M1521.8,1095.7a5,5 0 1,0 10,0a5,5 0 1,0 -10,0M1524.8,1095.8a5,5 0 1,0 10,0a5,5 0 1,0 -10,0M1527.8,1096a5,5 0 1,0 10,0a5,5 0 1,0 -10,0M1530.8,1096.2a5,5 0 1,0 10,0a5,5 0 1,0 -10,0M1533.8,1096.3a5,5 0 1,0 10,0a5,5 0 1,0 -10,0M1536.8,1096.5a5,5 0 1,0 10,0a5,5 0 1,0 -10,0M1539.8,1096.6a5,5 0 1,0 10,0a5,5 0 1,0 -10,0M1542.8,1096.7a5,5 0 1,0 10,0a5,5 0 1,0 -10,0M1545.8,1096.8a5,5 0 1,0 10,0a5,5 0 1,0 -10,0M1548.8,1096.9a5,5 0 1,0 10,0a5,5 0 1,0 -10,0M1551.8,1097a5,5 0 1,0 10,0a5,5 0 1,0 -10,0M1554.8,1097.1a5,5 0 1,0 10,0a5,5 0 1,0 -10,0M1557.8,1097.1a5,5 0 1,0 10,0a5,5 0 1,0 -10,0M1560.8,1097.2a5,5 0 1,0 10,0a5,5 0 1,0 -10,0M1563.8,1097.2a5,5 0 1,0 10,0a5,5 0 1,0 -10,0M1566.8,1097.3a5,5 0 1,0 10,0a5,5 0 1,0 -10,0M1569.8,1097.3a5,5 0 1,0 10,0a5,5 0 1,0 -10,0M1572.8,1097.3a5,5 0 1,0 10,0a5,5 0 1,0 -10,0M1575.8,1097.4a5,5 0 1,0 10,0a5,5 0 1,0 -10,0M1578.8,1097.4a5,5 0 1,0 10,0a5,5 0 1,0 -10,0M1581.8,1097.4a5,5 0 1,0 10,0a5,5 0 1,0 -10,0M1584.8,1097.4a5,5 0 1,0 10,0a5,5 0 1,0 -10,0M1587.8,1097.4a5,5 0 1,0 10,0a5,5 0 1,0 -10,0M1590.8,1097.4a5,5 0 1,0 10,0a5,5 0 1,0 -10,0M1593.8,1097.4a5,5 0 1,0 10,0a5,5 0 1,0 -10,0M1596.8,1097.4a5,5 0 1,0 10,0a5,5 0 1,0 -10,0M1599.8,1097.4a5,5 0 1,0 10,0a5,5 0 1,0 -10,0M1602.8,1097.4a5,5 0 1,0 10,0a5,5 0 1,0 -10,0" fill="none" stroke="#5ee85e" stroke-width="1.3"/>
<polyline points="1394.8,1093.4 1395.8,1093.4 1396.8,1093.4 1397.8,1093.4 1398.8,1093.4 1399.8,1093.4 1400.8,1093.5 1401.8,1093.5 1402.8,1093.5 1403.8,1093.5 1404.8,1093.5 1405.8,1093.6 1406.8,1093.6 1407.8,1093.6 1408.8,1093.6 1409.8,1093.7 1410.8,1093.7 1411.8,1093.7 1412.8,1093.7 1413.8,1093.8 1414.8,1093.8 1415.8,1093.8 1416.8,1093.8 1417.8,1093.9 1418.8,1093.9 1419.8,1093.9 1420.8,1094 1421.8,1094 1422.8,1094 1423.8,1094.1 1424.8,1094.1 1425.8,1094.1 1426.8,1094.2 1427.8,1094.2 1428.8,1094.2 1429.8,1094.3 1430.8,1094.3 1431.8,1094.4 1432.8,1094.4 1433.8,1094.4 1434.8,1094.5 1435.8,1094.5 1436.8,1094.6 1437.8,1094.6 1438.8,1094.7 1439.8,1094.7 1440.8,1094.8 1441.8,1094.8 1442.8,1094.9 1443.8,1094.9 1444.8,1095 1445.8,1095 1446.8,1095.1 1447.8,1095.1 1448.8,1095.2 1449.8,1095.2 1450.8,1095.3 1451.8,1095.3 1452.8,1095.4 1453.8,1095.4 1454.8,1095.5 1455.8,1095.6 1456.8,1095.6 1457.8,1095.7 1458.8,1095.8 1459.8,1095.8 1460.8,1095.9 1461.8,1095.9 1462.8,1096 1463.8,1096.1 1464.8,1096.1 1465.8,1096.2 1466.8,1096.3 1467.8,1096.3 1468.8,1096.4 1469.8,1096.5 1470.8,1096.6 1471.8,1096.6 1472.8,1096.7 1473.8,1096.8 1474.8,1096.8 1475.8,1096.9 1476.8,1097 1477.8,1097.1 1478.8,1097.1 1479.8,1097.2 1480.8,1097.3 1481.8,1097.4 1482.8,1097.4 1483.8,1097.5 1484.8,1097.6 1485.8,1097.7 1486.8,1097.8 1487.8,1097.8 1488.8,1097.9 1489.8,1098 1490.8,1098.1 1491.8,1098.1 1492.8,1098.2 1493.8,1098.3 1494.8,1098.4 1495.8,1098.5 1496.8,1098.5 1497.8,1098.6 1498.8,1098.7 1499.8,1098.8 1500.8,1098.8 1501.8,1098.9 1502.8,1099 1503.8,1099.1 1504.8,1099.2 1505.8,1099.2 1506.8,1099.3 1507.8,1099.4 1508.8,1099.5 1509.8,1099.5 1510.8,1099.6 1511.8,1099.7 1512.8,1099.7 1513.8,1099.8 1514.8,1099.9 1515.8,1100 1516.8,1100 1517.8,1100.1 1518.8,1100.2 1519.8,1100.2 1520.8,1100.3 1521.8,1100.4 1522.8,1100.4 1523.8,1100.5 1524.8,1100.6 1525.8,1100.6 1526.8,1100.7 1527.8,1100.7 1528.8,1100.8 1529.8,1100.8 1530.8,1100.9 1531.8,1101 1532.8,1101 1533.8,1101.1 1534.8,1101.1 1535.8,1101.2 1536.8,1101.2 1537.8,1101.3 1538.8,1101.3 1539.8,1101.4 1540.8,1101.4 1541.8,1101.5 1542.8,1101.5 1543.8,1101.5 1544.8,1101.6 1545.8,1101.6 1546.8,1101.7 1547.8,1101.7 1548.8,1101.7 1549.8,1101.8 1550.8,1101.8 1551.8,1101.8 1552.8,1101.9 1553.8,1101.9 1554.8,1101.9 1555.8,1102 1556.8,1102 1557.8,1102 1558.8,1102 1559.8,1102.1 1560.8,1102.1 1561.8,1102.1 1562.8,1102.1 1563.8,1102.2 1564.8,1102.2 1565.8,1102.2 1566.8,1102.2 1567.8,1102.2 1568.8,1102.2 1569.8,1102.3 1570.8,1102.3 1571.8,1102.3 1572.8,1102.3 1573.8,1102.3 1574.8,1102.3 1575.8,1102.3 1576.8,1102.3 1577.8,1102.3 1578.8,1102.4 1579.8,1102.4 1580.8,1102.4 1581.8,1102.4 1582.8,1102.4 1583.8,1102.4 1584.8,1102.4 1585.8,1102.4 1586.8,1102.4 1587.8,1102.4 1588.8,1102.4 1589.8,1102.4 1590.8,1102.4 1591.8,1102.4 1592.8,1102.4 1593.8,1102.4 1594.8,1102.4 1595.8,1102.4 1596.8,1102.4 1597.8,1102.4 1598.8,1102.4 1599.8,1102.4 1600.8,1102.4 1601.8,1102.4 1602.8,1102.4 1603.8,1102.4 1604.8,1102.4 1605.8,1102.4 1606.8,1102.4 1607.8,1102.4 1608.8,1102.4 1609.8,1102.4 1610.8,1102.4 1611.8,1102.4 1612.8,1102.4 1613.8,1102.4 1614.8,1102.3 1615.8,1102.3 1616.8,1102.3 1617.8,1102.3 1618.8,1102.3 1619.8,1102.3 1620.8,1102.3 1621.8,1102.3 1622.8,1102.3 1623.8,1102.3" fill="none" stroke="#10e010" stroke-width="2.5" stroke-linejoin="round" stroke-linecap="round" />
<polyline points="1064.8,1087.7 1066.8,1087.6 1068.8,1086.8 1070.8,1087.2 1072.8,1086.7 1074.8,1088 1076.8,1088 1078.8,1086.5 1080.8,1089 1082.8,1087.3 1084.8,1088.8 1086.8,1088.8 1088.8,1089.2 1090.8,1086.9 1092.8,1087.6 1094.8,1089.1 1096.8,1086.4 1098.8,1086.5 1100.8,1088.1 1102.8,1087.9 1104.8,1089.1 1106.8,1088.7 1108.8,1088 1110.8,1089.4 1112.8,1088 1114.8,1088 1116.8,1088.5 1118.8,1087.6 1120.8,1087.5 1122.8,1088.2 1124.8,1087.5 1126.8,1089.3 1128.8,1088.5 1130.8,1088.1 1132.8,1086.8 1134.8,1087.6 1136.8,1087.7 1138.8,1088.2 1140.8,1088.2 1142.8,1089.2 1144.8,1089.4 1146.8,1088 1148.8,1087.9 1150.8,1088.4 1152.8,1089.6 1154.8,1087.6 1156.8,1088.2 1158.8,1089 1160.8,1087.1 1162.8,1087.6 1164.8,1089.6 1166.8,1089.1 1168.8,1088.2 1170.8,1087 1172.8,1089.3 1174.8,1088.7 1176.8,1089.1 1178.8,1089.6 1180.8,1089.3 1182.8,1088 1184.8,1087.2 1186.8,1087.6 1188.8,1088.3 1190.8,1088.2 1192.8,1087.3 1194.8,1087.3 1196.8,1088.6 1198.8,1088.6 1200.8,1087.8 1202.8,1089.8 1204.8,1088.7 1206.8,1086.9 1208.8,1088 1210.8,1089.2 1212.8,1087.7 1214.8,1088.9 1216.8,1086.8 1218.8,1087.7 1220.8,1089.4 1222.8,1088.6 1224.8,1088.9 1226.8,1087.5 1228.8,1088.4 1230.8,1088.5 1232.8,1087.7 1234.8,1088.8 1236.8,1088.5 1238.8,1089.9 1240.8,1088.6 1242.8,1088.2 1244.8,1087.3 1246.8,1087.4 1248.8,1089.2 1250.8,1087.3 1252.8,1087.3 1254.8,1087.5 1256.8,1088.6 1258.8,1089.5 1260.8,1088.8 1262.8,1089.4 1264.8,1087.2 1266.8,1087.1 1268.8,1089.3 1270.8,1088 1272.8,1089.2 1274.8,1088.1 1276.8,1087.6 1278.8,1087.9 1280.8,1087.4 1282.8,1089.8 1284.8,1088.8 1286.8,1088.2 1288.8,1088.5 1290.8,1088.3 1292.8,1087.3 1294.8,1089.8 1296.8,1088.9 1298.8,1090 1300.8,1088.5 1302.8,1089 1304.8,1087.9 1306.8,1087.3 1308.8,1090 1310.8,1089.8 1312.8,1088.2 1314.8,1089.9 1316.8,1089.7 1318.8,1088.1 1320.8,1089.1 1322.8,1090.1 1324.8,1088.7 1326.8,1090.1 1328.8,1088 1330.8,1088.5 1332.8,1089.4 1334.8,1088 1336.8,1088.2 1338.8,1089.9 1340.8,1088.8 1342.8,1089.7 1344.8,1088.1 1346.8,1087.9 1348.8,1088.4 1350.8,1087.9 1352.8,1090.3 1354.8,1088.3 1356.8,1089.1 1358.8,1087.7 1360.8,1089 1362.8,1088.6 1364.8,1088.6 1366.8,1087.6 1368.8,1087.8 1370.8,1089.9 1372.8,1088.5 1374.8,1088.2 1376.8,1088.1 1378.8,1088.3 1380.8,1088.2 1382.8,1087.6 1384.8,1089.5 1386.8,1088.5 1388.8,1088 1390.8,1089.6 1392.8,1087.8 1394.8,1088.3 1396.8,1090 1398.8,1087.9 1400.8,1088.8 1402.8,1090 1404.8,1089.8 1406.8,1087.8 1408.8,1088.3 1410.8,1089.4 1412.8,1088.2 1414.8,1089.8 1416.8,1087.4 1418.8,1089.5 1420.8,1087.9 1422.8,1086.8 1424.8,1087.1 1426.8,1085.8 1428.8,1087.1 1430.8,1085.2 1432.8,1086.5 1434.8,1084.9 1436.8,1083.5 1438.8,1082.2 1440.8,1082.3 1442.8,1079.9 1444.8,1080.7 1446.8,1077 1448.8,1076.6 1450.8,1075 1452.8,1072.3 1454.8,1071.8 1456.8,1068.4 1458.8,1066.9 1460.8,1064.1 1462.8,1060.7 1464.8,1058.1 1466.8,1054.2 1468.8,1051.4 1470.8,1050.3 1472.8,1045.4 1474.8,1043.1 1476.8,1038.1 1478.8,1036 1480.8,1032.1 1482.8,1029.2 1484.8,1025.3 1486.8,1021.5 1488.8,1019.2 1490.8,1016.1 1492.8,1013.2 1494.8,1012.6 1496.8,1009.2 1498.8,1007.7 1500.8,1007.7 1502.8,1006.2 1504.8,1005.7 1506.8,1005.2 1508.8,1002.9 1510.8,1003.6 1512.8,1003.5 1514.8,1006.5 1516.8,1007.8 1518.8,1008.6 1520.8,1010.8 1522.8,1013.9 1524.8,1016.6 1526.8,1018 1528.8,1022.9 1530.8,1024.6 1532.8,1028.8 1534.8,1030.9 1536.8,1034.3 1538.8,1040.3 1540.8,1043.4 1542.8,1046.9 1544.8,1048.4 1546.8,1051.9 1548.8,1055.7 1550.8,1059.1 1552.8,1062.6 1554.8,1065.9 1556.8,1067.7 1558.8,1071.2 1560.8,1074.8 1562.8,1075.8 1564.8,1080 1566.8,1081.2 1568.8,1083.5 1570.8,1083.9 1572.8,1086 1574.8,1088.2 1576.8,1088.4 1578.8,1088.5 1580.8,1092.1 1582.8,1092.8 1584.8,1092.1 1586.8,1092.1 1588.8,1095.2 1590.8,1095 1592.8,1093.8 1594.8,1094.8 1596.8,1094.8 1598.8,1097.1 1600.8,1095.6 1602.8,1098 1604.8,1097.7 1606.8,1095.8 1608.8,1097.8 1610.8,1097 1612.8,1098.2 1614.8,1098.5 1616.8,1096.9 1618.8,1096.4 1620.8,1099.1 1622.8,1097.5 1624.8,1099.1 1626.8,1098.4 1628.8,1098.6 1630.8,1098.9 1632.8,1098.3 1634.8,1097.8 1636.8,1096.6 1638.8,1098.6 1640.8,1097.8 1642.8,1098 1644.8,1099.3 1646.8,1096.9 1648.8,1098.8 1650.8,1096.7 1652.8,1098.7 1654.8,1099 1656.8,1097.4 1658.8,1098.2 1660.8,1099.5 1662.8,1098.5 1664.8,1098.2 1666.8,1097.4 1668.8,1096.8 1670.8,1097.7 1672.8,1097.9 1674.8,1097.3 1676.8,1097.6 1678.8,1097.1 1680.8,1098.8 1682.8,1098.7 1684.8,1097.4 1686.8,1097.4 1688.8,1098.3 1690.8,1098.1 1692.8,1099.5 1694.8,1097.8 1696.8,1097.6 1698.8,1099.4 1700.8,1097.2 1702.8,1098.5 1704.8,1097.8 1706.8,1099.2 1708.8,1098.4 1710.8,1099.1 1712.8,1097.3 1714.8,1098.8 1716.8,1098.6 1718.8,1098.2 1720.8,1099.1 1722.8,1099.3 1724.8,1097.2 1726.8,1097.7 1728.8,1098 1730.8,1097.5 1732.8,1097.1 1734.8,1097.7 1736.8,1097.5 1738.8,1099 1740.8,1098.3 1742.8,1097.3 1744.8,1097.9 1746.8,1098.4 1748.8,1098 1750.8,1097.5 1752.8,1097.2 1754.8,1097 1756.8,1100 1758.8,1099.2 1760.8,1097.3 1762.8,1099.2 1764.8,1100 1766.8,1098.7 1768.8,1097.4 1770.8,1098.5 1772.8,1098.4 1774.8,1097.6 1776.8,1098.7 1778.8,1097.1 1780.8,1099.8 1782.8,1099" fill="none" stroke="#000" stroke-width="1.2" stroke-linejoin="round" stroke-linecap="round" />
<path d="M1059.8,1093.9a6,6 0 1,0 12,0a6,6 0 1,0 -12,0M1072.4,1094a6,6 0 1,0 12,0a6,6 0 1,0 -12,0M1080.9,1092a6,6 0 1,0 12,0a6,6 0 1,0 -12,0M1088.8,1091a6,6 0 1,0 12,0a6,6 0 1,0 -12,0M1100.4,1095.1a6,6 0 1,0 12,0a6,6 0 1,0 -12,0M1109.2,1091.9a6,6 0 1,0 12,0a6,6 0 1,0 -12,0M1120,1095.2a6,6 0 1,0 12,0a6,6 0 1,0 -12,0M1132.6,1091.9a6,6 0 1,0 12,0a6,6 0 1,0 -12,0M1144.3,1095.2a6,6 0 1,0 12,0a6,6 0 1,0 -12,0M1155.7,1092.7a6,6 0 1,0 12,0a6,6 0 1,0 -12,0M1163.8,1095.3a6,6 0 1,0 12,0a6,6 0 1,0 -12,0M1172.8,1093a6,6 0 1,0 12,0a6,6 0 1,0 -12,0M1183.1,1093.1a6,6 0 1,0 12,0a6,6 0 1,0 -12,0M1195.1,1092.5a6,6 0 1,0 12,0a6,6 0 1,0 -12,0M1202.3,1094.1a6,6 0 1,0 12,0a6,6 0 1,0 -12,0M1213.1,1095.4a6,6 0 1,0 12,0a6,6 0 1,0 -12,0M1224.3,1095.9a6,6 0 1,0 12,0a6,6 0 1,0 -12,0M1237,1093.9a6,6 0 1,0 12,0a6,6 0 1,0 -12,0M1247,1092.3a6,6 0 1,0 12,0a6,6 0 1,0 -12,0M1255.8,1094.4a6,6 0 1,0 12,0a6,6 0 1,0 -12,0M1263.2,1095a6,6 0 1,0 12,0a6,6 0 1,0 -12,0M1271.2,1093.8a6,6 0 1,0 12,0a6,6 0 1,0 -12,0M1284,1092.1a6,6 0 1,0 12,0a6,6 0 1,0 -12,0M1291.3,1093.8a6,6 0 1,0 12,0a6,6 0 1,0 -12,0M1299.4,1095.3a6,6 0 1,0 12,0a6,6 0 1,0 -12,0M1306.4,1095.9a6,6 0 1,0 12,0a6,6 0 1,0 -12,0M1318.6,1095.7a6,6 0 1,0 12,0a6,6 0 1,0 -12,0M1328.1,1093.2a6,6 0 1,0 12,0a6,6 0 1,0 -12,0M1339.1,1094.4a6,6 0 1,0 12,0a6,6 0 1,0 -12,0M1348.6,1093.6a6,6 0 1,0 12,0a6,6 0 1,0 -12,0M1358.3,1095.3a6,6 0 1,0 12,0a6,6 0 1,0 -12,0M1370.2,1096.5a6,6 0 1,0 12,0a6,6 0 1,0 -12,0M1378.2,1093.5a6,6 0 1,0 12,0a6,6 0 1,0 -12,0M1387.9,1094.8a6,6 0 1,0 12,0a6,6 0 1,0 -12,0M1397,1092.9a6,6 0 1,0 12,0a6,6 0 1,0 -12,0M1404.5,1093.3a6,6 0 1,0 12,0a6,6 0 1,0 -12,0M1414.2,1095.8a6,6 0 1,0 12,0a6,6 0 1,0 -12,0M1426.7,1092.7a6,6 0 1,0 12,0a6,6 0 1,0 -12,0M1576.6,1099.3a6,6 0 1,0 12,0a6,6 0 1,0 -12,0M1586.9,1098.7a6,6 0 1,0 12,0a6,6 0 1,0 -12,0M1599,1101.2a6,6 0 1,0 12,0a6,6 0 1,0 -12,0M1606.6,1103.1a6,6 0 1,0 12,0a6,6 0 1,0 -12,0M1615.1,1103.2a6,6 0 1,0 12,0a6,6 0 1,0 -12,0M1625.4,1102a6,6 0 1,0 12,0a6,6 0 1,0 -12,0M1635.9,1101.6a6,6 0 1,0 12,0a6,6 0 1,0 -12,0M1646,1104a6,6 0 1,0 12,0a6,6 0 1,0 -12,0M1653.4,1103.1a6,6 0 1,0 12,0a6,6 0 1,0 -12,0M1660.9,1103.3a6,6 0 1,0 12,0a6,6 0 1,0 -12,0M1673.1,1103.9a6,6 0 1,0 12,0a6,6 0 1,0 -12,0M1684.4,1105a6,6 0 1,0 12,0a6,6 0 1,0 -12,0M1692,1106.2a6,6 0 1,0 12,0a6,6 0 1,0 -12,0M1703.4,1101.8a6,6 0 1,0 12,0a6,6 0 1,0 -12,0M1715.4,1103.3a6,6 0 1,0 12,0a6,6 0 1,0 -12,0M1723.4,1106.2a6,6 0 1,0 12,0a6,6 0 1,0 -12,0M1733.8,1105.3a6,6 0 1,0 12,0a6,6 0 1,0 -12,0M1741.6,1105.3a6,6 0 1,0 12,0a6,6 0 1,0 -12,0M1748.9,1102.7a6,6 0 1,0 12,0a6,6 0 1,0 -12,0M1758.2,1101.6a6,6 0 1,0 12,0a6,6 0 1,0 -12,0M1768.7,1102.6a6,6 0 1,0 12,0a6,6 0 1,0 -12,0M1777.5,1105.1a6,6 0 1,0 12,0a6,6 0 1,0 -12,0" fill="none" stroke="#111" stroke-width="1.2"/>
<path d="M1061.3,1077.2a6.5,4.5 0 1,0 13,0a6.5,4.5 0 1,0 -13,0M1079.5,1077.3a6.5,4.5 0 1,0 13,0a6.5,4.5 0 1,0 -13,0M1097.1,1077.2a6.5,4.5 0 1,0 13,0a6.5,4.5 0 1,0 -13,0M1117.8,1080.3a6.5,4.5 0 1,0 13,0a6.5,4.5 0 1,0 -13,0M1137.3,1079.7a6.5,4.5 0 1,0 13,0a6.5,4.5 0 1,0 -13,0M1156.9,1078.4a6.5,4.5 0 1,0 13,0a6.5,4.5 0 1,0 -13,0M1177.2,1080.7a6.5,4.5 0 1,0 13,0a6.5,4.5 0 1,0 -13,0M1192.9,1078.3a6.5,4.5 0 1,0 13,0a6.5,4.5 0 1,0 -13,0M1214.4,1078.5a6.5,4.5 0 1,0 13,0a6.5,4.5 0 1,0 -13,0M1226.8,1079a6.5,4.5 0 1,0 13,0a6.5,4.5 0 1,0 -13,0M1239.8,1079.3a6.5,4.5 0 1,0 13,0a6.5,4.5 0 1,0 -13,0M1259.9,1081.1a6.5,4.5 0 1,0 13,0a6.5,4.5 0 1,0 -13,0M1281.1,1078.9a6.5,4.5 0 1,0 13,0a6.5,4.5 0 1,0 -13,0M1295.7,1080.9a6.5,4.5 0 1,0 13,0a6.5,4.5 0 1,0 -13,0M1312.1,1078.4a6.5,4.5 0 1,0 13,0a6.5,4.5 0 1,0 -13,0M1329.9,1081.4a6.5,4.5 0 1,0 13,0a6.5,4.5 0 1,0 -13,0M1342.2,1081.4a6.5,4.5 0 1,0 13,0a6.5,4.5 0 1,0 -13,0M1362.2,1081.2a6.5,4.5 0 1,0 13,0a6.5,4.5 0 1,0 -13,0M1379.7,1080.9a6.5,4.5 0 1,0 13,0a6.5,4.5 0 1,0 -13,0M1593.5,1091.8a6.5,4.5 0 1,0 13,0a6.5,4.5 0 1,0 -13,0M1660.6,1092.8a6.5,4.5 0 1,0 13,0a6.5,4.5 0 1,0 -13,0M1713.2,1091.1a6.5,4.5 0 1,0 13,0a6.5,4.5 0 1,0 -13,0M1734,1092.5a6.5,4.5 0 1,0 13,0a6.5,4.5 0 1,0 -13,0M1462.5,1048.1a6.5,4.5 0 1,0 13,0a6.5,4.5 0 1,0 -13,0M1474.5,1028.2a6.5,4.5 0 1,0 13,0a6.5,4.5 0 1,0 -13,0M1537.5,1044.4a6.5,4.5 0 1,0 13,0a6.5,4.5 0 1,0 -13,0M1550.5,1065.4a6.5,4.5 0 1,0 13,0a6.5,4.5 0 1,0 -13,0M1484.5,1012.7a6.5,4.5 0 1,0 13,0a6.5,4.5 0 1,0 -13,0" fill="#000" fill-opacity="0.9" stroke="#000" stroke-width="1"/>
<path d="M1411.3,1094.3a5.5,5.5 0 1,0 11,0a5.5,5.5 0 1,0 -11,0M1415.3,1094.1a5.5,5.5 0 1,0 11,0a5.5,5.5 0 1,0 -11,0M1419.3,1093.8a5.5,5.5 0 1,0 11,0a5.5,5.5 0 1,0 -11,0M1423.3,1093.4a5.5,5.5 0 1,0 11,0a5.5,5.5 0 1,0 -11,0M1427.3,1092.8a5.5,5.5 0 1,0 11,0a5.5,5.5 0 1,0 -11,0M1431.3,1091.9a5.5,5.5 0 1,0 11,0a5.5,5.5 0 1,0 -11,0M1435.3,1090.8a5.5,5.5 0 1,0 11,0a5.5,5.5 0 1,0 -11,0M1439.3,1089.3a5.5,5.5 0 1,0 11,0a5.5,5.5 0 1,0 -11,0M1443.3,1087.4a5.5,5.5 0 1,0 11,0a5.5,5.5 0 1,0 -11,0M1447.3,1085a5.5,5.5 0 1,0 11,0a5.5,5.5 0 1,0 -11,0M1451.3,1082.1a5.5,5.5 0 1,0 11,0a5.5,5.5 0 1,0 -11,0M1455.3,1078.5a5.5,5.5 0 1,0 11,0a5.5,5.5 0 1,0 -11,0M1459.3,1074.3a5.5,5.5 0 1,0 11,0a5.5,5.5 0 1,0 -11,0M1463.3,1069.4a5.5,5.5 0 1,0 11,0a5.5,5.5 0 1,0 -11,0M1467.3,1063.9a5.5,5.5 0 1,0 11,0a5.5,5.5 0 1,0 -11,0M1471.3,1057.9a5.5,5.5 0 1,0 11,0a5.5,5.5 0 1,0 -11,0M1475.3,1051.5a5.5,5.5 0 1,0 11,0a5.5,5.5 0 1,0 -11,0M1479.3,1044.8a5.5,5.5 0 1,0 11,0a5.5,5.5 0 1,0 -11,0M1483.3,1038a5.5,5.5 0 1,0 11,0a5.5,5.5 0 1,0 -11,0M1487.3,1031.4a5.5,5.5 0 1,0 11,0a5.5,5.5 0 1,0 -11,0M1491.3,1025.3a5.5,5.5 0 1,0 11,0a5.5,5.5 0 1,0 -11,0M1495.3,1019.8a5.5,5.5 0 1,0 11,0a5.5,5.5 0 1,0 -11,0M1499.3,1015.3a5.5,5.5 0 1,0 11,0a5.5,5.5 0 1,0 -11,0M1503.3,1012a5.5,5.5 0 1,0 11,0a5.5,5.5 0 1,0 -11,0M1507.3,1010a5.5,5.5 0 1,0 11,0a5.5,5.5 0 1,0 -11,0M1511.3,1009.5a5.5,5.5 0 1,0 11,0a5.5,5.5 0 1,0 -11,0M1515.3,1010.4a5.5,5.5 0 1,0 11,0a5.5,5.5 0 1,0 -11,0M1519.3,1012.8a5.5,5.5 0 1,0 11,0a5.5,5.5 0 1,0 -11,0M1523.3,1016.6a5.5,5.5 0 1,0 11,0a5.5,5.5 0 1,0 -11,0M1527.3,1021.5a5.5,5.5 0 1,0 11,0a5.5,5.5 0 1,0 -11,0M1531.3,1027.3a5.5,5.5 0 1,0 11,0a5.5,5.5 0 1,0 -11,0M1535.3,1033.9a5.5,5.5 0 1,0 11,0a5.5,5.5 0 1,0 -11,0M1539.3,1040.9a5.5,5.5 0 1,0 11,0a5.5,5.5 0 1,0 -11,0M1543.3,1048.2a5.5,5.5 0 1,0 11,0a5.5,5.5 0 1,0 -11,0M1547.3,1055.3a5.5,5.5 0 1,0 11,0a5.5,5.5 0 1,0 -11,0M1551.3,1062.2a5.5,5.5 0 1,0 11,0a5.5,5.5 0 1,0 -11,0M1555.3,1068.7a5.5,5.5 0 1,0 11,0a5.5,5.5 0 1,0 -11,0M1559.3,1074.6a5.5,5.5 0 1,0 11,0a5.5,5.5 0 1,0 -11,0M1563.3,1079.9a5.5,5.5 0 1,0 11,0a5.5,5.5 0 1,0 -11,0M1567.3,1084.5a5.5,5.5 0 1,0 11,0a5.5,5.5 0 1,0 -11,0M1571.3,1088.4a5.5,5.5 0 1,0 11,0a5.5,5.5 0 1,0 -11,0M1575.3,1091.7a5.5,5.5 0 1,0 11,0a5.5,5.5 0 1,0 -11,0M1579.3,1094.4a5.5,5.5 0 1,0 11,0a5.5,5.5 0 1,0 -11,0M1583.3,1096.6a5.5,5.5 0 1,0 11,0a5.5,5.5 0 1,0 -11,0M1587.3,1098.3a5.5,5.5 0 1,0 11,0a5.5,5.5 0 1,0 -11,0M1591.3,1099.6a5.5,5.5 0 1,0 11,0a5.5,5.5 0 1,0 -11,0M1595.3,1100.7a5.5,5.5 0 1,0 11,0a5.5,5.5 0 1,0 -11,0" fill="none" stroke="#3030ff" stroke-width="1.6"/>
<path d="M1058.5,1087.7a6.3,6.3 0 1,0 12.6,0a6.3,6.3 0 1,0 -12.6,0M1062.5,1087.7a6.3,6.3 0 1,0 12.6,0a6.3,6.3 0 1,0 -12.6,0M1066.5,1087.8a6.3,6.3 0 1,0 12.6,0a6.3,6.3 0 1,0 -12.6,0M1070.5,1087.8a6.3,6.3 0 1,0 12.6,0a6.3,6.3 0 1,0 -12.6,0M1074.5,1087.8a6.3,6.3 0 1,0 12.6,0a6.3,6.3 0 1,0 -12.6,0M1078.5,1087.8a6.3,6.3 0 1,0 12.6,0a6.3,6.3 0 1,0 -12.6,0M1082.5,1087.8a6.3,6.3 0 1,0 12.6,0a6.3,6.3 0 1,0 -12.6,0M1086.5,1087.8a6.3,6.3 0 1,0 12.6,0a6.3,6.3 0 1,0 -12.6,0M1090.5,1087.8a6.3,6.3 0 1,0 12.6,0a6.3,6.3 0 1,0 -12.6,0M1094.5,1087.9a6.3,6.3 0 1,0 12.6,0a6.3,6.3 0 1,0 -12.6,0M1098.5,1087.9a6.3,6.3 0 1,0 12.6,0a6.3,6.3 0 1,0 -12.6,0M1102.5,1087.9a6.3,6.3 0 1,0 12.6,0a6.3,6.3 0 1,0 -12.6,0M1106.5,1087.9a6.3,6.3 0 1,0 12.6,0a6.3,6.3 0 1,0 -12.6,0M1110.5,1087.9a6.3,6.3 0 1,0 12.6,0a6.3,6.3 0 1,0 -12.6,0M1114.5,1087.9a6.3,6.3 0 1,0 12.6,0a6.3,6.3 0 1,0 -12.6,0M1118.5,1088a6.3,6.3 0 1,0 12.6,0a6.3,6.3 0 1,0 -12.6,0M1122.5,1088a6.3,6.3 0 1,0 12.6,0a6.3,6.3 0 1,0 -12.6,0M1126.5,1088a6.3,6.3 0 1,0 12.6,0a6.3,6.3 0 1,0 -12.6,0M1130.5,1088a6.3,6.3 0 1,0 12.6,0a6.3,6.3 0 1,0 -12.6,0M1134.5,1088a6.3,6.3 0 1,0 12.6,0a6.3,6.3 0 1,0 -12.6,0M1138.5,1088a6.3,6.3 0 1,0 12.6,0a6.3,6.3 0 1,0 -12.6,0M1142.5,1088.1a6.3,6.3 0 1,0 12.6,0a6.3,6.3 0 1,0 -12.6,0M1146.5,1088.1a6.3,6.3 0 1,0 12.6,0a6.3,6.3 0 1,0 -12.6,0M1150.5,1088.1a6.3,6.3 0 1,0 12.6,0a6.3,6.3 0 1,0 -12.6,0M1154.5,1088.1a6.3,6.3 0 1,0 12.6,0a6.3,6.3 0 1,0 -12.6,0M1158.5,1088.1a6.3,6.3 0 1,0 12.6,0a6.3,6.3 0 1,0 -12.6,0M1162.5,1088.1a6.3,6.3 0 1,0 12.6,0a6.3,6.3 0 1,0 -12.6,0M1166.5,1088.2a6.3,6.3 0 1,0 12.6,0a6.3,6.3 0 1,0 -12.6,0M1170.5,1088.2a6.3,6.3 0 1,0 12.6,0a6.3,6.3 0 1,0 -12.6,0M1174.5,1088.2a6.3,6.3 0 1,0 12.6,0a6.3,6.3 0 1,0 -12.6,0M1178.5,1088.2a6.3,6.3 0 1,0 12.6,0a6.3,6.3 0 1,0 -12.6,0M1182.5,1088.2a6.3,6.3 0 1,0 12.6,0a6.3,6.3 0 1,0 -12.6,0M1186.5,1088.2a6.3,6.3 0 1,0 12.6,0a6.3,6.3 0 1,0 -12.6,0M1190.5,1088.2a6.3,6.3 0 1,0 12.6,0a6.3,6.3 0 1,0 -12.6,0M1194.5,1088.3a6.3,6.3 0 1,0 12.6,0a6.3,6.3 0 1,0 -12.6,0M1198.5,1088.3a6.3,6.3 0 1,0 12.6,0a6.3,6.3 0 1,0 -12.6,0M1202.5,1088.3a6.3,6.3 0 1,0 12.6,0a6.3,6.3 0 1,0 -12.6,0M1206.5,1088.3a6.3,6.3 0 1,0 12.6,0a6.3,6.3 0 1,0 -12.6,0M1210.5,1088.3a6.3,6.3 0 1,0 12.6,0a6.3,6.3 0 1,0 -12.6,0M1214.5,1088.3a6.3,6.3 0 1,0 12.6,0a6.3,6.3 0 1,0 -12.6,0M1218.5,1088.4a6.3,6.3 0 1,0 12.6,0a6.3,6.3 0 1,0 -12.6,0M1222.5,1088.4a6.3,6.3 0 1,0 12.6,0a6.3,6.3 0 1,0 -12.6,0M1226.5,1088.4a6.3,6.3 0 1,0 12.6,0a6.3,6.3 0 1,0 -12.6,0M1230.5,1088.4a6.3,6.3 0 1,0 12.6,0a6.3,6.3 0 1,0 -12.6,0M1234.5,1088.4a6.3,6.3 0 1,0 12.6,0a6.3,6.3 0 1,0 -12.6,0M1238.5,1088.4a6.3,6.3 0 1,0 12.6,0a6.3,6.3 0 1,0 -12.6,0M1242.5,1088.5a6.3,6.3 0 1,0 12.6,0a6.3,6.3 0 1,0 -12.6,0M1246.5,1088.5a6.3,6.3 0 1,0 12.6,0a6.3,6.3 0 1,0 -12.6,0M1250.5,1088.5a6.3,6.3 0 1,0 12.6,0a6.3,6.3 0 1,0 -12.6,0M1254.5,1088.5a6.3,6.3 0 1,0 12.6,0a6.3,6.3 0 1,0 -12.6,0M1258.5,1088.5a6.3,6.3 0 1,0 12.6,0a6.3,6.3 0 1,0 -12.6,0M1262.5,1088.5a6.3,6.3 0 1,0 12.6,0a6.3,6.3 0 1,0 -12.6,0M1266.5,1088.6a6.3,6.3 0 1,0 12.6,0a6.3,6.3 0 1,0 -12.6,0M1270.5,1088.6a6.3,6.3 0 1,0 12.6,0a6.3,6.3 0 1,0 -12.6,0M1274.5,1088.6a6.3,6.3 0 1,0 12.6,0a6.3,6.3 0 1,0 -12.6,0M1278.5,1088.6a6.3,6.3 0 1,0 12.6,0a6.3,6.3 0 1,0 -12.6,0M1282.5,1088.6a6.3,6.3 0 1,0 12.6,0a6.3,6.3 0 1,0 -12.6,0M1286.5,1088.6a6.3,6.3 0 1,0 12.6,0a6.3,6.3 0 1,0 -12.6,0M1290.5,1088.6a6.3,6.3 0 1,0 12.6,0a6.3,6.3 0 1,0 -12.6,0M1294.5,1088.7a6.3,6.3 0 1,0 12.6,0a6.3,6.3 0 1,0 -12.6,0M1298.5,1088.7a6.3,6.3 0 1,0 12.6,0a6.3,6.3 0 1,0 -12.6,0M1302.5,1088.7a6.3,6.3 0 1,0 12.6,0a6.3,6.3 0 1,0 -12.6,0M1306.5,1088.7a6.3,6.3 0 1,0 12.6,0a6.3,6.3 0 1,0 -12.6,0M1310.5,1088.7a6.3,6.3 0 1,0 12.6,0a6.3,6.3 0 1,0 -12.6,0M1314.5,1088.7a6.3,6.3 0 1,0 12.6,0a6.3,6.3 0 1,0 -12.6,0M1318.5,1088.8a6.3,6.3 0 1,0 12.6,0a6.3,6.3 0 1,0 -12.6,0M1322.5,1088.8a6.3,6.3 0 1,0 12.6,0a6.3,6.3 0 1,0 -12.6,0M1326.5,1088.8a6.3,6.3 0 1,0 12.6,0a6.3,6.3 0 1,0 -12.6,0M1330.5,1088.8a6.3,6.3 0 1,0 12.6,0a6.3,6.3 0 1,0 -12.6,0M1334.5,1088.8a6.3,6.3 0 1,0 12.6,0a6.3,6.3 0 1,0 -12.6,0M1338.5,1088.8a6.3,6.3 0 1,0 12.6,0a6.3,6.3 0 1,0 -12.6,0M1342.5,1088.9a6.3,6.3 0 1,0 12.6,0a6.3,6.3 0 1,0 -12.6,0M1346.5,1088.9a6.3,6.3 0 1,0 12.6,0a6.3,6.3 0 1,0 -12.6,0M1350.5,1088.9a6.3,6.3 0 1,0 12.6,0a6.3,6.3 0 1,0 -12.6,0M1354.5,1088.9a6.3,6.3 0 1,0 12.6,0a6.3,6.3 0 1,0 -12.6,0M1358.5,1088.9a6.3,6.3 0 1,0 12.6,0a6.3,6.3 0 1,0 -12.6,0M1362.5,1089a6.3,6.3 0 1,0 12.6,0a6.3,6.3 0 1,0 -12.6,0M1366.5,1089a6.3,6.3 0 1,0 12.6,0a6.3,6.3 0 1,0 -12.6,0M1370.5,1089a6.3,6.3 0 1,0 12.6,0a6.3,6.3 0 1,0 -12.6,0M1374.5,1089a6.3,6.3 0 1,0 12.6,0a6.3,6.3 0 1,0 -12.6,0M1378.5,1089a6.3,6.3 0 1,0 12.6,0a6.3,6.3 0 1,0 -12.6,0M1382.5,1089a6.3,6.3 0 1,0 12.6,0a6.3,6.3 0 1,0 -12.6,0M1386.5,1089a6.3,6.3 0 1,0 12.6,0a6.3,6.3 0 1,0 -12.6,0M1390.5,1089a6.3,6.3 0 1,0 12.6,0a6.3,6.3 0 1,0 -12.6,0M1394.5,1089a6.3,6.3 0 1,0 12.6,0a6.3,6.3 0 1,0 -12.6,0M1398.5,1088.9a6.3,6.3 0 1,0 12.6,0a6.3,6.3 0 1,0 -12.6,0M1402.5,1088.8a6.3,6.3 0 1,0 12.6,0a6.3,6.3 0 1,0 -12.6,0M1406.5,1088.6a6.3,6.3 0 1,0 12.6,0a6.3,6.3 0 1,0 -12.6,0M1410.5,1088.3a6.3,6.3 0 1,0 12.6,0a6.3,6.3 0 1,0 -12.6,0M1414.5,1087.9a6.3,6.3 0 1,0 12.6,0a6.3,6.3 0 1,0 -12.6,0M1418.5,1087.3a6.3,6.3 0 1,0 12.6,0a6.3,6.3 0 1,0 -12.6,0M1422.5,1086.4a6.3,6.3 0 1,0 12.6,0a6.3,6.3 0 1,0 -12.6,0M1426.5,1085.3a6.3,6.3 0 1,0 12.6,0a6.3,6.3 0 1,0 -12.6,0M1430.5,1083.8a6.3,6.3 0 1,0 12.6,0a6.3,6.3 0 1,0 -12.6,0M1434.5,1081.9a6.3,6.3 0 1,0 12.6,0a6.3,6.3 0 1,0 -12.6,0M1438.5,1079.5a6.3,6.3 0 1,0 12.6,0a6.3,6.3 0 1,0 -12.6,0M1442.5,1076.6a6.3,6.3 0 1,0 12.6,0a6.3,6.3 0 1,0 -12.6,0M1446.5,1073a6.3,6.3 0 1,0 12.6,0a6.3,6.3 0 1,0 -12.6,0M1450.5,1068.8a6.3,6.3 0 1,0 12.6,0a6.3,6.3 0 1,0 -12.6,0M1454.5,1063.9a6.3,6.3 0 1,0 12.6,0a6.3,6.3 0 1,0 -12.6,0M1458.5,1058.4a6.3,6.3 0 1,0 12.6,0a6.3,6.3 0 1,0 -12.6,0M1462.5,1052.4a6.3,6.3 0 1,0 12.6,0a6.3,6.3 0 1,0 -12.6,0M1466.5,1046a6.3,6.3 0 1,0 12.6,0a6.3,6.3 0 1,0 -12.6,0M1470.5,1039.3a6.3,6.3 0 1,0 12.6,0a6.3,6.3 0 1,0 -12.6,0M1474.5,1032.5a6.3,6.3 0 1,0 12.6,0a6.3,6.3 0 1,0 -12.6,0M1478.5,1025.9a6.3,6.3 0 1,0 12.6,0a6.3,6.3 0 1,0 -12.6,0M1482.5,1019.8a6.3,6.3 0 1,0 12.6,0a6.3,6.3 0 1,0 -12.6,0M1486.5,1014.3a6.3,6.3 0 1,0 12.6,0a6.3,6.3 0 1,0 -12.6,0M1490.5,1009.8a6.3,6.3 0 1,0 12.6,0a6.3,6.3 0 1,0 -12.6,0M1494.5,1006.5a6.3,6.3 0 1,0 12.6,0a6.3,6.3 0 1,0 -12.6,0M1498.5,1004.5a6.3,6.3 0 1,0 12.6,0a6.3,6.3 0 1,0 -12.6,0M1502.5,1004a6.3,6.3 0 1,0 12.6,0a6.3,6.3 0 1,0 -12.6,0M1506.5,1004.9a6.3,6.3 0 1,0 12.6,0a6.3,6.3 0 1,0 -12.6,0M1510.5,1007.3a6.3,6.3 0 1,0 12.6,0a6.3,6.3 0 1,0 -12.6,0M1514.5,1011.1a6.3,6.3 0 1,0 12.6,0a6.3,6.3 0 1,0 -12.6,0M1518.5,1016a6.3,6.3 0 1,0 12.6,0a6.3,6.3 0 1,0 -12.6,0M1522.5,1021.8a6.3,6.3 0 1,0 12.6,0a6.3,6.3 0 1,0 -12.6,0M1526.5,1028.4a6.3,6.3 0 1,0 12.6,0a6.3,6.3 0 1,0 -12.6,0M1530.5,1035.4a6.3,6.3 0 1,0 12.6,0a6.3,6.3 0 1,0 -12.6,0M1534.5,1042.7a6.3,6.3 0 1,0 12.6,0a6.3,6.3 0 1,0 -12.6,0M1538.5,1049.8a6.3,6.3 0 1,0 12.6,0a6.3,6.3 0 1,0 -12.6,0M1542.5,1056.7a6.3,6.3 0 1,0 12.6,0a6.3,6.3 0 1,0 -12.6,0M1546.5,1063.2a6.3,6.3 0 1,0 12.6,0a6.3,6.3 0 1,0 -12.6,0M1550.5,1069.1a6.3,6.3 0 1,0 12.6,0a6.3,6.3 0 1,0 -12.6,0M1554.5,1074.4a6.3,6.3 0 1,0 12.6,0a6.3,6.3 0 1,0 -12.6,0M1558.5,1079a6.3,6.3 0 1,0 12.6,0a6.3,6.3 0 1,0 -12.6,0M1562.5,1082.9a6.3,6.3 0 1,0 12.6,0a6.3,6.3 0 1,0 -12.6,0M1566.5,1086.2a6.3,6.3 0 1,0 12.6,0a6.3,6.3 0 1,0 -12.6,0M1570.5,1088.9a6.3,6.3 0 1,0 12.6,0a6.3,6.3 0 1,0 -12.6,0M1574.5,1091.1a6.3,6.3 0 1,0 12.6,0a6.3,6.3 0 1,0 -12.6,0M1578.5,1092.8a6.3,6.3 0 1,0 12.6,0a6.3,6.3 0 1,0 -12.6,0M1582.5,1094.1a6.3,6.3 0 1,0 12.6,0a6.3,6.3 0 1,0 -12.6,0M1586.5,1095.2a6.3,6.3 0 1,0 12.6,0a6.3,6.3 0 1,0 -12.6,0M1590.5,1095.9a6.3,6.3 0 1,0 12.6,0a6.3,6.3 0 1,0 -12.6,0M1594.5,1096.5a6.3,6.3 0 1,0 12.6,0a6.3,6.3 0 1,0 -12.6,0M1598.5,1096.9a6.3,6.3 0 1,0 12.6,0a6.3,6.3 0 1,0 -12.6,0M1602.5,1097.2a6.3,6.3 0 1,0 12.6,0a6.3,6.3 0 1,0 -12.6,0M1606.5,1097.4a6.3,6.3 0 1,0 12.6,0a6.3,6.3 0 1,0 -12.6,0M1610.5,1097.6a6.3,6.3 0 1,0 12.6,0a6.3,6.3 0 1,0 -12.6,0M1614.5,1097.7a6.3,6.3 0 1,0 12.6,0a6.3,6.3 0 1,0 -12.6,0M1618.5,1097.8a6.3,6.3 0 1,0 12.6,0a6.3,6.3 0 1,0 -12.6,0M1622.5,1097.9a6.3,6.3 0 1,0 12.6,0a6.3,6.3 0 1,0 -12.6,0M1626.5,1097.9a6.3,6.3 0 1,0 12.6,0a6.3,6.3 0 1,0 -12.6,0M1630.5,1097.9a6.3,6.3 0 1,0 12.6,0a6.3,6.3 0 1,0 -12.6,0M1634.5,1098a6.3,6.3 0 1,0 12.6,0a6.3,6.3 0 1,0 -12.6,0M1638.5,1098a6.3,6.3 0 1,0 12.6,0a6.3,6.3 0 1,0 -12.6,0M1642.5,1098a6.3,6.3 0 1,0 12.6,0a6.3,6.3 0 1,0 -12.6,0M1646.5,1098.1a6.3,6.3 0 1,0 12.6,0a6.3,6.3 0 1,0 -12.6,0M1650.5,1098.1a6.3,6.3 0 1,0 12.6,0a6.3,6.3 0 1,0 -12.6,0M1654.5,1098.1a6.3,6.3 0 1,0 12.6,0a6.3,6.3 0 1,0 -12.6,0M1658.5,1098.1a6.3,6.3 0 1,0 12.6,0a6.3,6.3 0 1,0 -12.6,0M1662.5,1098.1a6.3,6.3 0 1,0 12.6,0a6.3,6.3 0 1,0 -12.6,0M1666.5,1098.1a6.3,6.3 0 1,0 12.6,0a6.3,6.3 0 1,0 -12.6,0M1670.5,1098.2a6.3,6.3 0 1,0 12.6,0a6.3,6.3 0 1,0 -12.6,0M1674.5,1098.2a6.3,6.3 0 1,0 12.6,0a6.3,6.3 0 1,0 -12.6,0M1678.5,1098.2a6.3,6.3 0 1,0 12.6,0a6.3,6.3 0 1,0 -12.6,0M1682.5,1098.2a6.3,6.3 0 1,0 12.6,0a6.3,6.3 0 1,0 -12.6,0M1686.5,1098.2a6.3,6.3 0 1,0 12.6,0a6.3,6.3 0 1,0 -12.6,0M1690.5,1098.2a6.3,6.3 0 1,0 12.6,0a6.3,6.3 0 1,0 -12.6,0M1694.5,1098.3a6.3,6.3 0 1,0 12.6,0a6.3,6.3 0 1,0 -12.6,0M1698.5,1098.3a6.3,6.3 0 1,0 12.6,0a6.3,6.3 0 1,0 -12.6,0M1702.5,1098.3a6.3,6.3 0 1,0 12.6,0a6.3,6.3 0 1,0 -12.6,0M1706.5,1098.3a6.3,6.3 0 1,0 12.6,0a6.3,6.3 0 1,0 -12.6,0M1710.5,1098.3a6.3,6.3 0 1,0 12.6,0a6.3,6.3 0 1,0 -12.6,0M1714.5,1098.3a6.3,6.3 0 1,0 12.6,0a6.3,6.3 0 1,0 -12.6,0M1718.5,1098.4a6.3,6.3 0 1,0 12.6,0a6.3,6.3 0 1,0 -12.6,0M1722.5,1098.4a6.3,6.3 0 1,0 12.6,0a6.3,6.3 0 1,0 -12.6,0M1726.5,1098.4a6.3,6.3 0 1,0 12.6,0a6.3,6.3 0 1,0 -12.6,0M1730.5,1098.4a6.3,6.3 0 1,0 12.6,0a6.3,6.3 0 1,0 -12.6,0M1734.5,1098.4a6.3,6.3 0 1,0 12.6,0a6.3,6.3 0 1,0 -12.6,0M1738.5,1098.4a6.3,6.3 0 1,0 12.6,0a6.3,6.3 0 1,0 -12.6,0M1742.5,1098.5a6.3,6.3 0 1,0 12.6,0a6.3,6.3 0 1,0 -12.6,0M1746.5,1098.5a6.3,6.3 0 1,0 12.6,0a6.3,6.3 0 1,0 -12.6,0M1750.5,1098.5a6.3,6.3 0 1,0 12.6,0a6.3,6.3 0 1,0 -12.6,0M1754.5,1098.5a6.3,6.3 0 1,0 12.6,0a6.3,6.3 0 1,0 -12.6,0M1758.5,1098.5a6.3,6.3 0 1,0 12.6,0a6.3,6.3 0 1,0 -12.6,0M1762.5,1098.5a6.3,6.3 0 1,0 12.6,0a6.3,6.3 0 1,0 -12.6,0M1766.5,1098.6a6.3,6.3 0 1,0 12.6,0a6.3,6.3 0 1,0 -12.6,0M1770.5,1098.6a6.3,6.3 0 1,0 12.6,0a6.3,6.3 0 1,0 -12.6,0M1774.5,1098.6a6.3,6.3 0 1,0 12.6,0a6.3,6.3 0 1,0 -12.6,0" fill="none" stroke="#2020ff" stroke-width="1.9"/>
<polyline points="1064.8,1087.7 1066.8,1087.7 1068.8,1087.7 1070.8,1087.7 1072.8,1087.8 1074.8,1087.8 1076.8,1087.8 1078.8,1087.8 1080.8,1087.8 1082.8,1087.8 1084.8,1087.8 1086.8,1087.8 1088.8,1087.8 1090.8,1087.8 1092.8,1087.8 1094.8,1087.8 1096.8,1087.8 1098.8,1087.9 1100.8,1087.9 1102.8,1087.9 1104.8,1087.9 1106.8,1087.9 1108.8,1087.9 1110.8,1087.9 1112.8,1087.9 1114.8,1087.9 1116.8,1087.9 1118.8,1087.9 1120.8,1087.9 1122.8,1088 1124.8,1088 1126.8,1088 1128.8,1088 1130.8,1088 1132.8,1088 1134.8,1088 1136.8,1088 1138.8,1088 1140.8,1088 1142.8,1088 1144.8,1088 1146.8,1088 1148.8,1088.1 1150.8,1088.1 1152.8,1088.1 1154.8,1088.1 1156.8,1088.1 1158.8,1088.1 1160.8,1088.1 1162.8,1088.1 1164.8,1088.1 1166.8,1088.1 1168.8,1088.1 1170.8,1088.1 1172.8,1088.2 1174.8,1088.2 1176.8,1088.2 1178.8,1088.2 1180.8,1088.2 1182.8,1088.2 1184.8,1088.2 1186.8,1088.2 1188.8,1088.2 1190.8,1088.2 1192.8,1088.2 1194.8,1088.2 1196.8,1088.2 1198.8,1088.3 1200.8,1088.3 1202.8,1088.3 1204.8,1088.3 1206.8,1088.3 1208.8,1088.3 1210.8,1088.3 1212.8,1088.3 1214.8,1088.3 1216.8,1088.3 1218.8,1088.3 1220.8,1088.3 1222.8,1088.4 1224.8,1088.4 1226.8,1088.4 1228.8,1088.4 1230.8,1088.4 1232.8,1088.4 1234.8,1088.4 1236.8,1088.4 1238.8,1088.4 1240.8,1088.4 1242.8,1088.4 1244.8,1088.4 1246.8,1088.4 1248.8,1088.5 1250.8,1088.5 1252.8,1088.5 1254.8,1088.5 1256.8,1088.5 1258.8,1088.5 1260.8,1088.5 1262.8,1088.5 1264.8,1088.5 1266.8,1088.5 1268.8,1088.5 1270.8,1088.5 1272.8,1088.6 1274.8,1088.6 1276.8,1088.6 1278.8,1088.6 1280.8,1088.6 1282.8,1088.6 1284.8,1088.6 1286.8,1088.6 1288.8,1088.6 1290.8,1088.6 1292.8,1088.6 1294.8,1088.6 1296.8,1088.6 1298.8,1088.7 1300.8,1088.7 1302.8,1088.7 1304.8,1088.7 1306.8,1088.7 1308.8,1088.7 1310.8,1088.7 1312.8,1088.7 1314.8,1088.7 1316.8,1088.7 1318.8,1088.7 1320.8,1088.7 1322.8,1088.8 1324.8,1088.8 1326.8,1088.8 1328.8,1088.8 1330.8,1088.8 1332.8,1088.8 1334.8,1088.8 1336.8,1088.8 1338.8,1088.8 1340.8,1088.8 1342.8,1088.8 1344.8,1088.8 1346.8,1088.9 1348.8,1088.9 1350.8,1088.9 1352.8,1088.9 1354.8,1088.9 1356.8,1088.9 1358.8,1088.9 1360.8,1088.9 1362.8,1088.9 1364.8,1088.9 1366.8,1088.9 1368.8,1089 1370.8,1089 1372.8,1089 1374.8,1089 1376.8,1089 1378.8,1089 1380.8,1089 1382.8,1089 1384.8,1089 1386.8,1089 1388.8,1089 1390.8,1089 1392.8,1089 1394.8,1089 1396.8,1089 1398.8,1089 1400.8,1089 1402.8,1088.9 1404.8,1088.9 1406.8,1088.9 1408.8,1088.8 1410.8,1088.7 1412.8,1088.6 1414.8,1088.5 1416.8,1088.3 1418.8,1088.1 1420.8,1087.9 1422.8,1087.6 1424.8,1087.3 1426.8,1086.9 1428.8,1086.4 1430.8,1085.9 1432.8,1085.3 1434.8,1084.6 1436.8,1083.8 1438.8,1083 1440.8,1081.9 1442.8,1080.8 1444.8,1079.5 1446.8,1078.1 1448.8,1076.6 1450.8,1074.9 1452.8,1073 1454.8,1071 1456.8,1068.8 1458.8,1066.4 1460.8,1063.9 1462.8,1061.2 1464.8,1058.4 1466.8,1055.5 1468.8,1052.4 1470.8,1049.2 1472.8,1046 1474.8,1042.6 1476.8,1039.3 1478.8,1035.9 1480.8,1032.5 1482.8,1029.2 1484.8,1025.9 1486.8,1022.8 1488.8,1019.8 1490.8,1016.9 1492.8,1014.3 1494.8,1012 1496.8,1009.8 1498.8,1008 1500.8,1006.5 1502.8,1005.3 1504.8,1004.5 1506.8,1004.1 1508.8,1004 1510.8,1004.3 1512.8,1004.9 1514.8,1005.9 1516.8,1007.3 1518.8,1009 1520.8,1011.1 1522.8,1013.4 1524.8,1016 1526.8,1018.8 1528.8,1021.8 1530.8,1025.1 1532.8,1028.4 1534.8,1031.9 1536.8,1035.4 1538.8,1039 1540.8,1042.7 1542.8,1046.3 1544.8,1049.8 1546.8,1053.3 1548.8,1056.7 1550.8,1060 1552.8,1063.2 1554.8,1066.2 1556.8,1069.1 1558.8,1071.8 1560.8,1074.4 1562.8,1076.7 1564.8,1079 1566.8,1081 1568.8,1082.9 1570.8,1084.6 1572.8,1086.2 1574.8,1087.6 1576.8,1088.9 1578.8,1090 1580.8,1091.1 1582.8,1092 1584.8,1092.8 1586.8,1093.5 1588.8,1094.1 1590.8,1094.7 1592.8,1095.2 1594.8,1095.6 1596.8,1095.9 1598.8,1096.2 1600.8,1096.5 1602.8,1096.7 1604.8,1096.9 1606.8,1097.1 1608.8,1097.2 1610.8,1097.3 1612.8,1097.4 1614.8,1097.5 1616.8,1097.6 1618.8,1097.7 1620.8,1097.7 1622.8,1097.8 1624.8,1097.8 1626.8,1097.8 1628.8,1097.9 1630.8,1097.9 1632.8,1097.9 1634.8,1097.9 1636.8,1097.9 1638.8,1098 1640.8,1098 1642.8,1098 1644.8,1098 1646.8,1098 1648.8,1098 1650.8,1098 1652.8,1098.1 1654.8,1098.1 1656.8,1098.1 1658.8,1098.1 1660.8,1098.1 1662.8,1098.1 1664.8,1098.1 1666.8,1098.1 1668.8,1098.1 1670.8,1098.1 1672.8,1098.1 1674.8,1098.2 1676.8,1098.2 1678.8,1098.2 1680.8,1098.2 1682.8,1098.2 1684.8,1098.2 1686.8,1098.2 1688.8,1098.2 1690.8,1098.2 1692.8,1098.2 1694.8,1098.2 1696.8,1098.2 1698.8,1098.3 1700.8,1098.3 1702.8,1098.3 1704.8,1098.3 1706.8,1098.3 1708.8,1098.3 1710.8,1098.3 1712.8,1098.3 1714.8,1098.3 1716.8,1098.3 1718.8,1098.3 1720.8,1098.3 1722.8,1098.4 1724.8,1098.4 1726.8,1098.4 1728.8,1098.4 1730.8,1098.4 1732.8,1098.4 1734.8,1098.4 1736.8,1098.4 1738.8,1098.4 1740.8,1098.4 1742.8,1098.4 1744.8,1098.4 1746.8,1098.4 1748.8,1098.5 1750.8,1098.5 1752.8,1098.5 1754.8,1098.5 1756.8,1098.5 1758.8,1098.5 1760.8,1098.5 1762.8,1098.5 1764.8,1098.5 1766.8,1098.5 1768.8,1098.5 1770.8,1098.5 1772.8,1098.6 1774.8,1098.6 1776.8,1098.6 1778.8,1098.6 1780.8,1098.6 1782.8,1098.6" fill="none" stroke="#1010ff" stroke-width="3.5" stroke-linejoin="round" stroke-linecap="round" />
<path d="M1417.2,1088a2.6,2.6 0 1,0 5.2,0a2.6,2.6 0 1,0 -5.2,0M1422.2,1087.3a2.6,2.6 0 1,0 5.2,0a2.6,2.6 0 1,0 -5.2,0M1427.2,1086.2a2.6,2.6 0 1,0 5.2,0a2.6,2.6 0 1,0 -5.2,0M1432.2,1084.6a2.6,2.6 0 1,0 5.2,0a2.6,2.6 0 1,0 -5.2,0M1437.2,1082.5a2.6,2.6 0 1,0 5.2,0a2.6,2.6 0 1,0 -5.2,0M1442.2,1079.5a2.6,2.6 0 1,0 5.2,0a2.6,2.6 0 1,0 -5.2,0M1447.2,1075.7a2.6,2.6 0 1,0 5.2,0a2.6,2.6 0 1,0 -5.2,0M1452.2,1071a2.6,2.6 0 1,0 5.2,0a2.6,2.6 0 1,0 -5.2,0M1457.2,1065.2a2.6,2.6 0 1,0 5.2,0a2.6,2.6 0 1,0 -5.2,0M1462.2,1058.4a2.6,2.6 0 1,0 5.2,0a2.6,2.6 0 1,0 -5.2,0M1467.2,1050.8a2.6,2.6 0 1,0 5.2,0a2.6,2.6 0 1,0 -5.2,0M1472.2,1042.6a2.6,2.6 0 1,0 5.2,0a2.6,2.6 0 1,0 -5.2,0M1477.2,1034.2a2.6,2.6 0 1,0 5.2,0a2.6,2.6 0 1,0 -5.2,0M1482.2,1025.9a2.6,2.6 0 1,0 5.2,0a2.6,2.6 0 1,0 -5.2,0M1487.2,1018.3a2.6,2.6 0 1,0 5.2,0a2.6,2.6 0 1,0 -5.2,0M1492.2,1012a2.6,2.6 0 1,0 5.2,0a2.6,2.6 0 1,0 -5.2,0M1497.2,1007.2a2.6,2.6 0 1,0 5.2,0a2.6,2.6 0 1,0 -5.2,0M1502.2,1004.5a2.6,2.6 0 1,0 5.2,0a2.6,2.6 0 1,0 -5.2,0M1507.2,1004.1a2.6,2.6 0 1,0 5.2,0a2.6,2.6 0 1,0 -5.2,0M1512.2,1005.9a2.6,2.6 0 1,0 5.2,0a2.6,2.6 0 1,0 -5.2,0M1517.2,1010a2.6,2.6 0 1,0 5.2,0a2.6,2.6 0 1,0 -5.2,0M1522.2,1016a2.6,2.6 0 1,0 5.2,0a2.6,2.6 0 1,0 -5.2,0M1527.2,1023.4a2.6,2.6 0 1,0 5.2,0a2.6,2.6 0 1,0 -5.2,0M1532.2,1031.9a2.6,2.6 0 1,0 5.2,0a2.6,2.6 0 1,0 -5.2,0M1537.2,1040.8a2.6,2.6 0 1,0 5.2,0a2.6,2.6 0 1,0 -5.2,0M1542.2,1049.8a2.6,2.6 0 1,0 5.2,0a2.6,2.6 0 1,0 -5.2,0M1547.2,1058.4a2.6,2.6 0 1,0 5.2,0a2.6,2.6 0 1,0 -5.2,0M1552.2,1066.2a2.6,2.6 0 1,0 5.2,0a2.6,2.6 0 1,0 -5.2,0M1557.2,1073.1a2.6,2.6 0 1,0 5.2,0a2.6,2.6 0 1,0 -5.2,0M1562.2,1079a2.6,2.6 0 1,0 5.2,0a2.6,2.6 0 1,0 -5.2,0M1567.2,1083.8a2.6,2.6 0 1,0 5.2,0a2.6,2.6 0 1,0 -5.2,0M1572.2,1087.6a2.6,2.6 0 1,0 5.2,0a2.6,2.6 0 1,0 -5.2,0M1577.2,1090.6a2.6,2.6 0 1,0 5.2,0a2.6,2.6 0 1,0 -5.2,0M1582.2,1092.8a2.6,2.6 0 1,0 5.2,0a2.6,2.6 0 1,0 -5.2,0M1587.2,1094.4a2.6,2.6 0 1,0 5.2,0a2.6,2.6 0 1,0 -5.2,0M1592.2,1095.6a2.6,2.6 0 1,0 5.2,0a2.6,2.6 0 1,0 -5.2,0" fill="#ff1010" stroke="none"/>
<text x="1287" y="1034.7" font-family="'Liberation Serif','Times New Roman',serif" font-size="44" font-weight="bold" text-anchor="start" fill="#ff0000" >Al 2p</text>
<line x1="1398" y1="1014.3" x2="1482" y2="1006.8" stroke="#ff0000" stroke-width="5" stroke-linecap="butt"/>
<path d="M1478,998.3 L1496,1005.3 L1480,1014.3 Z" fill="#ff0000"/>
<text x="1780" y="1033.3" font-family="'Liberation Serif','Times New Roman',serif" font-size="40" font-weight="bold" fill="#ff0000" text-anchor="end">0.3 A cm<tspan dy="-13" font-size="26">-2</tspan></text>
<path d="M1424.8,1228 L1425.8,1228 L1426.8,1228.1 L1427.8,1228.1 L1428.8,1228.2 L1429.8,1228.2 L1430.8,1228.3 L1431.8,1228.3 L1432.8,1228.4 L1433.8,1228.5 L1434.8,1228.5 L1435.8,1228.6 L1436.8,1228.6 L1437.8,1228.7 L1438.8,1228.7 L1439.8,1228.8 L1440.8,1228.8 L1441.8,1228.9 L1442.8,1229 L1443.8,1229 L1444.8,1229.1 L1445.8,1229.1 L1446.8,1229.2 L1447.8,1229.3 L1448.8,1229.3 L1449.8,1229.4 L1450.8,1229.5 L1451.8,1229.5 L1452.8,1229.6 L1453.8,1229.5 L1454.8,1229.2 L1455.8,1228.9 L1456.8,1228.5 L1457.8,1228.1 L1458.8,1227.7 L1459.8,1227.3 L1460.8,1226.8 L1461.8,1226.4 L1462.8,1225.8 L1463.8,1225.3 L1464.8,1224.7 L1465.8,1224.1 L1466.8,1223.5 L1467.8,1222.8 L1468.8,1222.1 L1469.8,1221.4 L1470.8,1220.6 L1471.8,1219.8 L1472.8,1218.9 L1473.8,1218 L1474.8,1217.1 L1475.8,1216.1 L1476.8,1215.1 L1477.8,1214.1 L1478.8,1213 L1479.8,1211.9 L1480.8,1210.8 L1481.8,1209.6 L1482.8,1208.3 L1483.8,1207.1 L1484.8,1205.8 L1485.8,1204.5 L1486.8,1203.1 L1487.8,1201.7 L1488.8,1200.3 L1489.8,1198.8 L1490.8,1197.3 L1491.8,1195.8 L1492.8,1194.3 L1493.8,1192.8 L1494.8,1191.2 L1495.8,1189.6 L1496.8,1188.1 L1497.8,1186.5 L1498.8,1184.9 L1499.8,1183.3 L1500.8,1181.6 L1501.8,1180 L1502.8,1178.4 L1503.8,1176.9 L1504.8,1175.3 L1505.8,1173.7 L1506.8,1172.2 L1507.8,1170.7 L1508.8,1169.2 L1509.8,1167.7 L1510.8,1166.3 L1511.8,1164.9 L1512.8,1163.6 L1513.8,1162.3 L1514.8,1161.1 L1515.8,1159.9 L1516.8,1158.8 L1517.8,1157.7 L1518.8,1156.7 L1519.8,1155.8 L1520.8,1154.9 L1521.8,1154.1 L1522.8,1153.4 L1523.8,1152.7 L1524.8,1152.2 L1525.8,1151.7 L1526.8,1151.3 L1527.8,1150.9 L1528.8,1150.7 L1529.8,1150.5 L1530.8,1150.5 L1531.8,1150.5 L1532.8,1150.6 L1533.8,1150.8 L1534.8,1151.1 L1535.8,1151.4 L1536.8,1151.9 L1537.8,1152.4 L1538.8,1153 L1539.8,1153.7 L1540.8,1154.5 L1541.8,1155.3 L1542.8,1156.2 L1543.8,1157.2 L1544.8,1158.3 L1545.8,1159.4 L1546.8,1160.6 L1547.8,1161.8 L1548.8,1163.2 L1549.8,1164.5 L1550.8,1165.9 L1551.8,1167.4 L1552.8,1168.9 L1553.8,1170.5 L1554.8,1172 L1555.8,1173.7 L1556.8,1175.3 L1557.8,1177 L1558.8,1178.7 L1559.8,1180.4 L1560.8,1182.1 L1561.8,1183.8 L1562.8,1185.6 L1563.8,1187.3 L1564.8,1189.1 L1565.8,1190.8 L1566.8,1192.5 L1567.8,1194.3 L1568.8,1196 L1569.8,1197.7 L1570.8,1199.3 L1571.8,1201 L1572.8,1202.6 L1573.8,1204.3 L1574.8,1205.8 L1575.8,1207.4 L1576.8,1208.9 L1577.8,1210.4 L1578.8,1211.9 L1579.8,1213.3 L1580.8,1214.7 L1581.8,1216.1 L1582.8,1217.4 L1583.8,1218.7 L1584.8,1219.9 L1585.8,1221.1 L1586.8,1222.3 L1587.8,1223.4 L1588.8,1224.5 L1589.8,1225.6 L1590.8,1226.6 L1591.8,1227.6 L1592.8,1228.5 L1593.8,1229.4 L1594.8,1230.3 L1595.8,1231.1 L1596.8,1231.9 L1597.8,1232.6 L1598.8,1233.3 L1599.8,1234 L1600.8,1234.7 L1601.8,1235.3 L1602.8,1235.9 L1603.8,1236.5 L1604.8,1237 L1605.8,1237.5 L1606.8,1238 L1607.8,1238.4 L1608.8,1238.9 L1609.8,1239.3 L1610.8,1239.6 L1611.8,1239.7 L1612.8,1239.7 L1613.8,1239.7 L1614.8,1239.7 L1615.8,1239.8 L1616.8,1239.8 L1617.8,1239.8 L1618.8,1239.8 L1619.8,1239.8 L1620.8,1239.9 L1621.8,1239.9 L1622.8,1239.9 L1623.8,1239.9 L1623.8,1239.9 L1622.8,1239.9 L1621.8,1239.9 L1620.8,1239.9 L1619.8,1239.8 L1618.8,1239.8 L1617.8,1239.8 L1616.8,1239.8 L1615.8,1239.8 L1614.8,1239.7 L1613.8,1239.7 L1612.8,1239.7 L1611.8,1239.7 L1610.8,1239.6 L1609.8,1239.6 L1608.8,1239.6 L1607.8,1239.6 L1606.8,1239.6 L1605.8,1239.5 L1604.8,1239.5 L1603.8,1239.5 L1602.8,1239.5 L1601.8,1239.4 L1600.8,1239.4 L1599.8,1239.4 L1598.8,1239.4 L1597.8,1239.3 L1596.8,1239.3 L1595.8,1239.3 L1594.8,1239.2 L1593.8,1239.2 L1592.8,1239.2 L1591.8,1239.2 L1590.8,1239.1 L1589.8,1239.1 L1588.8,1239.1 L1587.8,1239 L1586.8,1239 L1585.8,1239 L1584.8,1238.9 L1583.8,1238.9 L1582.8,1238.9 L1581.8,1238.8 L1580.8,1238.8 L1579.8,1238.8 L1578.8,1238.7 L1577.8,1238.7 L1576.8,1238.7 L1575.8,1238.6 L1574.8,1238.6 L1573.8,1238.5 L1572.8,1238.5 L1571.8,1238.4 L1570.8,1238.4 L1569.8,1238.4 L1568.8,1238.3 L1567.8,1238.3 L1566.8,1238.2 L1565.8,1238.2 L1564.8,1238.1 L1563.8,1238.1 L1562.8,1238 L1561.8,1238 L1560.8,1237.9 L1559.8,1237.9 L1558.8,1237.8 L1557.8,1237.8 L1556.8,1237.7 L1555.8,1237.6 L1554.8,1237.6 L1553.8,1237.5 L1552.8,1237.5 L1551.8,1237.4 L1550.8,1237.4 L1549.8,1237.3 L1548.8,1237.2 L1547.8,1237.2 L1546.8,1237.1 L1545.8,1237 L1544.8,1237 L1543.8,1236.9 L1542.8,1236.8 L1541.8,1236.8 L1540.8,1236.7 L1539.8,1236.6 L1538.8,1236.5 L1537.8,1236.5 L1536.8,1236.4 L1535.8,1236.3 L1534.8,1236.3 L1533.8,1236.2 L1532.8,1236.1 L1531.8,1236 L1530.8,1235.9 L1529.8,1235.9 L1528.8,1235.8 L1527.8,1235.7 L1526.8,1235.6 L1525.8,1235.5 L1524.8,1235.5 L1523.8,1235.4 L1522.8,1235.3 L1521.8,1235.2 L1520.8,1235.1 L1519.8,1235 L1518.8,1235 L1517.8,1234.9 L1516.8,1234.8 L1515.8,1234.7 L1514.8,1234.6 L1513.8,1234.5 L1512.8,1234.4 L1511.8,1234.4 L1510.8,1234.3 L1509.8,1234.2 L1508.8,1234.1 L1507.8,1234 L1506.8,1233.9 L1505.8,1233.8 L1504.8,1233.7 L1503.8,1233.7 L1502.8,1233.6 L1501.8,1233.5 L1500.8,1233.4 L1499.8,1233.3 L1498.8,1233.2 L1497.8,1233.1 L1496.8,1233 L1495.8,1233 L1494.8,1232.9 L1493.8,1232.8 L1492.8,1232.7 L1491.8,1232.6 L1490.8,1232.5 L1489.8,1232.4 L1488.8,1232.4 L1487.8,1232.3 L1486.8,1232.2 L1485.8,1232.1 L1484.8,1232 L1483.8,1231.9 L1482.8,1231.8 L1481.8,1231.8 L1480.8,1231.7 L1479.8,1231.6 L1478.8,1231.5 L1477.8,1231.4 L1476.8,1231.3 L1475.8,1231.3 L1474.8,1231.2 L1473.8,1231.1 L1472.8,1231 L1471.8,1231 L1470.8,1230.9 L1469.8,1230.8 L1468.8,1230.7 L1467.8,1230.6 L1466.8,1230.6 L1465.8,1230.5 L1464.8,1230.4 L1463.8,1230.3 L1462.8,1230.3 L1461.8,1230.2 L1460.8,1230.1 L1459.8,1230.1 L1458.8,1230 L1457.8,1229.9 L1456.8,1229.9 L1455.8,1229.8 L1454.8,1229.7 L1453.8,1229.6 L1452.8,1229.6 L1451.8,1229.5 L1450.8,1229.5 L1449.8,1229.4 L1448.8,1229.3 L1447.8,1229.3 L1446.8,1229.2 L1445.8,1229.1 L1444.8,1229.1 L1443.8,1229 L1442.8,1229 L1441.8,1228.9 L1440.8,1228.8 L1439.8,1228.8 L1438.8,1228.7 L1437.8,1228.7 L1436.8,1228.6 L1435.8,1228.6 L1434.8,1228.5 L1433.8,1228.5 L1432.8,1228.4 L1431.8,1228.3 L1430.8,1228.3 L1429.8,1228.2 L1428.8,1228.2 L1427.8,1228.1 L1426.8,1228.1 L1425.8,1228 L1424.8,1228Z" fill="#e8f7e0"/>
<path d="M1419.8,1227a5,5 0 1,0 10,0a5,5 0 1,0 -10,0M1422.8,1227.1a5,5 0 1,0 10,0a5,5 0 1,0 -10,0M1425.8,1227.3a5,5 0 1,0 10,0a5,5 0 1,0 -10,0M1428.8,1227.5a5,5 0 1,0 10,0a5,5 0 1,0 -10,0M1431.8,1227.6a5,5 0 1,0 10,0a5,5 0 1,0 -10,0M1434.8,1227.8a5,5 0 1,0 10,0a5,5 0 1,0 -10,0M1437.8,1228a5,5 0 1,0 10,0a5,5 0 1,0 -10,0M1440.8,1228.1a5,5 0 1,0 10,0a5,5 0 1,0 -10,0M1443.8,1228.3a5,5 0 1,0 10,0a5,5 0 1,0 -10,0M1446.8,1228.5a5,5 0 1,0 10,0a5,5 0 1,0 -10,0M1449.8,1228.7a5,5 0 1,0 10,0a5,5 0 1,0 -10,0M1452.8,1228.9a5,5 0 1,0 10,0a5,5 0 1,0 -10,0M1455.8,1229.1a5,5 0 1,0 10,0a5,5 0 1,0 -10,0M1458.8,1229.3a5,5 0 1,0 10,0a5,5 0 1,0 -10,0M1461.8,1229.6a5,5 0 1,0 10,0a5,5 0 1,0 -10,0M1464.8,1229.8a5,5 0 1,0 10,0a5,5 0 1,0 -10,0M1467.8,1230a5,5 0 1,0 10,0a5,5 0 1,0 -10,0M1470.8,1230.3a5,5 0 1,0 10,0a5,5 0 1,0 -10,0M1473.8,1230.5a5,5 0 1,0 10,0a5,5 0 1,0 -10,0M1476.8,1230.8a5,5 0 1,0 10,0a5,5 0 1,0 -10,0M1479.8,1231a5,5 0 1,0 10,0a5,5 0 1,0 -10,0M1482.8,1231.3a5,5 0 1,0 10,0a5,5 0 1,0 -10,0M1485.8,1231.5a5,5 0 1,0 10,0a5,5 0 1,0 -10,0M1488.8,1231.8a5,5 0 1,0 10,0a5,5 0 1,0 -10,0M1491.8,1232a5,5 0 1,0 10,0a5,5 0 1,0 -10,0M1494.8,1232.3a5,5 0 1,0 10,0a5,5 0 1,0 -10,0M1497.8,1232.6a5,5 0 1,0 10,0a5,5 0 1,0 -10,0M1500.8,1232.8a5,5 0 1,0 10,0a5,5 0 1,0 -10,0M1503.8,1233.1a5,5 0 1,0 10,0a5,5 0 1,0 -10,0M1506.8,1233.4a5,5 0 1,0 10,0a5,5 0 1,0 -10,0M1509.8,1233.6a5,5 0 1,0 10,0a5,5 0 1,0 -10,0M1512.8,1233.9a5,5 0 1,0 10,0a5,5 0 1,0 -10,0M1515.8,1234.1a5,5 0 1,0 10,0a5,5 0 1,0 -10,0M1518.8,1234.4a5,5 0 1,0 10,0a5,5 0 1,0 -10,0M1521.8,1234.6a5,5 0 1,0 10,0a5,5 0 1,0 -10,0M1524.8,1234.9a5,5 0 1,0 10,0a5,5 0 1,0 -10,0M1527.8,1235.1a5,5 0 1,0 10,0a5,5 0 1,0 -10,0M1530.8,1235.3a5,5 0 1,0 10,0a5,5 0 1,0 -10,0M1533.8,1235.5a5,5 0 1,0 10,0a5,5 0 1,0 -10,0M1536.8,1235.8a5,5 0 1,0 10,0a5,5 0 1,0 -10,0M1539.8,1236a5,5 0 1,0 10,0a5,5 0 1,0 -10,0M1542.8,1236.2a5,5 0 1,0 10,0a5,5 0 1,0 -10,0M1545.8,1236.4a5,5 0 1,0 10,0a5,5 0 1,0 -10,0M1548.8,1236.5a5,5 0 1,0 10,0a5,5 0 1,0 -10,0M1551.8,1236.7a5,5 0 1,0 10,0a5,5 0 1,0 -10,0M1554.8,1236.9a5,5 0 1,0 10,0a5,5 0 1,0 -10,0M1557.8,1237a5,5 0 1,0 10,0a5,5 0 1,0 -10,0M1560.8,1237.2a5,5 0 1,0 10,0a5,5 0 1,0 -10,0M1563.8,1237.3a5,5 0 1,0 10,0a5,5 0 1,0 -10,0M1566.8,1237.4a5,5 0 1,0 10,0a5,5 0 1,0 -10,0M1569.8,1237.6a5,5 0 1,0 10,0a5,5 0 1,0 -10,0M1572.8,1237.7a5,5 0 1,0 10,0a5,5 0 1,0 -10,0M1575.8,1237.8a5,5 0 1,0 10,0a5,5 0 1,0 -10,0M1578.8,1237.9a5,5 0 1,0 10,0a5,5 0 1,0 -10,0M1581.8,1238a5,5 0 1,0 10,0a5,5 0 1,0 -10,0M1584.8,1238.1a5,5 0 1,0 10,0a5,5 0 1,0 -10,0M1587.8,1238.2a5,5 0 1,0 10,0a5,5 0 1,0 -10,0M1590.8,1238.3a5,5 0 1,0 10,0a5,5 0 1,0 -10,0M1593.8,1238.4a5,5 0 1,0 10,0a5,5 0 1,0 -10,0M1596.8,1238.4a5,5 0 1,0 10,0a5,5 0 1,0 -10,0M1599.8,1238.5a5,5 0 1,0 10,0a5,5 0 1,0 -10,0M1602.8,1238.6a5,5 0 1,0 10,0a5,5 0 1,0 -10,0M1605.8,1238.6a5,5 0 1,0 10,0a5,5 0 1,0 -10,0M1608.8,1238.7a5,5 0 1,0 10,0a5,5 0 1,0 -10,0M1611.8,1238.8a5,5 0 1,0 10,0a5,5 0 1,0 -10,0M1614.8,1238.8a5,5 0 1,0 10,0a5,5 0 1,0 -10,0M1617.8,1238.9a5,5 0 1,0 10,0a5,5 0 1,0 -10,0" fill="none" stroke="#5ee85e" stroke-width="1.3"/>
<polyline points="1409.8,1231.3 1410.8,1231.4 1411.8,1231.4 1412.8,1231.4 1413.8,1231.5 1414.8,1231.5 1415.8,1231.6 1416.8,1231.6 1417.8,1231.7 1418.8,1231.7 1419.8,1231.8 1420.8,1231.8 1421.8,1231.8 1422.8,1231.9 1423.8,1231.9 1424.8,1232 1425.8,1232 1426.8,1232.1 1427.8,1232.1 1428.8,1232.2 1429.8,1232.2 1430.8,1232.3 1431.8,1232.3 1432.8,1232.4 1433.8,1232.5 1434.8,1232.5 1435.8,1232.6 1436.8,1232.6 1437.8,1232.7 1438.8,1232.7 1439.8,1232.8 1440.8,1232.8 1441.8,1232.9 1442.8,1233 1443.8,1233 1444.8,1233.1 1445.8,1233.1 1446.8,1233.2 1447.8,1233.3 1448.8,1233.3 1449.8,1233.4 1450.8,1233.5 1451.8,1233.5 1452.8,1233.6 1453.8,1233.6 1454.8,1233.7 1455.8,1233.8 1456.8,1233.9 1457.8,1233.9 1458.8,1234 1459.8,1234.1 1460.8,1234.1 1461.8,1234.2 1462.8,1234.3 1463.8,1234.3 1464.8,1234.4 1465.8,1234.5 1466.8,1234.6 1467.8,1234.6 1468.8,1234.7 1469.8,1234.8 1470.8,1234.9 1471.8,1235 1472.8,1235 1473.8,1235.1 1474.8,1235.2 1475.8,1235.3 1476.8,1235.3 1477.8,1235.4 1478.8,1235.5 1479.8,1235.6 1480.8,1235.7 1481.8,1235.8 1482.8,1235.8 1483.8,1235.9 1484.8,1236 1485.8,1236.1 1486.8,1236.2 1487.8,1236.3 1488.8,1236.4 1489.8,1236.4 1490.8,1236.5 1491.8,1236.6 1492.8,1236.7 1493.8,1236.8 1494.8,1236.9 1495.8,1237 1496.8,1237 1497.8,1237.1 1498.8,1237.2 1499.8,1237.3 1500.8,1237.4 1501.8,1237.5 1502.8,1237.6 1503.8,1237.7 1504.8,1237.7 1505.8,1237.8 1506.8,1237.9 1507.8,1238 1508.8,1238.1 1509.8,1238.2 1510.8,1238.3 1511.8,1238.4 1512.8,1238.4 1513.8,1238.5 1514.8,1238.6 1515.8,1238.7 1516.8,1238.8 1517.8,1238.9 1518.8,1239 1519.8,1239 1520.8,1239.1 1521.8,1239.2 1522.8,1239.3 1523.8,1239.4 1524.8,1239.5 1525.8,1239.5 1526.8,1239.6 1527.8,1239.7 1528.8,1239.8 1529.8,1239.9 1530.8,1239.9 1531.8,1240 1532.8,1240.1 1533.8,1240.2 1534.8,1240.3 1535.8,1240.3 1536.8,1240.4 1537.8,1240.5 1538.8,1240.5 1539.8,1240.6 1540.8,1240.7 1541.8,1240.8 1542.8,1240.8 1543.8,1240.9 1544.8,1241 1545.8,1241 1546.8,1241.1 1547.8,1241.2 1548.8,1241.2 1549.8,1241.3 1550.8,1241.4 1551.8,1241.4 1552.8,1241.5 1553.8,1241.5 1554.8,1241.6 1555.8,1241.6 1556.8,1241.7 1557.8,1241.8 1558.8,1241.8 1559.8,1241.9 1560.8,1241.9 1561.8,1242 1562.8,1242 1563.8,1242.1 1564.8,1242.1 1565.8,1242.2 1566.8,1242.2 1567.8,1242.3 1568.8,1242.3 1569.8,1242.4 1570.8,1242.4 1571.8,1242.4 1572.8,1242.5 1573.8,1242.5 1574.8,1242.6 1575.8,1242.6 1576.8,1242.7 1577.8,1242.7 1578.8,1242.7 1579.8,1242.8 1580.8,1242.8 1581.8,1242.8 1582.8,1242.9 1583.8,1242.9 1584.8,1242.9 1585.8,1243 1586.8,1243 1587.8,1243 1588.8,1243.1 1589.8,1243.1 1590.8,1243.1 1591.8,1243.2 1592.8,1243.2 1593.8,1243.2 1594.8,1243.2 1595.8,1243.3 1596.8,1243.3 1597.8,1243.3 1598.8,1243.4 1599.8,1243.4 1600.8,1243.4 1601.8,1243.4 1602.8,1243.5 1603.8,1243.5 1604.8,1243.5 1605.8,1243.5 1606.8,1243.6 1607.8,1243.6 1608.8,1243.6 1609.8,1243.6 1610.8,1243.6 1611.8,1243.7 1612.8,1243.7 1613.8,1243.7 1614.8,1243.7 1615.8,1243.8 1616.8,1243.8 1617.8,1243.8 1618.8,1243.8 1619.8,1243.8 1620.8,1243.9 1621.8,1243.9 1622.8,1243.9 1623.8,1243.9 1624.8,1243.9 1625.8,1244 1626.8,1244 1627.8,1244 1628.8,1244 1629.8,1244 1630.8,1244.1 1631.8,1244.1 1632.8,1244.1 1633.8,1244.1 1634.8,1244.1 1635.8,1244.2 1636.8,1244.2 1637.8,1244.2 1638.8,1244.2" fill="none" stroke="#10e010" stroke-width="5.5" stroke-linejoin="round" stroke-linecap="round" />
<polyline points="1064.8,1215.4 1066.8,1216.2 1068.8,1215.9 1070.8,1218 1072.8,1217.2 1074.8,1215.6 1076.8,1216 1078.8,1216.7 1080.8,1217 1082.8,1217.4 1084.8,1216.9 1086.8,1216.9 1088.8,1215.9 1090.8,1217.7 1092.8,1217 1094.8,1216.1 1096.8,1217.5 1098.8,1219.1 1100.8,1216.4 1102.8,1216.7 1104.8,1218.4 1106.8,1217.2 1108.8,1217.3 1110.8,1218 1112.8,1217.4 1114.8,1218.4 1116.8,1218.3 1118.8,1219.6 1120.8,1219.8 1122.8,1217 1124.8,1218.6 1126.8,1219.3 1128.8,1219.7 1130.8,1219.5 1132.8,1219.1 1134.8,1219.2 1136.8,1218.4 1138.8,1218.2 1140.8,1219.8 1142.8,1220.1 1144.8,1220.4 1146.8,1219.7 1148.8,1218.6 1150.8,1220 1152.8,1220 1154.8,1219.4 1156.8,1219.8 1158.8,1219 1160.8,1219.7 1162.8,1219.3 1164.8,1218.3 1166.8,1219.2 1168.8,1219.2 1170.8,1221.3 1172.8,1219.8 1174.8,1219.6 1176.8,1219.2 1178.8,1219.3 1180.8,1219.7 1182.8,1219.1 1184.8,1218.8 1186.8,1221.4 1188.8,1220.2 1190.8,1220.3 1192.8,1220.7 1194.8,1220 1196.8,1219.6 1198.8,1219.4 1200.8,1220.1 1202.8,1220.2 1204.8,1221.5 1206.8,1221.1 1208.8,1222.3 1210.8,1220.6 1212.8,1222.4 1214.8,1221.4 1216.8,1220 1218.8,1220.3 1220.8,1221.6 1222.8,1222.9 1224.8,1221 1226.8,1222.3 1228.8,1221.4 1230.8,1222.7 1232.8,1220.4 1234.8,1221.7 1236.8,1223 1238.8,1221.2 1240.8,1221.2 1242.8,1220.6 1244.8,1221 1246.8,1221.4 1248.8,1222.8 1250.8,1221.4 1252.8,1222 1254.8,1221.5 1256.8,1222.7 1258.8,1223.6 1260.8,1223 1262.8,1221.7 1264.8,1223.4 1266.8,1224.1 1268.8,1223.1 1270.8,1221.6 1272.8,1223.8 1274.8,1224.1 1276.8,1222.5 1278.8,1222 1280.8,1222.2 1282.8,1223.3 1284.8,1224.4 1286.8,1223.7 1288.8,1224.6 1290.8,1222.6 1292.8,1223 1294.8,1224.3 1296.8,1224.1 1298.8,1223.4 1300.8,1224.3 1302.8,1223.3 1304.8,1222.5 1306.8,1223.7 1308.8,1222.6 1310.8,1224.4 1312.8,1223.6 1314.8,1224.1 1316.8,1224.5 1318.8,1223.5 1320.8,1224.2 1322.8,1222.9 1324.8,1225.7 1326.8,1224.7 1328.8,1226 1330.8,1223.3 1332.8,1225 1334.8,1225.4 1336.8,1224.3 1338.8,1223.7 1340.8,1223.9 1342.8,1223.9 1344.8,1225.9 1346.8,1223.9 1348.8,1226.1 1350.8,1225 1352.8,1225.4 1354.8,1225.6 1356.8,1225.6 1358.8,1225.9 1360.8,1225.8 1362.8,1225.1 1364.8,1226.4 1366.8,1225 1368.8,1226.4 1370.8,1226.6 1372.8,1226.7 1374.8,1225.4 1376.8,1226.8 1378.8,1227.5 1380.8,1226 1382.8,1225.5 1384.8,1226.3 1386.8,1227.6 1388.8,1225.3 1390.8,1225 1392.8,1226.4 1394.8,1227 1396.8,1227.4 1398.8,1226.3 1400.8,1228.2 1402.8,1226 1404.8,1227.6 1406.8,1225.6 1408.8,1225.5 1410.8,1225.8 1412.8,1225.6 1414.8,1227 1416.8,1227.2 1418.8,1226 1420.8,1228.3 1422.8,1226.5 1424.8,1225.8 1426.8,1225.8 1428.8,1227.4 1430.8,1227.8 1432.8,1225.4 1434.8,1224.8 1436.8,1226.8 1438.8,1224.8 1440.8,1226.7 1442.8,1224.8 1444.8,1224.7 1446.8,1223.2 1448.8,1223.9 1450.8,1222.1 1452.8,1220.8 1454.8,1221.6 1456.8,1218.1 1458.8,1218.7 1460.8,1215.3 1462.8,1215.5 1464.8,1213.1 1466.8,1212.7 1468.8,1208.3 1470.8,1207.7 1472.8,1205 1474.8,1204.1 1476.8,1201.6 1478.8,1198 1480.8,1193.9 1482.8,1191.1 1484.8,1188.1 1486.8,1185.5 1488.8,1181.8 1490.8,1178.5 1492.8,1176.9 1494.8,1173.4 1496.8,1169.2 1498.8,1168.2 1500.8,1162.8 1502.8,1161 1504.8,1157.1 1506.8,1156.7 1508.8,1154.4 1510.8,1150.5 1512.8,1150.2 1514.8,1148.8 1516.8,1146 1518.8,1145.3 1520.8,1145.2 1522.8,1146.1 1524.8,1144.1 1526.8,1146.1 1528.8,1146.7 1530.8,1147.4 1532.8,1149.2 1534.8,1151.9 1536.8,1151.9 1538.8,1156.2 1540.8,1157.2 1542.8,1161.3 1544.8,1164.5 1546.8,1165.6 1548.8,1170.9 1550.8,1174.6 1552.8,1176 1554.8,1178.6 1556.8,1182.4 1558.8,1188.5 1560.8,1189 1562.8,1195.1 1564.8,1196.1 1566.8,1201.1 1568.8,1202.2 1570.8,1205.4 1572.8,1209.8 1574.8,1210.7 1576.8,1214 1578.8,1218.1 1580.8,1219.7 1582.8,1222.2 1584.8,1224.4 1586.8,1223.4 1588.8,1225.6 1590.8,1228.7 1592.8,1229.8 1594.8,1229 1596.8,1231.5 1598.8,1231.7 1600.8,1233.2 1602.8,1233 1604.8,1233.4 1606.8,1237 1608.8,1235.5 1610.8,1237.7 1612.8,1235.8 1614.8,1237.3 1616.8,1236.6 1618.8,1237.8 1620.8,1237.3 1622.8,1239 1624.8,1237.6 1626.8,1239.6 1628.8,1239 1630.8,1238 1632.8,1238.9 1634.8,1239.4 1636.8,1240.8 1638.8,1239.2 1640.8,1238.9 1642.8,1241.2 1644.8,1241.1 1646.8,1240.7 1648.8,1239.4 1650.8,1239.2 1652.8,1239.5 1654.8,1239 1656.8,1239 1658.8,1240.5 1660.8,1240.2 1662.8,1240.7 1664.8,1240.2 1666.8,1239.2 1668.8,1241.3 1670.8,1241.3 1672.8,1241 1674.8,1241.1 1676.8,1241.6 1678.8,1242.5 1680.8,1242.2 1682.8,1241.8 1684.8,1240.9 1686.8,1240.8 1688.8,1241.1 1690.8,1242.8 1692.8,1241.1 1694.8,1241.2 1696.8,1241.3 1698.8,1240.6 1700.8,1243.2 1702.8,1240.3 1704.8,1242.2 1706.8,1243.2 1708.8,1241.2 1710.8,1242.4 1712.8,1241.7 1714.8,1241.4 1716.8,1241.3 1718.8,1241.1 1720.8,1243.4 1722.8,1243.2 1724.8,1243.7 1726.8,1241.2 1728.8,1243.2 1730.8,1242.1 1732.8,1243.1 1734.8,1242.9 1736.8,1242.3 1738.8,1244.3 1740.8,1241.4 1742.8,1243.7 1744.8,1244.1 1746.8,1243.1 1748.8,1243.4 1750.8,1244.7 1752.8,1242.5 1754.8,1243.7 1756.8,1244.1 1758.8,1243.1 1760.8,1244.2 1762.8,1243.3 1764.8,1243.7 1766.8,1244 1768.8,1244.3 1770.8,1243.3 1772.8,1244.3 1774.8,1244.1 1776.8,1243.2 1778.8,1244.4 1780.8,1243.4 1782.8,1245.4" fill="none" stroke="#000" stroke-width="1.2" stroke-linejoin="round" stroke-linecap="round" />
<path d="M1059.8,1217.4a6,6 0 1,0 12,0a6,6 0 1,0 -12,0M1071.1,1218.3a6,6 0 1,0 12,0a6,6 0 1,0 -12,0M1081,1215a6,6 0 1,0 12,0a6,6 0 1,0 -12,0M1088.8,1223.7a6,6 0 1,0 12,0a6,6 0 1,0 -12,0M1099,1219.1a6,6 0 1,0 12,0a6,6 0 1,0 -12,0M1109.2,1222.9a6,6 0 1,0 12,0a6,6 0 1,0 -12,0M1117.6,1215.5a6,6 0 1,0 12,0a6,6 0 1,0 -12,0M1129.5,1219.3a6,6 0 1,0 12,0a6,6 0 1,0 -12,0M1140.4,1224a6,6 0 1,0 12,0a6,6 0 1,0 -12,0M1152.7,1224.9a6,6 0 1,0 12,0a6,6 0 1,0 -12,0M1160,1219.3a6,6 0 1,0 12,0a6,6 0 1,0 -12,0M1172,1224.9a6,6 0 1,0 12,0a6,6 0 1,0 -12,0M1179.7,1217.1a6,6 0 1,0 12,0a6,6 0 1,0 -12,0M1188.2,1216.8a6,6 0 1,0 12,0a6,6 0 1,0 -12,0M1197.4,1225.4a6,6 0 1,0 12,0a6,6 0 1,0 -12,0M1207.5,1221.5a6,6 0 1,0 12,0a6,6 0 1,0 -12,0M1215,1221.1a6,6 0 1,0 12,0a6,6 0 1,0 -12,0M1228,1225.1a6,6 0 1,0 12,0a6,6 0 1,0 -12,0M1237.7,1222.8a6,6 0 1,0 12,0a6,6 0 1,0 -12,0M1249.5,1226.5a6,6 0 1,0 12,0a6,6 0 1,0 -12,0M1257.4,1225.8a6,6 0 1,0 12,0a6,6 0 1,0 -12,0M1266.6,1224.1a6,6 0 1,0 12,0a6,6 0 1,0 -12,0M1275,1222.6a6,6 0 1,0 12,0a6,6 0 1,0 -12,0M1284.1,1223a6,6 0 1,0 12,0a6,6 0 1,0 -12,0M1291.2,1221a6,6 0 1,0 12,0a6,6 0 1,0 -12,0M1301.6,1219.6a6,6 0 1,0 12,0a6,6 0 1,0 -12,0M1309.7,1227.8a6,6 0 1,0 12,0a6,6 0 1,0 -12,0M1318.3,1223.3a6,6 0 1,0 12,0a6,6 0 1,0 -12,0M1326.8,1229.7a6,6 0 1,0 12,0a6,6 0 1,0 -12,0M1334.3,1227.6a6,6 0 1,0 12,0a6,6 0 1,0 -12,0M1346.5,1222.7a6,6 0 1,0 12,0a6,6 0 1,0 -12,0M1356,1230.1a6,6 0 1,0 12,0a6,6 0 1,0 -12,0M1366.7,1225.4a6,6 0 1,0 12,0a6,6 0 1,0 -12,0M1374,1226.4a6,6 0 1,0 12,0a6,6 0 1,0 -12,0M1383.2,1229.9a6,6 0 1,0 12,0a6,6 0 1,0 -12,0M1392,1226.5a6,6 0 1,0 12,0a6,6 0 1,0 -12,0M1402.9,1231.6a6,6 0 1,0 12,0a6,6 0 1,0 -12,0M1412,1226.6a6,6 0 1,0 12,0a6,6 0 1,0 -12,0M1422.4,1232.8a6,6 0 1,0 12,0a6,6 0 1,0 -12,0M1430.6,1232.6a6,6 0 1,0 12,0a6,6 0 1,0 -12,0M1441.9,1222.8a6,6 0 1,0 12,0a6,6 0 1,0 -12,0M1595.8,1230.2a6,6 0 1,0 12,0a6,6 0 1,0 -12,0M1604.1,1232.3a6,6 0 1,0 12,0a6,6 0 1,0 -12,0M1616,1234.6a6,6 0 1,0 12,0a6,6 0 1,0 -12,0M1623.5,1243.1a6,6 0 1,0 12,0a6,6 0 1,0 -12,0M1633.9,1235.4a6,6 0 1,0 12,0a6,6 0 1,0 -12,0M1645,1243.7a6,6 0 1,0 12,0a6,6 0 1,0 -12,0M1654.9,1236.2a6,6 0 1,0 12,0a6,6 0 1,0 -12,0M1666,1240.9a6,6 0 1,0 12,0a6,6 0 1,0 -12,0M1676.5,1248.2a6,6 0 1,0 12,0a6,6 0 1,0 -12,0M1688.4,1247a6,6 0 1,0 12,0a6,6 0 1,0 -12,0M1696.3,1240.8a6,6 0 1,0 12,0a6,6 0 1,0 -12,0M1706.4,1237.2a6,6 0 1,0 12,0a6,6 0 1,0 -12,0M1719.4,1240.8a6,6 0 1,0 12,0a6,6 0 1,0 -12,0M1727.9,1241.5a6,6 0 1,0 12,0a6,6 0 1,0 -12,0M1736.5,1248.3a6,6 0 1,0 12,0a6,6 0 1,0 -12,0M1746.8,1244.4a6,6 0 1,0 12,0a6,6 0 1,0 -12,0M1756.3,1239.2a6,6 0 1,0 12,0a6,6 0 1,0 -12,0M1765.1,1249.2a6,6 0 1,0 12,0a6,6 0 1,0 -12,0M1777,1249.5a6,6 0 1,0 12,0a6,6 0 1,0 -12,0" fill="none" stroke="#111" stroke-width="1.2"/>
<path d="M1427.3,1232.4a5.5,5.5 0 1,0 11,0a5.5,5.5 0 1,0 -11,0M1431.3,1232.2a5.5,5.5 0 1,0 11,0a5.5,5.5 0 1,0 -11,0M1435.3,1231.9a5.5,5.5 0 1,0 11,0a5.5,5.5 0 1,0 -11,0M1439.3,1231.4a5.5,5.5 0 1,0 11,0a5.5,5.5 0 1,0 -11,0M1443.3,1230.7a5.5,5.5 0 1,0 11,0a5.5,5.5 0 1,0 -11,0M1447.3,1229.8a5.5,5.5 0 1,0 11,0a5.5,5.5 0 1,0 -11,0M1451.3,1228.5a5.5,5.5 0 1,0 11,0a5.5,5.5 0 1,0 -11,0M1455.3,1226.8a5.5,5.5 0 1,0 11,0a5.5,5.5 0 1,0 -11,0M1459.3,1224.7a5.5,5.5 0 1,0 11,0a5.5,5.5 0 1,0 -11,0M1463.3,1222.1a5.5,5.5 0 1,0 11,0a5.5,5.5 0 1,0 -11,0M1467.3,1218.9a5.5,5.5 0 1,0 11,0a5.5,5.5 0 1,0 -11,0M1471.3,1215.1a5.5,5.5 0 1,0 11,0a5.5,5.5 0 1,0 -11,0M1475.3,1210.8a5.5,5.5 0 1,0 11,0a5.5,5.5 0 1,0 -11,0M1479.3,1205.8a5.5,5.5 0 1,0 11,0a5.5,5.5 0 1,0 -11,0M1483.3,1200.3a5.5,5.5 0 1,0 11,0a5.5,5.5 0 1,0 -11,0M1487.3,1194.3a5.5,5.5 0 1,0 11,0a5.5,5.5 0 1,0 -11,0M1491.3,1188.1a5.5,5.5 0 1,0 11,0a5.5,5.5 0 1,0 -11,0M1495.3,1181.6a5.5,5.5 0 1,0 11,0a5.5,5.5 0 1,0 -11,0M1499.3,1175.3a5.5,5.5 0 1,0 11,0a5.5,5.5 0 1,0 -11,0M1503.3,1169.2a5.5,5.5 0 1,0 11,0a5.5,5.5 0 1,0 -11,0M1507.3,1163.6a5.5,5.5 0 1,0 11,0a5.5,5.5 0 1,0 -11,0M1511.3,1158.8a5.5,5.5 0 1,0 11,0a5.5,5.5 0 1,0 -11,0M1515.3,1154.9a5.5,5.5 0 1,0 11,0a5.5,5.5 0 1,0 -11,0M1519.3,1152.2a5.5,5.5 0 1,0 11,0a5.5,5.5 0 1,0 -11,0M1523.3,1150.7a5.5,5.5 0 1,0 11,0a5.5,5.5 0 1,0 -11,0M1527.3,1150.6a5.5,5.5 0 1,0 11,0a5.5,5.5 0 1,0 -11,0M1531.3,1151.9a5.5,5.5 0 1,0 11,0a5.5,5.5 0 1,0 -11,0M1535.3,1154.5a5.5,5.5 0 1,0 11,0a5.5,5.5 0 1,0 -11,0M1539.3,1158.3a5.5,5.5 0 1,0 11,0a5.5,5.5 0 1,0 -11,0M1543.3,1163.2a5.5,5.5 0 1,0 11,0a5.5,5.5 0 1,0 -11,0M1547.3,1168.9a5.5,5.5 0 1,0 11,0a5.5,5.5 0 1,0 -11,0M1551.3,1175.3a5.5,5.5 0 1,0 11,0a5.5,5.5 0 1,0 -11,0M1555.3,1182.1a5.5,5.5 0 1,0 11,0a5.5,5.5 0 1,0 -11,0M1559.3,1189.1a5.5,5.5 0 1,0 11,0a5.5,5.5 0 1,0 -11,0M1563.3,1196a5.5,5.5 0 1,0 11,0a5.5,5.5 0 1,0 -11,0M1567.3,1202.6a5.5,5.5 0 1,0 11,0a5.5,5.5 0 1,0 -11,0M1571.3,1208.9a5.5,5.5 0 1,0 11,0a5.5,5.5 0 1,0 -11,0M1575.3,1214.7a5.5,5.5 0 1,0 11,0a5.5,5.5 0 1,0 -11,0M1579.3,1219.9a5.5,5.5 0 1,0 11,0a5.5,5.5 0 1,0 -11,0M1583.3,1224.5a5.5,5.5 0 1,0 11,0a5.5,5.5 0 1,0 -11,0M1587.3,1228.5a5.5,5.5 0 1,0 11,0a5.5,5.5 0 1,0 -11,0M1591.3,1231.9a5.5,5.5 0 1,0 11,0a5.5,5.5 0 1,0 -11,0M1595.3,1234.7a5.5,5.5 0 1,0 11,0a5.5,5.5 0 1,0 -11,0M1599.3,1237a5.5,5.5 0 1,0 11,0a5.5,5.5 0 1,0 -11,0M1603.3,1238.9a5.5,5.5 0 1,0 11,0a5.5,5.5 0 1,0 -11,0M1607.3,1240.4a5.5,5.5 0 1,0 11,0a5.5,5.5 0 1,0 -11,0M1611.3,1241.5a5.5,5.5 0 1,0 11,0a5.5,5.5 0 1,0 -11,0" fill="none" stroke="#8aa0ff" stroke-width="1.6"/>
<path d="M1058.5,1216.7a6.3,6.3 0 1,0 12.6,0a6.3,6.3 0 1,0 -12.6,0M1062.5,1216.8a6.3,6.3 0 1,0 12.6,0a6.3,6.3 0 1,0 -12.6,0M1066.5,1216.9a6.3,6.3 0 1,0 12.6,0a6.3,6.3 0 1,0 -12.6,0M1070.5,1217a6.3,6.3 0 1,0 12.6,0a6.3,6.3 0 1,0 -12.6,0M1074.5,1217.1a6.3,6.3 0 1,0 12.6,0a6.3,6.3 0 1,0 -12.6,0M1078.5,1217.2a6.3,6.3 0 1,0 12.6,0a6.3,6.3 0 1,0 -12.6,0M1082.5,1217.4a6.3,6.3 0 1,0 12.6,0a6.3,6.3 0 1,0 -12.6,0M1086.5,1217.5a6.3,6.3 0 1,0 12.6,0a6.3,6.3 0 1,0 -12.6,0M1090.5,1217.6a6.3,6.3 0 1,0 12.6,0a6.3,6.3 0 1,0 -12.6,0M1094.5,1217.7a6.3,6.3 0 1,0 12.6,0a6.3,6.3 0 1,0 -12.6,0M1098.5,1217.8a6.3,6.3 0 1,0 12.6,0a6.3,6.3 0 1,0 -12.6,0M1102.5,1218a6.3,6.3 0 1,0 12.6,0a6.3,6.3 0 1,0 -12.6,0M1106.5,1218.1a6.3,6.3 0 1,0 12.6,0a6.3,6.3 0 1,0 -12.6,0M1110.5,1218.2a6.3,6.3 0 1,0 12.6,0a6.3,6.3 0 1,0 -12.6,0M1114.5,1218.3a6.3,6.3 0 1,0 12.6,0a6.3,6.3 0 1,0 -12.6,0M1118.5,1218.5a6.3,6.3 0 1,0 12.6,0a6.3,6.3 0 1,0 -12.6,0M1122.5,1218.6a6.3,6.3 0 1,0 12.6,0a6.3,6.3 0 1,0 -12.6,0M1126.5,1218.7a6.3,6.3 0 1,0 12.6,0a6.3,6.3 0 1,0 -12.6,0M1130.5,1218.8a6.3,6.3 0 1,0 12.6,0a6.3,6.3 0 1,0 -12.6,0M1134.5,1218.9a6.3,6.3 0 1,0 12.6,0a6.3,6.3 0 1,0 -12.6,0M1138.5,1219.1a6.3,6.3 0 1,0 12.6,0a6.3,6.3 0 1,0 -12.6,0M1142.5,1219.2a6.3,6.3 0 1,0 12.6,0a6.3,6.3 0 1,0 -12.6,0M1146.5,1219.3a6.3,6.3 0 1,0 12.6,0a6.3,6.3 0 1,0 -12.6,0M1150.5,1219.4a6.3,6.3 0 1,0 12.6,0a6.3,6.3 0 1,0 -12.6,0M1154.5,1219.5a6.3,6.3 0 1,0 12.6,0a6.3,6.3 0 1,0 -12.6,0M1158.5,1219.7a6.3,6.3 0 1,0 12.6,0a6.3,6.3 0 1,0 -12.6,0M1162.5,1219.8a6.3,6.3 0 1,0 12.6,0a6.3,6.3 0 1,0 -12.6,0M1166.5,1219.9a6.3,6.3 0 1,0 12.6,0a6.3,6.3 0 1,0 -12.6,0M1170.5,1220a6.3,6.3 0 1,0 12.6,0a6.3,6.3 0 1,0 -12.6,0M1174.5,1220.1a6.3,6.3 0 1,0 12.6,0a6.3,6.3 0 1,0 -12.6,0M1178.5,1220.3a6.3,6.3 0 1,0 12.6,0a6.3,6.3 0 1,0 -12.6,0M1182.5,1220.4a6.3,6.3 0 1,0 12.6,0a6.3,6.3 0 1,0 -12.6,0M1186.5,1220.5a6.3,6.3 0 1,0 12.6,0a6.3,6.3 0 1,0 -12.6,0M1190.5,1220.6a6.3,6.3 0 1,0 12.6,0a6.3,6.3 0 1,0 -12.6,0M1194.5,1220.7a6.3,6.3 0 1,0 12.6,0a6.3,6.3 0 1,0 -12.6,0M1198.5,1220.9a6.3,6.3 0 1,0 12.6,0a6.3,6.3 0 1,0 -12.6,0M1202.5,1221a6.3,6.3 0 1,0 12.6,0a6.3,6.3 0 1,0 -12.6,0M1206.5,1221.1a6.3,6.3 0 1,0 12.6,0a6.3,6.3 0 1,0 -12.6,0M1210.5,1221.2a6.3,6.3 0 1,0 12.6,0a6.3,6.3 0 1,0 -12.6,0M1214.5,1221.3a6.3,6.3 0 1,0 12.6,0a6.3,6.3 0 1,0 -12.6,0M1218.5,1221.5a6.3,6.3 0 1,0 12.6,0a6.3,6.3 0 1,0 -12.6,0M1222.5,1221.6a6.3,6.3 0 1,0 12.6,0a6.3,6.3 0 1,0 -12.6,0M1226.5,1221.7a6.3,6.3 0 1,0 12.6,0a6.3,6.3 0 1,0 -12.6,0M1230.5,1221.8a6.3,6.3 0 1,0 12.6,0a6.3,6.3 0 1,0 -12.6,0M1234.5,1221.9a6.3,6.3 0 1,0 12.6,0a6.3,6.3 0 1,0 -12.6,0M1238.5,1222.1a6.3,6.3 0 1,0 12.6,0a6.3,6.3 0 1,0 -12.6,0M1242.5,1222.2a6.3,6.3 0 1,0 12.6,0a6.3,6.3 0 1,0 -12.6,0M1246.5,1222.3a6.3,6.3 0 1,0 12.6,0a6.3,6.3 0 1,0 -12.6,0M1250.5,1222.4a6.3,6.3 0 1,0 12.6,0a6.3,6.3 0 1,0 -12.6,0M1254.5,1222.5a6.3,6.3 0 1,0 12.6,0a6.3,6.3 0 1,0 -12.6,0M1258.5,1222.7a6.3,6.3 0 1,0 12.6,0a6.3,6.3 0 1,0 -12.6,0M1262.5,1222.8a6.3,6.3 0 1,0 12.6,0a6.3,6.3 0 1,0 -12.6,0M1266.5,1222.9a6.3,6.3 0 1,0 12.6,0a6.3,6.3 0 1,0 -12.6,0M1270.5,1223a6.3,6.3 0 1,0 12.6,0a6.3,6.3 0 1,0 -12.6,0M1274.5,1223.1a6.3,6.3 0 1,0 12.6,0a6.3,6.3 0 1,0 -12.6,0M1278.5,1223.3a6.3,6.3 0 1,0 12.6,0a6.3,6.3 0 1,0 -12.6,0M1282.5,1223.4a6.3,6.3 0 1,0 12.6,0a6.3,6.3 0 1,0 -12.6,0M1286.5,1223.5a6.3,6.3 0 1,0 12.6,0a6.3,6.3 0 1,0 -12.6,0M1290.5,1223.6a6.3,6.3 0 1,0 12.6,0a6.3,6.3 0 1,0 -12.6,0M1294.5,1223.7a6.3,6.3 0 1,0 12.6,0a6.3,6.3 0 1,0 -12.6,0M1298.5,1223.9a6.3,6.3 0 1,0 12.6,0a6.3,6.3 0 1,0 -12.6,0M1302.5,1224a6.3,6.3 0 1,0 12.6,0a6.3,6.3 0 1,0 -12.6,0M1306.5,1224.1a6.3,6.3 0 1,0 12.6,0a6.3,6.3 0 1,0 -12.6,0M1310.5,1224.2a6.3,6.3 0 1,0 12.6,0a6.3,6.3 0 1,0 -12.6,0M1314.5,1224.3a6.3,6.3 0 1,0 12.6,0a6.3,6.3 0 1,0 -12.6,0M1318.5,1224.5a6.3,6.3 0 1,0 12.6,0a6.3,6.3 0 1,0 -12.6,0M1322.5,1224.6a6.3,6.3 0 1,0 12.6,0a6.3,6.3 0 1,0 -12.6,0M1326.5,1224.7a6.3,6.3 0 1,0 12.6,0a6.3,6.3 0 1,0 -12.6,0M1330.5,1224.8a6.3,6.3 0 1,0 12.6,0a6.3,6.3 0 1,0 -12.6,0M1334.5,1224.9a6.3,6.3 0 1,0 12.6,0a6.3,6.3 0 1,0 -12.6,0M1338.5,1225.1a6.3,6.3 0 1,0 12.6,0a6.3,6.3 0 1,0 -12.6,0M1342.5,1225.2a6.3,6.3 0 1,0 12.6,0a6.3,6.3 0 1,0 -12.6,0M1346.5,1225.3a6.3,6.3 0 1,0 12.6,0a6.3,6.3 0 1,0 -12.6,0M1350.5,1225.4a6.3,6.3 0 1,0 12.6,0a6.3,6.3 0 1,0 -12.6,0M1354.5,1225.5a6.3,6.3 0 1,0 12.6,0a6.3,6.3 0 1,0 -12.6,0M1358.5,1225.7a6.3,6.3 0 1,0 12.6,0a6.3,6.3 0 1,0 -12.6,0M1362.5,1225.8a6.3,6.3 0 1,0 12.6,0a6.3,6.3 0 1,0 -12.6,0M1366.5,1225.9a6.3,6.3 0 1,0 12.6,0a6.3,6.3 0 1,0 -12.6,0M1370.5,1226a6.3,6.3 0 1,0 12.6,0a6.3,6.3 0 1,0 -12.6,0M1374.5,1226.1a6.3,6.3 0 1,0 12.6,0a6.3,6.3 0 1,0 -12.6,0M1378.5,1226.3a6.3,6.3 0 1,0 12.6,0a6.3,6.3 0 1,0 -12.6,0M1382.5,1226.4a6.3,6.3 0 1,0 12.6,0a6.3,6.3 0 1,0 -12.6,0M1386.5,1226.5a6.3,6.3 0 1,0 12.6,0a6.3,6.3 0 1,0 -12.6,0M1390.5,1226.6a6.3,6.3 0 1,0 12.6,0a6.3,6.3 0 1,0 -12.6,0M1394.5,1226.7a6.3,6.3 0 1,0 12.6,0a6.3,6.3 0 1,0 -12.6,0M1398.5,1226.8a6.3,6.3 0 1,0 12.6,0a6.3,6.3 0 1,0 -12.6,0M1402.5,1226.9a6.3,6.3 0 1,0 12.6,0a6.3,6.3 0 1,0 -12.6,0M1406.5,1227a6.3,6.3 0 1,0 12.6,0a6.3,6.3 0 1,0 -12.6,0M1410.5,1227a6.3,6.3 0 1,0 12.6,0a6.3,6.3 0 1,0 -12.6,0M1414.5,1227a6.3,6.3 0 1,0 12.6,0a6.3,6.3 0 1,0 -12.6,0M1418.5,1226.9a6.3,6.3 0 1,0 12.6,0a6.3,6.3 0 1,0 -12.6,0M1422.5,1226.7a6.3,6.3 0 1,0 12.6,0a6.3,6.3 0 1,0 -12.6,0M1426.5,1226.4a6.3,6.3 0 1,0 12.6,0a6.3,6.3 0 1,0 -12.6,0M1430.5,1225.9a6.3,6.3 0 1,0 12.6,0a6.3,6.3 0 1,0 -12.6,0M1434.5,1225.2a6.3,6.3 0 1,0 12.6,0a6.3,6.3 0 1,0 -12.6,0M1438.5,1224.3a6.3,6.3 0 1,0 12.6,0a6.3,6.3 0 1,0 -12.6,0M1442.5,1223a6.3,6.3 0 1,0 12.6,0a6.3,6.3 0 1,0 -12.6,0M1446.5,1221.3a6.3,6.3 0 1,0 12.6,0a6.3,6.3 0 1,0 -12.6,0M1450.5,1219.2a6.3,6.3 0 1,0 12.6,0a6.3,6.3 0 1,0 -12.6,0M1454.5,1216.6a6.3,6.3 0 1,0 12.6,0a6.3,6.3 0 1,0 -12.6,0M1458.5,1213.4a6.3,6.3 0 1,0 12.6,0a6.3,6.3 0 1,0 -12.6,0M1462.5,1209.6a6.3,6.3 0 1,0 12.6,0a6.3,6.3 0 1,0 -12.6,0M1466.5,1205.3a6.3,6.3 0 1,0 12.6,0a6.3,6.3 0 1,0 -12.6,0M1470.5,1200.3a6.3,6.3 0 1,0 12.6,0a6.3,6.3 0 1,0 -12.6,0M1474.5,1194.8a6.3,6.3 0 1,0 12.6,0a6.3,6.3 0 1,0 -12.6,0M1478.5,1188.8a6.3,6.3 0 1,0 12.6,0a6.3,6.3 0 1,0 -12.6,0M1482.5,1182.6a6.3,6.3 0 1,0 12.6,0a6.3,6.3 0 1,0 -12.6,0M1486.5,1176.1a6.3,6.3 0 1,0 12.6,0a6.3,6.3 0 1,0 -12.6,0M1490.5,1169.8a6.3,6.3 0 1,0 12.6,0a6.3,6.3 0 1,0 -12.6,0M1494.5,1163.7a6.3,6.3 0 1,0 12.6,0a6.3,6.3 0 1,0 -12.6,0M1498.5,1158.1a6.3,6.3 0 1,0 12.6,0a6.3,6.3 0 1,0 -12.6,0M1502.5,1153.3a6.3,6.3 0 1,0 12.6,0a6.3,6.3 0 1,0 -12.6,0M1506.5,1149.4a6.3,6.3 0 1,0 12.6,0a6.3,6.3 0 1,0 -12.6,0M1510.5,1146.7a6.3,6.3 0 1,0 12.6,0a6.3,6.3 0 1,0 -12.6,0M1514.5,1145.2a6.3,6.3 0 1,0 12.6,0a6.3,6.3 0 1,0 -12.6,0M1518.5,1145.1a6.3,6.3 0 1,0 12.6,0a6.3,6.3 0 1,0 -12.6,0M1522.5,1146.4a6.3,6.3 0 1,0 12.6,0a6.3,6.3 0 1,0 -12.6,0M1526.5,1149a6.3,6.3 0 1,0 12.6,0a6.3,6.3 0 1,0 -12.6,0M1530.5,1152.8a6.3,6.3 0 1,0 12.6,0a6.3,6.3 0 1,0 -12.6,0M1534.5,1157.7a6.3,6.3 0 1,0 12.6,0a6.3,6.3 0 1,0 -12.6,0M1538.5,1163.4a6.3,6.3 0 1,0 12.6,0a6.3,6.3 0 1,0 -12.6,0M1542.5,1169.8a6.3,6.3 0 1,0 12.6,0a6.3,6.3 0 1,0 -12.6,0M1546.5,1176.6a6.3,6.3 0 1,0 12.6,0a6.3,6.3 0 1,0 -12.6,0M1550.5,1183.6a6.3,6.3 0 1,0 12.6,0a6.3,6.3 0 1,0 -12.6,0M1554.5,1190.5a6.3,6.3 0 1,0 12.6,0a6.3,6.3 0 1,0 -12.6,0M1558.5,1197.1a6.3,6.3 0 1,0 12.6,0a6.3,6.3 0 1,0 -12.6,0M1562.5,1203.4a6.3,6.3 0 1,0 12.6,0a6.3,6.3 0 1,0 -12.6,0M1566.5,1209.2a6.3,6.3 0 1,0 12.6,0a6.3,6.3 0 1,0 -12.6,0M1570.5,1214.4a6.3,6.3 0 1,0 12.6,0a6.3,6.3 0 1,0 -12.6,0M1574.5,1219a6.3,6.3 0 1,0 12.6,0a6.3,6.3 0 1,0 -12.6,0M1578.5,1223a6.3,6.3 0 1,0 12.6,0a6.3,6.3 0 1,0 -12.6,0M1582.5,1226.4a6.3,6.3 0 1,0 12.6,0a6.3,6.3 0 1,0 -12.6,0M1586.5,1229.2a6.3,6.3 0 1,0 12.6,0a6.3,6.3 0 1,0 -12.6,0M1590.5,1231.5a6.3,6.3 0 1,0 12.6,0a6.3,6.3 0 1,0 -12.6,0M1594.5,1233.4a6.3,6.3 0 1,0 12.6,0a6.3,6.3 0 1,0 -12.6,0M1598.5,1234.9a6.3,6.3 0 1,0 12.6,0a6.3,6.3 0 1,0 -12.6,0M1602.5,1236a6.3,6.3 0 1,0 12.6,0a6.3,6.3 0 1,0 -12.6,0M1606.5,1237a6.3,6.3 0 1,0 12.6,0a6.3,6.3 0 1,0 -12.6,0M1610.5,1237.7a6.3,6.3 0 1,0 12.6,0a6.3,6.3 0 1,0 -12.6,0M1614.5,1238.2a6.3,6.3 0 1,0 12.6,0a6.3,6.3 0 1,0 -12.6,0M1618.5,1238.7a6.3,6.3 0 1,0 12.6,0a6.3,6.3 0 1,0 -12.6,0M1622.5,1239a6.3,6.3 0 1,0 12.6,0a6.3,6.3 0 1,0 -12.6,0M1626.5,1239.3a6.3,6.3 0 1,0 12.6,0a6.3,6.3 0 1,0 -12.6,0M1630.5,1239.6a6.3,6.3 0 1,0 12.6,0a6.3,6.3 0 1,0 -12.6,0M1634.5,1239.7a6.3,6.3 0 1,0 12.6,0a6.3,6.3 0 1,0 -12.6,0M1638.5,1239.9a6.3,6.3 0 1,0 12.6,0a6.3,6.3 0 1,0 -12.6,0M1642.5,1240.1a6.3,6.3 0 1,0 12.6,0a6.3,6.3 0 1,0 -12.6,0M1646.5,1240.2a6.3,6.3 0 1,0 12.6,0a6.3,6.3 0 1,0 -12.6,0M1650.5,1240.4a6.3,6.3 0 1,0 12.6,0a6.3,6.3 0 1,0 -12.6,0M1654.5,1240.5a6.3,6.3 0 1,0 12.6,0a6.3,6.3 0 1,0 -12.6,0M1658.5,1240.6a6.3,6.3 0 1,0 12.6,0a6.3,6.3 0 1,0 -12.6,0M1662.5,1240.8a6.3,6.3 0 1,0 12.6,0a6.3,6.3 0 1,0 -12.6,0M1666.5,1240.9a6.3,6.3 0 1,0 12.6,0a6.3,6.3 0 1,0 -12.6,0M1670.5,1241a6.3,6.3 0 1,0 12.6,0a6.3,6.3 0 1,0 -12.6,0M1674.5,1241.1a6.3,6.3 0 1,0 12.6,0a6.3,6.3 0 1,0 -12.6,0M1678.5,1241.2a6.3,6.3 0 1,0 12.6,0a6.3,6.3 0 1,0 -12.6,0M1682.5,1241.4a6.3,6.3 0 1,0 12.6,0a6.3,6.3 0 1,0 -12.6,0M1686.5,1241.5a6.3,6.3 0 1,0 12.6,0a6.3,6.3 0 1,0 -12.6,0M1690.5,1241.6a6.3,6.3 0 1,0 12.6,0a6.3,6.3 0 1,0 -12.6,0M1694.5,1241.7a6.3,6.3 0 1,0 12.6,0a6.3,6.3 0 1,0 -12.6,0M1698.5,1241.8a6.3,6.3 0 1,0 12.6,0a6.3,6.3 0 1,0 -12.6,0M1702.5,1242a6.3,6.3 0 1,0 12.6,0a6.3,6.3 0 1,0 -12.6,0M1706.5,1242.1a6.3,6.3 0 1,0 12.6,0a6.3,6.3 0 1,0 -12.6,0M1710.5,1242.2a6.3,6.3 0 1,0 12.6,0a6.3,6.3 0 1,0 -12.6,0M1714.5,1242.3a6.3,6.3 0 1,0 12.6,0a6.3,6.3 0 1,0 -12.6,0M1718.5,1242.4a6.3,6.3 0 1,0 12.6,0a6.3,6.3 0 1,0 -12.6,0M1722.5,1242.6a6.3,6.3 0 1,0 12.6,0a6.3,6.3 0 1,0 -12.6,0M1726.5,1242.7a6.3,6.3 0 1,0 12.6,0a6.3,6.3 0 1,0 -12.6,0M1730.5,1242.8a6.3,6.3 0 1,0 12.6,0a6.3,6.3 0 1,0 -12.6,0M1734.5,1242.9a6.3,6.3 0 1,0 12.6,0a6.3,6.3 0 1,0 -12.6,0M1738.5,1243a6.3,6.3 0 1,0 12.6,0a6.3,6.3 0 1,0 -12.6,0M1742.5,1243.2a6.3,6.3 0 1,0 12.6,0a6.3,6.3 0 1,0 -12.6,0M1746.5,1243.3a6.3,6.3 0 1,0 12.6,0a6.3,6.3 0 1,0 -12.6,0M1750.5,1243.4a6.3,6.3 0 1,0 12.6,0a6.3,6.3 0 1,0 -12.6,0M1754.5,1243.5a6.3,6.3 0 1,0 12.6,0a6.3,6.3 0 1,0 -12.6,0M1758.5,1243.6a6.3,6.3 0 1,0 12.6,0a6.3,6.3 0 1,0 -12.6,0M1762.5,1243.8a6.3,6.3 0 1,0 12.6,0a6.3,6.3 0 1,0 -12.6,0M1766.5,1243.9a6.3,6.3 0 1,0 12.6,0a6.3,6.3 0 1,0 -12.6,0M1770.5,1244a6.3,6.3 0 1,0 12.6,0a6.3,6.3 0 1,0 -12.6,0M1774.5,1244.1a6.3,6.3 0 1,0 12.6,0a6.3,6.3 0 1,0 -12.6,0" fill="none" stroke="#2020ff" stroke-width="1.9"/>
<polyline points="1064.8,1216.7 1066.8,1216.7 1068.8,1216.8 1070.8,1216.8 1072.8,1216.9 1074.8,1217 1076.8,1217 1078.8,1217.1 1080.8,1217.1 1082.8,1217.2 1084.8,1217.2 1086.8,1217.3 1088.8,1217.4 1090.8,1217.4 1092.8,1217.5 1094.8,1217.5 1096.8,1217.6 1098.8,1217.7 1100.8,1217.7 1102.8,1217.8 1104.8,1217.8 1106.8,1217.9 1108.8,1218 1110.8,1218 1112.8,1218.1 1114.8,1218.2 1116.8,1218.2 1118.8,1218.3 1120.8,1218.3 1122.8,1218.4 1124.8,1218.5 1126.8,1218.5 1128.8,1218.6 1130.8,1218.6 1132.8,1218.7 1134.8,1218.8 1136.8,1218.8 1138.8,1218.9 1140.8,1218.9 1142.8,1219 1144.8,1219.1 1146.8,1219.1 1148.8,1219.2 1150.8,1219.2 1152.8,1219.3 1154.8,1219.4 1156.8,1219.4 1158.8,1219.5 1160.8,1219.5 1162.8,1219.6 1164.8,1219.7 1166.8,1219.7 1168.8,1219.8 1170.8,1219.8 1172.8,1219.9 1174.8,1220 1176.8,1220 1178.8,1220.1 1180.8,1220.1 1182.8,1220.2 1184.8,1220.3 1186.8,1220.3 1188.8,1220.4 1190.8,1220.4 1192.8,1220.5 1194.8,1220.6 1196.8,1220.6 1198.8,1220.7 1200.8,1220.7 1202.8,1220.8 1204.8,1220.9 1206.8,1220.9 1208.8,1221 1210.8,1221 1212.8,1221.1 1214.8,1221.2 1216.8,1221.2 1218.8,1221.3 1220.8,1221.3 1222.8,1221.4 1224.8,1221.5 1226.8,1221.5 1228.8,1221.6 1230.8,1221.6 1232.8,1221.7 1234.8,1221.8 1236.8,1221.8 1238.8,1221.9 1240.8,1221.9 1242.8,1222 1244.8,1222.1 1246.8,1222.1 1248.8,1222.2 1250.8,1222.2 1252.8,1222.3 1254.8,1222.4 1256.8,1222.4 1258.8,1222.5 1260.8,1222.5 1262.8,1222.6 1264.8,1222.7 1266.8,1222.7 1268.8,1222.8 1270.8,1222.8 1272.8,1222.9 1274.8,1223 1276.8,1223 1278.8,1223.1 1280.8,1223.1 1282.8,1223.2 1284.8,1223.3 1286.8,1223.3 1288.8,1223.4 1290.8,1223.4 1292.8,1223.5 1294.8,1223.6 1296.8,1223.6 1298.8,1223.7 1300.8,1223.7 1302.8,1223.8 1304.8,1223.9 1306.8,1223.9 1308.8,1224 1310.8,1224 1312.8,1224.1 1314.8,1224.2 1316.8,1224.2 1318.8,1224.3 1320.8,1224.3 1322.8,1224.4 1324.8,1224.5 1326.8,1224.5 1328.8,1224.6 1330.8,1224.6 1332.8,1224.7 1334.8,1224.8 1336.8,1224.8 1338.8,1224.9 1340.8,1224.9 1342.8,1225 1344.8,1225.1 1346.8,1225.1 1348.8,1225.2 1350.8,1225.2 1352.8,1225.3 1354.8,1225.4 1356.8,1225.4 1358.8,1225.5 1360.8,1225.5 1362.8,1225.6 1364.8,1225.7 1366.8,1225.7 1368.8,1225.8 1370.8,1225.8 1372.8,1225.9 1374.8,1226 1376.8,1226 1378.8,1226.1 1380.8,1226.1 1382.8,1226.2 1384.8,1226.3 1386.8,1226.3 1388.8,1226.4 1390.8,1226.4 1392.8,1226.5 1394.8,1226.6 1396.8,1226.6 1398.8,1226.7 1400.8,1226.7 1402.8,1226.8 1404.8,1226.8 1406.8,1226.9 1408.8,1226.9 1410.8,1226.9 1412.8,1227 1414.8,1227 1416.8,1227 1418.8,1227 1420.8,1227 1422.8,1226.9 1424.8,1226.9 1426.8,1226.8 1428.8,1226.7 1430.8,1226.6 1432.8,1226.4 1434.8,1226.2 1436.8,1225.9 1438.8,1225.6 1440.8,1225.2 1442.8,1224.8 1444.8,1224.3 1446.8,1223.7 1448.8,1223 1450.8,1222.2 1452.8,1221.3 1454.8,1220.3 1456.8,1219.2 1458.8,1218 1460.8,1216.6 1462.8,1215.1 1464.8,1213.4 1466.8,1211.6 1468.8,1209.6 1470.8,1207.5 1472.8,1205.3 1474.8,1202.8 1476.8,1200.3 1478.8,1197.6 1480.8,1194.8 1482.8,1191.8 1484.8,1188.8 1486.8,1185.7 1488.8,1182.6 1490.8,1179.4 1492.8,1176.1 1494.8,1172.9 1496.8,1169.8 1498.8,1166.7 1500.8,1163.7 1502.8,1160.8 1504.8,1158.1 1506.8,1155.6 1508.8,1153.3 1510.8,1151.2 1512.8,1149.4 1514.8,1147.9 1516.8,1146.7 1518.8,1145.8 1520.8,1145.2 1522.8,1145 1524.8,1145.1 1526.8,1145.6 1528.8,1146.4 1530.8,1147.5 1532.8,1149 1534.8,1150.7 1536.8,1152.8 1538.8,1155.1 1540.8,1157.7 1542.8,1160.4 1544.8,1163.4 1546.8,1166.5 1548.8,1169.8 1550.8,1173.2 1552.8,1176.6 1554.8,1180.1 1556.8,1183.6 1558.8,1187 1560.8,1190.5 1562.8,1193.8 1564.8,1197.1 1566.8,1200.3 1568.8,1203.4 1570.8,1206.4 1572.8,1209.2 1574.8,1211.9 1576.8,1214.4 1578.8,1216.8 1580.8,1219 1582.8,1221.1 1584.8,1223 1586.8,1224.8 1588.8,1226.4 1590.8,1227.8 1592.8,1229.2 1594.8,1230.4 1596.8,1231.5 1598.8,1232.5 1600.8,1233.4 1602.8,1234.2 1604.8,1234.9 1606.8,1235.5 1608.8,1236 1610.8,1236.5 1612.8,1237 1614.8,1237.3 1616.8,1237.7 1618.8,1238 1620.8,1238.2 1622.8,1238.5 1624.8,1238.7 1626.8,1238.9 1628.8,1239 1630.8,1239.2 1632.8,1239.3 1634.8,1239.4 1636.8,1239.6 1638.8,1239.7 1640.8,1239.7 1642.8,1239.8 1644.8,1239.9 1646.8,1240 1648.8,1240.1 1650.8,1240.2 1652.8,1240.2 1654.8,1240.3 1656.8,1240.4 1658.8,1240.4 1660.8,1240.5 1662.8,1240.6 1664.8,1240.6 1666.8,1240.7 1668.8,1240.8 1670.8,1240.8 1672.8,1240.9 1674.8,1240.9 1676.8,1241 1678.8,1241.1 1680.8,1241.1 1682.8,1241.2 1684.8,1241.2 1686.8,1241.3 1688.8,1241.4 1690.8,1241.4 1692.8,1241.5 1694.8,1241.5 1696.8,1241.6 1698.8,1241.7 1700.8,1241.7 1702.8,1241.8 1704.8,1241.8 1706.8,1241.9 1708.8,1242 1710.8,1242 1712.8,1242.1 1714.8,1242.1 1716.8,1242.2 1718.8,1242.3 1720.8,1242.3 1722.8,1242.4 1724.8,1242.4 1726.8,1242.5 1728.8,1242.6 1730.8,1242.6 1732.8,1242.7 1734.8,1242.7 1736.8,1242.8 1738.8,1242.9 1740.8,1242.9 1742.8,1243 1744.8,1243 1746.8,1243.1 1748.8,1243.2 1750.8,1243.2 1752.8,1243.3 1754.8,1243.3 1756.8,1243.4 1758.8,1243.5 1760.8,1243.5 1762.8,1243.6 1764.8,1243.6 1766.8,1243.7 1768.8,1243.8 1770.8,1243.8 1772.8,1243.9 1774.8,1243.9 1776.8,1244 1778.8,1244.1 1780.8,1244.1 1782.8,1244.2" fill="none" stroke="#1010ff" stroke-width="3.5" stroke-linejoin="round" stroke-linecap="round" />
<path d="M1432.2,1226.2a2.6,2.6 0 1,0 5.2,0a2.6,2.6 0 1,0 -5.2,0M1437.2,1225.4a2.6,2.6 0 1,0 5.2,0a2.6,2.6 0 1,0 -5.2,0M1442.2,1224.3a2.6,2.6 0 1,0 5.2,0a2.6,2.6 0 1,0 -5.2,0M1447.2,1222.6a2.6,2.6 0 1,0 5.2,0a2.6,2.6 0 1,0 -5.2,0M1452.2,1220.3a2.6,2.6 0 1,0 5.2,0a2.6,2.6 0 1,0 -5.2,0M1457.2,1217.3a2.6,2.6 0 1,0 5.2,0a2.6,2.6 0 1,0 -5.2,0M1462.2,1213.4a2.6,2.6 0 1,0 5.2,0a2.6,2.6 0 1,0 -5.2,0M1467.2,1208.6a2.6,2.6 0 1,0 5.2,0a2.6,2.6 0 1,0 -5.2,0M1472.2,1202.8a2.6,2.6 0 1,0 5.2,0a2.6,2.6 0 1,0 -5.2,0M1477.2,1196.2a2.6,2.6 0 1,0 5.2,0a2.6,2.6 0 1,0 -5.2,0M1482.2,1188.8a2.6,2.6 0 1,0 5.2,0a2.6,2.6 0 1,0 -5.2,0M1487.2,1181a2.6,2.6 0 1,0 5.2,0a2.6,2.6 0 1,0 -5.2,0M1492.2,1172.9a2.6,2.6 0 1,0 5.2,0a2.6,2.6 0 1,0 -5.2,0M1497.2,1165.2a2.6,2.6 0 1,0 5.2,0a2.6,2.6 0 1,0 -5.2,0M1502.2,1158.1a2.6,2.6 0 1,0 5.2,0a2.6,2.6 0 1,0 -5.2,0M1507.2,1152.2a2.6,2.6 0 1,0 5.2,0a2.6,2.6 0 1,0 -5.2,0M1512.2,1147.9a2.6,2.6 0 1,0 5.2,0a2.6,2.6 0 1,0 -5.2,0M1517.2,1145.4a2.6,2.6 0 1,0 5.2,0a2.6,2.6 0 1,0 -5.2,0M1522.2,1145.1a2.6,2.6 0 1,0 5.2,0a2.6,2.6 0 1,0 -5.2,0M1527.2,1146.9a2.6,2.6 0 1,0 5.2,0a2.6,2.6 0 1,0 -5.2,0M1532.2,1150.7a2.6,2.6 0 1,0 5.2,0a2.6,2.6 0 1,0 -5.2,0M1537.2,1156.3a2.6,2.6 0 1,0 5.2,0a2.6,2.6 0 1,0 -5.2,0M1542.2,1163.4a2.6,2.6 0 1,0 5.2,0a2.6,2.6 0 1,0 -5.2,0M1547.2,1171.5a2.6,2.6 0 1,0 5.2,0a2.6,2.6 0 1,0 -5.2,0M1552.2,1180.1a2.6,2.6 0 1,0 5.2,0a2.6,2.6 0 1,0 -5.2,0M1557.2,1188.8a2.6,2.6 0 1,0 5.2,0a2.6,2.6 0 1,0 -5.2,0M1562.2,1197.1a2.6,2.6 0 1,0 5.2,0a2.6,2.6 0 1,0 -5.2,0M1567.2,1204.9a2.6,2.6 0 1,0 5.2,0a2.6,2.6 0 1,0 -5.2,0M1572.2,1211.9a2.6,2.6 0 1,0 5.2,0a2.6,2.6 0 1,0 -5.2,0M1577.2,1217.9a2.6,2.6 0 1,0 5.2,0a2.6,2.6 0 1,0 -5.2,0M1582.2,1223a2.6,2.6 0 1,0 5.2,0a2.6,2.6 0 1,0 -5.2,0M1587.2,1227.1a2.6,2.6 0 1,0 5.2,0a2.6,2.6 0 1,0 -5.2,0M1592.2,1230.4a2.6,2.6 0 1,0 5.2,0a2.6,2.6 0 1,0 -5.2,0M1597.2,1232.9a2.6,2.6 0 1,0 5.2,0a2.6,2.6 0 1,0 -5.2,0M1602.2,1234.9a2.6,2.6 0 1,0 5.2,0a2.6,2.6 0 1,0 -5.2,0M1607.2,1236.3a2.6,2.6 0 1,0 5.2,0a2.6,2.6 0 1,0 -5.2,0" fill="#ff1010" stroke="none"/>
<text x="1287" y="1170.1" font-family="'Liberation Serif','Times New Roman',serif" font-size="44" font-weight="bold" text-anchor="start" fill="#000000" >Al 2p</text>
<line x1="1398" y1="1152.7" x2="1482" y2="1145.1" stroke="#000000" stroke-width="5" stroke-linecap="butt"/>
<path d="M1478,1136.6 L1496,1143.6 L1480,1152.6 Z" fill="#000000"/>
<text x="1780" y="1167.2" font-family="'Liberation Serif','Times New Roman',serif" font-size="40" font-weight="bold" fill="#000000" text-anchor="end">0.2 A cm<tspan dy="-13" font-size="26">-2</tspan></text>
<polyline points="1062.8,1312.5 1787,1313" fill="none" stroke="#0000c0" stroke-width="3" stroke-linejoin="round" stroke-linecap="round" />
<polyline points="1062.8,1309.3 1787,1309.8" fill="none" stroke="#008a88" stroke-width="5" stroke-linejoin="round" stroke-linecap="round" />
<text x="1782.5" y="1292.2" font-family="'Liberation Serif','Times New Roman',serif" font-size="40.5" font-weight="bold" text-anchor="end" fill="#000" >NaCl-KCl</text>
<text transform="translate(1058.3,1350.8) scale(1.4,1)" font-family="'Liberation Sans',Arial,sans-serif" font-size="30.5" font-weight="bold" text-anchor="middle" fill="#000">84</text>
<text transform="translate(1149.6,1350.8) scale(1.4,1)" font-family="'Liberation Sans',Arial,sans-serif" font-size="30.5" font-weight="bold" text-anchor="middle" fill="#000">82</text>
<text transform="translate(1240.9,1350.8) scale(1.4,1)" font-family="'Liberation Sans',Arial,sans-serif" font-size="30.5" font-weight="bold" text-anchor="middle" fill="#000">80</text>
<text transform="translate(1332.2,1350.8) scale(1.4,1)" font-family="'Liberation Sans',Arial,sans-serif" font-size="30.5" font-weight="bold" text-anchor="middle" fill="#000">78</text>
<text transform="translate(1423.5,1350.8) scale(1.4,1)" font-family="'Liberation Sans',Arial,sans-serif" font-size="30.5" font-weight="bold" text-anchor="middle" fill="#000">76</text>
<text transform="translate(1514.8,1350.8) scale(1.4,1)" font-family="'Liberation Sans',Arial,sans-serif" font-size="30.5" font-weight="bold" text-anchor="middle" fill="#000">74</text>
<text transform="translate(1606.1,1350.8) scale(1.4,1)" font-family="'Liberation Sans',Arial,sans-serif" font-size="30.5" font-weight="bold" text-anchor="middle" fill="#000">72</text>
<text transform="translate(1697.4,1350.8) scale(1.4,1)" font-family="'Liberation Sans',Arial,sans-serif" font-size="30.5" font-weight="bold" text-anchor="middle" fill="#000">70</text>
<text transform="translate(1788.7,1350.8) scale(1.4,1)" font-family="'Liberation Sans',Arial,sans-serif" font-size="30.5" font-weight="bold" text-anchor="middle" fill="#000">68</text>
<text transform="translate(1013.4,1001.4) rotate(-90) scale(1,1.37)" font-family="'Liberation Serif','Times New Roman',serif" font-size="32.2" font-weight="bold" text-anchor="middle" fill="#000">Intensity / a.u.</text>
<text transform="translate(1425,1396.2) scale(1.37,1)" font-family="'Liberation Serif','Times New Roman',serif" font-size="31" font-weight="bold" text-anchor="middle" fill="#000">Binding Energy / e V</text>
</svg></body></html>
